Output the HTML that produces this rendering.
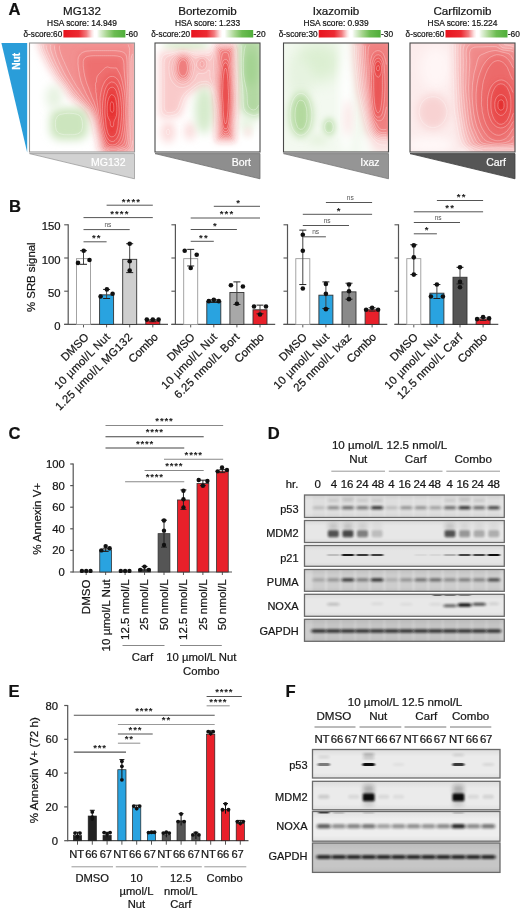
<!DOCTYPE html>
<html><head><meta charset="utf-8"><style>
html,body{margin:0;padding:0;background:#fff;width:520px;height:913px;overflow:hidden}
svg{display:block;font-family:"Liberation Sans", Arial, sans-serif}
text{stroke:#161616;stroke-width:0.22px}
text.w{stroke:#fff}
</style></head><body>
<svg width="520" height="913" viewBox="0 0 520 913">
<defs><linearGradient id="cbr" x1="0" x2="1" y1="0" y2="0"><stop offset="0" stop-color="#e8141e"/><stop offset="0.25" stop-color="#ec2a32"/><stop offset="0.37" stop-color="#f27a7e"/><stop offset="0.46" stop-color="#fde4e4"/><stop offset="0.5" stop-color="#ffffff"/><stop offset="0.54" stop-color="#ffffff"/><stop offset="0.58" stop-color="#e6f3df"/><stop offset="0.7" stop-color="#a8d690"/><stop offset="0.82" stop-color="#6cbc52"/><stop offset="1" stop-color="#4fae3a"/></linearGradient>
<filter id="bl6" x="-50%" y="-50%" width="200%" height="200%"><feGaussianBlur stdDeviation="6"/></filter>
<filter id="bl4" x="-50%" y="-50%" width="200%" height="200%"><feGaussianBlur stdDeviation="4"/></filter>
<filter id="bl3" x="-50%" y="-50%" width="200%" height="200%"><feGaussianBlur stdDeviation="3"/></filter>
<filter id="bl2" x="-50%" y="-50%" width="200%" height="200%"><feGaussianBlur stdDeviation="2"/></filter>
<filter id="bl8" x="-50%" y="-50%" width="200%" height="200%"><feGaussianBlur stdDeviation="8"/></filter>
<clipPath id="hc0"><rect x="29.5" y="43.0" width="105.0" height="109.0"/></clipPath>
<clipPath id="hc1"><rect x="155.0" y="43.0" width="105.0" height="109.0"/></clipPath>
<clipPath id="hc2"><rect x="283.5" y="43.0" width="105.0" height="109.0"/></clipPath>
<clipPath id="hc3"><rect x="410.0" y="43.0" width="105.0" height="109.0"/></clipPath>
<filter id="bl5" x="-50%" y="-50%" width="200%" height="200%"><feGaussianBlur stdDeviation="5"/></filter>
<filter id="bl05" x="-10%" y="-10%" width="120%" height="120%"><feGaussianBlur stdDeviation="0.4"/></filter>
<filter id="bl1" x="-50%" y="-50%" width="200%" height="200%"><feGaussianBlur stdDeviation="1"/></filter>
<filter id="bA" x="-50%" y="-200%" width="200%" height="500%"><feGaussianBlur stdDeviation="1.1 0.7"/></filter>
<filter id="bB" x="-50%" y="-200%" width="200%" height="500%"><feGaussianBlur stdDeviation="1.4 1.0"/></filter>
<filter id="bC" x="-50%" y="-100%" width="200%" height="300%"><feGaussianBlur stdDeviation="1.1 1.3"/></filter>
<filter id="bD" x="-50%" y="-100%" width="200%" height="300%"><feGaussianBlur stdDeviation="2.0 2.5"/></filter>
<linearGradient id="vig" x1="0" x2="0" y1="0" y2="1"><stop offset="0" stop-color="#000" stop-opacity="0.06"/><stop offset="0.25" stop-color="#000" stop-opacity="0"/><stop offset="0.8" stop-color="#000" stop-opacity="0"/><stop offset="1" stop-color="#000" stop-opacity="0.05"/></linearGradient>
<clipPath id="bc1"><rect x="304.5" y="495.0" width="199.8" height="22.5"/></clipPath>
<clipPath id="bc2"><rect x="304.5" y="520.5" width="199.8" height="22.0"/></clipPath>
<clipPath id="bc3"><rect x="304.5" y="545.5" width="199.8" height="20.799999999999955"/></clipPath>
<clipPath id="bc4"><rect x="304.5" y="569.5" width="199.8" height="21.799999999999955"/></clipPath>
<clipPath id="bc5"><rect x="304.5" y="594.3" width="199.8" height="22.0"/></clipPath>
<clipPath id="bc6"><rect x="304.5" y="619.3" width="199.8" height="22.0"/></clipPath>
<clipPath id="bc7"><rect x="312.5" y="749.5" width="187.5" height="28.5"/></clipPath>
<clipPath id="bc8"><rect x="312.5" y="781.3" width="187.5" height="28.5"/></clipPath>
<clipPath id="bc9"><rect x="312.5" y="811.5" width="187.5" height="29.700000000000045"/></clipPath>
<clipPath id="bc10"><rect x="312.5" y="843.0" width="187.5" height="29.399999999999977"/></clipPath></defs>
<text x="8.60" y="14.80" font-size="16.6" text-anchor="start" fill="#111" font-weight="bold" >A</text>
<text x="82.00" y="15.20" font-size="11.6" text-anchor="middle" fill="#161616" font-weight="normal" >MG132</text>
<text x="82.00" y="26.00" font-size="8.4" text-anchor="middle" fill="#161616" font-weight="normal" >HSA score: 14.949</text>
<text x="62.20" y="37.20" font-size="8.2" text-anchor="end" fill="#161616" font-weight="normal" >δ-score:60</text>
<rect x="63.40" y="30.00" width="62.00" height="7.50" fill="url(#cbr)" stroke="none" stroke-width="1" />
<text x="125.70" y="37.20" font-size="8.4" text-anchor="start" fill="#161616" font-weight="normal" >-60</text>
<polygon points="29.5,153.6 134.5,153.6 134.5,178.8" fill="#d2d2d2" stroke="#9a9a9a" stroke-width="0.8" stroke-linejoin="round"/>
<text x="125.50" y="165.90" font-size="10.5" text-anchor="end" fill="#fff" font-weight="normal" class="w">MG132</text>
<text x="207.50" y="15.20" font-size="11.6" text-anchor="middle" fill="#161616" font-weight="normal" >Bortezomib</text>
<text x="207.50" y="26.00" font-size="8.4" text-anchor="middle" fill="#161616" font-weight="normal" >HSA score: 1.233</text>
<text x="190.00" y="37.20" font-size="8.2" text-anchor="end" fill="#161616" font-weight="normal" >δ-score:20</text>
<rect x="191.20" y="30.00" width="62.00" height="7.50" fill="url(#cbr)" stroke="none" stroke-width="1" />
<text x="253.50" y="37.20" font-size="8.4" text-anchor="start" fill="#161616" font-weight="normal" >-20</text>
<polygon points="155.0,153.6 260.0,153.6 260.0,178.8" fill="#8e8e8e" stroke="#6e6e6e" stroke-width="0.8" stroke-linejoin="round"/>
<text x="251.00" y="165.90" font-size="10.5" text-anchor="end" fill="#fff" font-weight="normal" class="w">Bort</text>
<text x="336.00" y="15.20" font-size="11.6" text-anchor="middle" fill="#161616" font-weight="normal" >Ixazomib</text>
<text x="336.00" y="26.00" font-size="8.4" text-anchor="middle" fill="#161616" font-weight="normal" >HSA score: 0.939</text>
<text x="317.50" y="37.20" font-size="8.2" text-anchor="end" fill="#161616" font-weight="normal" >δ-score:30</text>
<rect x="318.70" y="30.00" width="62.00" height="7.50" fill="url(#cbr)" stroke="none" stroke-width="1" />
<text x="381.00" y="37.20" font-size="8.4" text-anchor="start" fill="#161616" font-weight="normal" >-30</text>
<polygon points="283.5,153.6 388.5,153.6 388.5,178.8" fill="#959595" stroke="#777777" stroke-width="0.8" stroke-linejoin="round"/>
<text x="379.50" y="165.90" font-size="10.5" text-anchor="end" fill="#fff" font-weight="normal" class="w">Ixaz</text>
<text x="462.50" y="15.20" font-size="11.6" text-anchor="middle" fill="#161616" font-weight="normal" >Carfilzomib</text>
<text x="462.50" y="26.00" font-size="8.4" text-anchor="middle" fill="#161616" font-weight="normal" >HSA score: 15.224</text>
<text x="444.30" y="37.20" font-size="8.2" text-anchor="end" fill="#161616" font-weight="normal" >δ-score:60</text>
<rect x="445.50" y="30.00" width="62.00" height="7.50" fill="url(#cbr)" stroke="none" stroke-width="1" />
<text x="507.80" y="37.20" font-size="8.4" text-anchor="start" fill="#161616" font-weight="normal" >-60</text>
<polygon points="410.0,153.6 515.0,153.6 515.0,178.8" fill="#565656" stroke="#3e3e3e" stroke-width="0.8" stroke-linejoin="round"/>
<text x="506.00" y="165.90" font-size="10.5" text-anchor="end" fill="#fff" font-weight="normal" class="w">Carf</text>
<polygon points="1.4,43 27.2,43 27.2,152.5" fill="#2a9dd9"/>
<text x="0" y="0" font-size="10.2" font-weight="bold" fill="#fff" class="w" text-anchor="middle" transform="translate(20.2,61.3) rotate(-90)">Nut</text>
<g clip-path="url(#hc0)"><rect x="29.5" y="43.0" width="105.0" height="109.0" fill="#fff"/>
<polygon points="38,38 140,38 140,158 101,158 98,138 93,122 83,108 70,96 59,82 49,66 41,50" fill="#f6b2b2" opacity="1" filter="url(#bl4)"/>
<polygon points="52,38 134,38 131,158 106,158 102,134 96,118 86,104 74,90 64,74 56,56" fill="#f29090" opacity="1" filter="url(#bl4)"/>
<polygon points="80,54 126,54 126,146 106,146 100,114 90,97 83,78" fill="#ee7070" opacity="1" filter="url(#bl5)"/>
<ellipse cx="112" cy="112" rx="12" ry="38" fill="#eb5454" opacity="1" filter="url(#bl4)"/>
<ellipse cx="112" cy="112" rx="7" ry="27" fill="#e83a3a" opacity="1" filter="url(#bl3)"/>
<ellipse cx="112" cy="107" rx="3" ry="9" fill="#e42828" opacity="1" filter="url(#bl2)"/>
<polygon points="131,55 140,55 140,158 131,158" fill="#fff" opacity="0.25" filter="url(#bl3)"/>
<polygon points="95,150 135,150 135,160 95,160" fill="#fff" opacity="0.35" filter="url(#bl2)"/>
<rect x="50" y="108" width="38" height="32" rx="10" fill="#cce5be" filter="url(#bl4)"/>
<ellipse cx="54" cy="97" rx="8" ry="12" fill="#e6f2e0" opacity="1" filter="url(#bl5)"/>
<path d="M98.3,150.5 L97.5,148.5 L97.1,147.5 L96.6,145.5 L96.4,144.5 L95.9,142.5 L95.5,140.5 L95.3,139.5 L94.9,137.5 L94.5,135.5 L94.3,134.5 L93.8,132.5 L93.5,130.5 L93.3,129.5 L92.9,127.5 L92.5,125.8 L92.2,124.5 L91.7,122.5 L91.4,121.5 L90.8,119.5 L90.4,118.5 L89.6,116.5 L89.1,115.5 L88.5,114.3 L87.5,112.6 L86.7,111.5 L85.9,110.5 L85.0,109.5 L84.0,108.5 L82.9,107.5 L81.6,106.5 L80.5,105.6 L79.5,104.9 L78.5,104.2 L77.4,103.5 L76.0,102.5 L74.6,101.5 L73.5,100.7 L72.5,99.9 L71.5,98.9 L70.5,97.9 L69.5,96.7 L68.6,95.5 L67.9,94.5 L67.2,93.5 L66.5,92.4 L65.5,90.9 L64.6,89.5 L63.9,88.5 L63.2,87.5 L62.5,86.5 L61.5,85.2 L60.5,84.0 L59.5,82.9 L58.5,81.7 L57.5,80.6 L56.6,79.5 L55.8,78.5 L55.0,77.5 L54.3,76.5 L53.5,75.3 L52.5,73.8 L51.8,72.5 L51.2,71.5 L50.5,70.3 L49.5,68.7 L48.8,67.5 L48.2,66.5 L47.5,65.1 L46.7,63.5 L46.2,62.5 L45.5,61.1 L44.7,59.5 L44.2,58.5 L43.5,57.1 L42.7,55.5 L42.2,54.5 L41.5,52.9 L40.9,51.5 L40.5,50.4 L39.9,48.5 L39.5,47.0 L39.2,45.5" fill="none" stroke="#fff" stroke-opacity="0.4" stroke-width="0.75"/>
<path d="M99.8,150.5 L99.4,149.5 L98.5,147.6 L98.1,146.5 L97.6,144.5 L97.3,143.5 L96.9,141.5 L96.5,139.7 L96.2,138.5 L95.8,136.5 L95.5,135.2 L95.1,133.5 L94.7,131.5 L94.5,130.5 L94.0,128.5 L93.6,126.5 L93.4,125.5 L92.9,123.5 L92.5,122.1 L92.0,120.5 L91.5,118.9 L90.9,117.5 L90.5,116.4 L89.6,114.5 L89.1,113.5 L88.5,112.5 L87.5,111.0 L86.5,109.8 L85.5,108.7 L84.5,107.7 L83.5,106.8 L82.5,105.9 L81.5,105.1 L80.5,104.4 L79.4,103.5 L78.0,102.5 L76.7,101.5 L75.5,100.6 L74.5,99.8 L73.5,98.9 L72.5,97.9 L71.5,96.8 L70.5,95.7 L69.6,94.5 L68.9,93.5 L68.2,92.5 L67.5,91.5 L66.5,90.0 L65.5,88.5 L64.8,87.5 L64.1,86.5 L63.4,85.5 L62.5,84.3 L61.5,83.1 L60.5,81.9 L59.5,80.6 L58.6,79.5 L57.8,78.5 L57.1,77.5 L56.3,76.5 L55.5,75.4 L54.5,73.8 L53.7,72.5 L53.2,71.5 L52.5,70.3 L51.5,68.6 L50.8,67.5 L50.2,66.5 L49.5,65.2 L48.6,63.5 L48.1,62.5 L47.5,61.3 L46.6,59.5 L46.1,58.5 L45.5,57.3 L44.7,55.5 L44.2,54.5 L43.5,52.9 L42.9,51.5 L42.5,50.5 L41.8,48.5 L41.5,47.3 L41.2,45.5" fill="none" stroke="#fff" stroke-opacity="0.4" stroke-width="0.75"/>
<path d="M101.2,150.5 L100.5,149.1 L99.6,147.5 L99.2,146.5 L98.6,144.5 L98.3,143.5 L97.8,141.5 L97.5,140.0 L97.2,138.5 L96.7,136.5 L96.5,135.5 L96.0,133.5 L95.5,131.5 L95.3,130.5 L94.9,128.5 L94.5,126.8 L94.2,125.5 L93.8,123.5 L93.5,122.4 L92.9,120.5 L92.5,119.2 L91.9,117.5 L91.5,116.5 L90.6,114.5 L90.1,113.5 L89.5,112.4 L88.5,110.8 L87.5,109.5 L86.6,108.5 L85.7,107.5 L84.7,106.5 L83.6,105.5 L82.5,104.6 L81.5,103.8 L80.5,103.0 L79.5,102.2 L78.5,101.4 L77.4,100.5 L76.2,99.5 L75.1,98.5 L74.1,97.5 L73.1,96.5 L72.2,95.5 L71.3,94.5 L70.5,93.4 L69.5,92.1 L68.5,90.6 L67.8,89.5 L67.1,88.5 L66.4,87.5 L65.5,86.2 L64.5,84.7 L63.6,83.5 L62.8,82.5 L62.0,81.5 L61.2,80.5 L60.5,79.5 L59.5,78.2 L58.5,76.8 L57.6,75.5 L57.0,74.5 L56.4,73.5 L55.5,72.1 L54.6,70.5 L54.0,69.5 L53.4,68.5 L52.5,66.9 L51.7,65.5 L51.2,64.5 L50.5,63.2 L49.6,61.5 L49.2,60.5 L48.5,59.2 L47.7,57.5 L47.2,56.5 L46.5,54.9 L45.8,53.5 L45.4,52.5 L44.6,50.5 L44.2,49.5 L43.6,47.5 L43.4,46.5 L43.3,44.5" fill="none" stroke="#fff" stroke-opacity="0.4" stroke-width="0.75"/>
<path d="M102.6,150.5 L102.1,149.5 L101.4,148.5 L100.5,147.0 L99.9,145.5 L99.5,144.4 L99.0,142.5 L98.5,140.6 L98.2,139.5 L97.8,137.5 L97.5,136.3 L97.1,134.5 L96.6,132.5 L96.3,131.5 L95.9,129.5 L95.5,127.7 L95.2,126.5 L94.8,124.5 L94.5,123.0 L94.1,121.5 L93.5,119.5 L93.2,118.5 L92.5,116.7 L92.0,115.5 L91.5,114.3 L90.6,112.5 L90.0,111.5 L89.4,110.5 L88.5,109.2 L87.5,108.0 L86.5,106.9 L85.5,105.8 L84.5,104.9 L83.5,104.0 L82.5,103.2 L81.5,102.3 L80.5,101.5 L79.3,100.5 L78.2,99.5 L77.2,98.5 L76.1,97.5 L75.1,96.5 L74.2,95.5 L73.3,94.5 L72.4,93.5 L71.5,92.4 L70.5,91.0 L69.5,89.6 L68.8,88.5 L68.1,87.5 L67.5,86.5 L66.5,85.0 L65.5,83.6 L64.7,82.5 L63.9,81.5 L63.2,80.5 L62.5,79.5 L61.5,78.1 L60.5,76.7 L59.7,75.5 L59.1,74.5 L58.5,73.5 L57.5,71.8 L56.8,70.5 L56.2,69.5 L55.5,68.2 L54.6,66.5 L54.0,65.5 L53.5,64.5 L52.5,62.5 L52.0,61.5 L51.5,60.5 L50.6,58.5 L50.2,57.5 L49.5,56.0 L48.9,54.5 L48.4,53.5 L47.6,51.5 L47.2,50.5 L46.5,48.5 L46.3,47.5 L46.2,45.5" fill="none" stroke="#fff" stroke-opacity="0.4" stroke-width="0.75"/>
<path d="M104.2,150.5 L103.5,149.5 L102.5,148.4 L101.5,146.9 L100.8,145.5 L100.5,144.5 L99.9,142.5 L99.5,141.1 L99.1,139.5 L98.6,137.5 L98.4,136.5 L97.9,134.5 L97.5,133.0 L97.1,131.5 L96.7,129.5 L96.5,128.5 L96.0,126.5 L95.6,124.5 L95.4,123.5 L94.9,121.5 L94.5,119.9 L94.1,118.5 L93.5,116.8 L93.0,115.5 L92.5,114.2 L91.7,112.5 L91.1,111.5 L90.5,110.4 L89.5,108.8 L88.5,107.5 L87.6,106.5 L86.7,105.5 L85.8,104.5 L84.7,103.5 L83.6,102.5 L82.5,101.5 L81.5,100.6 L80.5,99.7 L79.5,98.7 L78.5,97.6 L77.5,96.6 L76.5,95.5 L75.7,94.5 L74.8,93.5 L74.0,92.5 L73.1,91.5 L72.4,90.5 L71.5,89.3 L70.5,87.9 L69.6,86.5 L69.0,85.5 L68.3,84.5 L67.5,83.3 L66.5,81.8 L65.5,80.5 L64.8,79.5 L64.2,78.5 L63.5,77.5 L62.5,76.0 L61.6,74.5 L61.1,73.5 L60.5,72.5 L59.5,70.7 L58.9,69.5 L58.4,68.5 L57.5,66.7 L56.9,65.5 L56.3,64.5 L55.5,62.6 L55.0,61.5 L54.5,60.4 L53.7,58.5 L53.3,57.5 L52.6,55.5 L52.2,54.5 L51.5,52.5 L51.2,51.5 L50.6,49.5 L50.4,48.5 L50.2,46.5 L50.5,44.8" fill="none" stroke="#fff" stroke-opacity="0.4" stroke-width="0.75"/>
<path d="M132.5,140.6 L132.4,142.5 L132.1,144.5 L131.5,146.2 L130.9,147.5 L130.1,148.5 L129.1,149.5 L128.3,150.5" fill="none" stroke="#fff" stroke-opacity="0.4" stroke-width="0.75"/>
<path d="M106.1,150.5 L105.1,149.5 L104.0,148.5 L103.1,147.5 L102.3,146.5 L101.5,144.7 L101.1,143.5 L100.5,141.6 L100.2,140.5 L99.7,138.5 L99.4,137.5 L98.9,135.5 L98.5,133.8 L98.2,132.5 L97.7,130.5 L97.5,129.5 L97.1,127.5 L96.6,125.5 L96.4,124.5 L96.0,122.5 L95.5,120.5 L95.3,119.5 L94.7,117.5 L94.4,116.5 L93.7,114.5 L93.3,113.5 L92.5,111.7 L91.9,110.5 L91.3,109.5 L90.5,108.2 L89.5,106.8 L88.5,105.6 L87.6,104.5 L86.7,103.5 L85.8,102.5 L84.8,101.5 L83.8,100.5 L82.9,99.5 L82.0,98.5 L81.1,97.5 L80.2,96.5 L79.4,95.5 L78.5,94.4 L77.5,93.2 L76.5,92.0 L75.5,90.8 L74.6,89.5 L73.9,88.5 L73.2,87.5 L72.5,86.4 L71.5,84.9 L70.6,83.5 L69.9,82.5 L69.3,81.5 L68.5,80.3 L67.5,78.7 L66.7,77.5 L66.1,76.5 L65.5,75.5 L64.5,73.7 L63.9,72.5 L63.4,71.5 L62.5,69.8 L61.9,68.5 L61.4,67.5 L60.5,65.7 L59.9,64.5 L59.5,63.5 L58.7,61.5 L58.3,60.5 L57.5,58.7 L57.0,57.5 L56.5,56.2 L56.0,54.5 L55.5,52.7 L55.2,51.5 L54.7,49.5 L54.5,48.5 L54.4,46.5 L54.6,45.5" fill="none" stroke="#fff" stroke-opacity="0.4" stroke-width="0.75"/>
<path d="M132.5,54.1 L131.9,55.5 L131.5,56.5 L131.1,58.5 L131.0,60.5 L130.9,62.5 L130.9,64.5 L130.9,66.5 L130.9,68.5 L130.9,70.5 L130.9,72.5 L130.9,74.5 L130.9,76.5 L130.9,78.5 L130.9,80.5 L130.9,82.5 L130.9,84.5 L131.0,86.5 L131.0,88.5 L130.9,90.5 L131.0,92.5 L131.0,94.5 L131.0,96.5 L131.0,98.5 L131.0,100.5 L131.0,102.5 L131.0,104.5 L131.0,106.5 L131.0,108.5 L131.0,110.5 L131.0,112.5 L131.0,114.5 L131.0,116.5 L130.9,118.5 L130.9,120.5 L130.8,122.5 L130.8,124.5 L130.7,126.5 L130.7,128.5 L130.7,130.5 L130.6,132.5 L130.6,134.5 L130.5,136.5 L130.5,137.5 L130.4,139.5 L130.3,141.5 L130.1,143.5 L129.7,145.5 L129.4,146.5 L128.5,147.8 L127.5,148.7 L126.3,149.5 L124.6,150.5" fill="none" stroke="#fff" stroke-opacity="0.4" stroke-width="0.75"/>
<path d="M109.4,150.5 L107.5,149.6 L106.5,149.1 L105.5,148.4 L104.4,147.5 L103.5,146.5 L102.5,144.6 L102.1,143.5 L101.5,141.9 L101.1,140.5 L100.6,138.5 L100.3,137.5 L99.8,135.5 L99.5,134.4 L99.0,132.5 L98.6,130.5 L98.4,129.5 L97.9,127.5 L97.5,125.6 L97.3,124.5 L96.9,122.5 L96.5,120.7 L96.2,119.5 L95.7,117.5 L95.5,116.5 L94.9,114.5 L94.5,113.4 L93.7,111.5 L93.3,110.5 L92.5,108.9 L91.7,107.5 L91.1,106.5 L90.4,105.5 L89.5,104.3 L88.5,102.9 L87.5,101.6 L86.6,100.5 L85.9,99.5 L85.1,98.5 L84.4,97.5 L83.5,96.1 L82.5,94.8 L81.5,93.5 L80.8,92.5 L80.2,91.5 L79.5,90.2 L78.5,88.8 L77.5,87.5 L76.8,86.5 L76.2,85.5 L75.5,84.3 L74.5,82.6 L73.9,81.5 L73.3,80.5 L72.5,79.2 L71.7,77.5 L71.1,76.5 L70.5,75.5 L69.5,73.6 L69.0,72.5 L68.5,71.4 L67.6,69.5 L67.1,68.5 L66.5,67.2 L65.7,65.5 L65.2,64.5 L64.5,62.7 L63.9,61.5 L63.4,60.5 L62.5,58.5 L62.1,57.5 L61.5,55.9 L61.0,54.5 L60.5,53.2 L60.1,51.5 L59.7,49.5 L59.4,48.5 L59.4,46.5 L59.8,45.5" fill="none" stroke="#fff" stroke-opacity="0.4" stroke-width="0.75"/>
<path d="M128.1,44.5 L128.5,45.7 L129.2,47.5 L129.5,48.5 L129.7,50.5 L129.5,52.5 L129.5,53.5 L129.3,55.5 L129.1,57.5 L129.1,59.5 L129.1,61.5 L129.1,63.5 L129.1,65.5 L129.1,67.5 L129.1,69.5 L129.1,71.5 L129.1,73.5 L129.1,75.5 L129.1,77.5 L129.2,79.5 L129.2,81.5 L129.3,83.5 L129.3,85.5 L129.4,87.5 L129.4,89.5 L129.4,91.5 L129.4,93.5 L129.5,95.5 L129.5,96.5 L129.5,98.2 L129.5,99.5 L129.5,100.5 L129.6,102.5 L129.6,104.5 L129.6,106.5 L129.6,108.5 L129.6,110.5 L129.6,112.5 L129.6,114.5 L129.6,116.5 L129.5,118.5 L129.5,120.5 L129.5,121.5 L129.4,123.5 L129.4,125.5 L129.3,127.5 L129.2,129.5 L129.2,131.5 L129.1,133.5 L129.1,135.5 L129.0,137.5 L128.9,139.5 L128.7,141.5 L128.5,142.8 L128.2,144.5 L127.5,146.2 L126.5,147.4 L125.5,148.0 L124.3,148.5 L122.5,149.0 L120.5,149.5 L119.5,149.8 L117.5,150.3" fill="none" stroke="#fff" stroke-opacity="0.4" stroke-width="0.75"/>
<path d="M118.5,148.5 L116.5,149.0 L114.5,149.3 L112.5,149.3 L110.5,149.2 L108.5,148.7 L107.5,148.3 L106.1,147.5 L104.9,146.5 L104.1,145.5 L103.5,144.3 L102.8,142.5 L102.4,141.5 L101.8,139.5 L101.5,138.5 L101.0,136.5 L100.5,134.8 L100.2,133.5 L99.7,131.5 L99.5,130.5 L99.1,128.5 L98.6,126.5 L98.4,125.5 L98.0,123.5 L97.6,121.5 L97.4,120.5 L97.1,118.5 L96.7,116.5 L96.4,115.5 L95.9,113.5 L95.5,112.3 L94.9,110.5 L94.5,109.4 L93.6,107.5 L93.2,106.5 L92.5,105.1 L91.5,103.5 L90.9,102.5 L90.3,101.5 L89.5,100.1 L88.7,98.5 L88.2,97.5 L87.5,96.3 L86.5,94.5 L86.0,93.5 L85.5,92.4 L84.7,90.5 L84.2,89.5 L83.5,88.0 L82.9,86.5 L82.5,85.5 L81.7,83.5 L81.3,82.5 L80.7,80.5 L80.5,79.4 L80.0,77.5 L79.5,75.7 L79.3,74.5 L79.1,72.5 L78.7,70.5 L78.5,69.2 L78.3,67.5 L78.1,65.5 L77.9,63.5 L78.0,61.5 L78.0,59.5 L78.3,57.5 L78.8,56.5 L79.5,55.1 L80.5,53.9 L81.5,53.1 L82.5,52.4 L84.5,51.7 L85.5,51.3 L87.5,51.0 L89.5,50.9 L91.5,50.7 L93.5,50.6 L95.5,50.6 L97.5,50.6 L99.5,50.6 L101.5,50.6 L103.5,50.6 L105.5,50.6 L107.5,50.6 L109.5,50.6 L111.5,50.6 L113.5,50.6 L115.5,50.7 L117.5,50.9 L119.5,51.1 L121.3,51.5 L122.5,51.9 L123.8,52.5 L125.2,53.5 L125.9,54.5 L126.5,56.5 L126.7,57.5 L126.9,59.5 L127.0,61.5 L127.1,63.5 L127.1,65.5 L127.1,67.5 L127.1,69.5 L127.1,71.5 L127.2,73.5 L127.3,75.5 L127.4,77.5 L127.4,79.5 L127.4,81.5 L127.5,83.5 L127.6,84.5 L127.7,86.5 L127.7,88.5 L127.8,90.5 L127.9,92.5 L127.9,94.5 L128.0,96.5 L128.1,98.5 L128.1,100.5 L128.2,102.5 L128.2,104.5 L128.2,106.5 L128.3,108.5 L128.3,110.5 L128.3,112.5 L128.3,114.5 L128.2,116.5 L128.2,118.5 L128.1,120.5 L128.1,122.5 L128.0,124.5 L128.0,126.5 L127.9,128.5 L127.8,130.5 L127.7,132.5 L127.6,134.5 L127.5,136.5 L127.4,137.5 L127.2,139.5 L126.9,141.5 L126.5,143.1 L126.0,144.5 L125.5,145.5 L124.4,146.5 L122.5,147.3 L121.5,147.7 L119.5,148.2 L118.5,148.5" fill="none" stroke="#fff" stroke-opacity="0.4" stroke-width="0.75"/>
<path d="M116.5,147.7 L114.5,148.0 L112.5,148.1 L110.5,148.0 L108.7,147.5 L107.5,147.0 L106.5,146.3 L105.5,145.3 L104.5,143.6 L104.0,142.5 L103.5,141.4 L102.8,139.5 L102.5,138.5 L101.9,136.5 L101.5,134.8 L101.2,133.5 L100.7,131.5 L100.5,130.5 L100.1,128.5 L99.6,126.5 L99.5,125.5 L99.1,123.5 L98.7,121.5 L98.5,120.2 L98.2,118.5 L97.9,116.5 L97.5,114.5 L97.3,113.5 L96.9,111.5 L96.5,109.7 L96.1,108.5 L95.5,106.5 L95.2,105.5 L94.5,103.5 L94.2,102.5 L93.5,100.7 L93.0,99.5 L92.5,98.5 L91.6,96.5 L91.3,95.5 L90.6,93.5 L90.2,92.5 L89.5,90.7 L89.1,89.5 L88.5,87.8 L88.0,86.5 L87.5,85.3 L86.8,83.5 L86.5,82.5 L85.9,80.5 L85.5,79.0 L85.1,77.5 L84.6,75.5 L84.5,74.5 L84.0,72.5 L83.8,70.5 L83.5,68.5 L83.4,67.5 L83.2,65.5 L83.2,63.5 L83.2,61.5 L83.5,60.1 L84.3,58.5 L85.3,57.5 L86.5,56.8 L87.5,56.4 L89.5,56.0 L91.5,55.8 L93.5,55.7 L95.5,55.7 L97.5,55.7 L99.5,55.7 L101.5,55.7 L103.5,55.7 L105.5,55.7 L107.5,55.7 L109.5,55.7 L111.5,55.7 L113.5,55.7 L115.5,55.8 L117.5,56.0 L119.5,56.5 L120.5,56.8 L121.6,57.5 L122.5,58.6 L123.3,60.5 L123.6,61.5 L123.9,63.5 L124.0,65.5 L124.0,67.5 L124.1,69.5 L124.3,71.5 L124.5,73.5 L124.5,74.5 L124.7,76.5 L124.9,78.5 L125.1,80.5 L125.3,82.5 L125.5,84.0 L125.7,85.5 L125.8,87.5 L126.0,89.5 L126.1,91.5 L126.3,93.5 L126.4,95.5 L126.5,96.9 L126.6,98.5 L126.7,100.5 L126.7,102.5 L126.7,104.5 L126.8,106.5 L126.9,108.5 L126.9,110.5 L126.9,112.5 L126.9,114.5 L126.8,116.5 L126.8,118.5 L126.7,120.5 L126.7,122.5 L126.6,124.5 L126.5,126.5 L126.4,127.5 L126.3,129.5 L126.1,131.5 L125.9,133.5 L125.8,135.5 L125.6,137.5 L125.4,138.5 L124.9,140.5 L124.5,141.9 L123.8,143.5 L123.0,144.5 L121.8,145.5 L120.5,146.2 L119.5,146.7 L117.5,147.4 L116.5,147.7" fill="none" stroke="#fff" stroke-opacity="0.4" stroke-width="0.75"/>
<path d="M114.5,146.7 L112.5,146.8 L110.5,146.6 L109.5,146.4 L107.8,145.5 L106.7,144.5 L106.0,143.5 L105.4,142.5 L104.5,140.6 L104.1,139.5 L103.5,137.8 L103.1,136.5 L102.6,134.5 L102.4,133.5 L101.9,131.5 L101.5,129.9 L101.2,128.5 L100.8,126.5 L100.5,124.5 L100.4,123.5 L100.0,121.5 L99.7,119.5 L99.5,118.2 L99.3,116.5 L98.9,114.5 L98.6,112.5 L98.5,111.5 L98.2,109.5 L97.9,107.5 L97.7,105.5 L97.5,104.2 L97.2,102.5 L97.0,100.5 L96.6,98.5 L96.4,97.5 L96.4,95.5 L96.2,93.5 L95.7,91.5 L95.8,89.5 L95.6,87.5 L95.5,86.5 L95.4,84.5 L95.5,83.5 L96.4,81.5 L96.4,79.5 L96.6,78.5 L97.2,76.5 L97.8,75.5 L98.5,74.4 L99.5,73.4 L100.5,72.4 L101.5,71.2 L102.5,70.2 L103.5,69.2 L104.5,68.3 L105.7,67.5 L107.5,66.9 L109.5,67.5 L110.5,67.8 L112.5,67.9 L114.5,68.0 L116.5,67.9 L117.3,69.5 L117.9,70.5 L118.5,71.5 L119.5,73.2 L120.1,74.5 L120.5,75.5 L121.2,77.5 L121.5,78.6 L122.0,80.5 L122.5,82.4 L122.7,83.5 L123.1,85.5 L123.5,87.2 L123.7,88.5 L124.1,90.5 L124.4,92.5 L124.5,93.8 L124.7,95.5 L124.9,97.5 L125.0,99.5 L125.1,101.5 L125.2,103.5 L125.3,105.5 L125.4,107.5 L125.4,109.5 L125.5,111.5 L125.5,113.5 L125.4,115.5 L125.3,117.5 L125.2,119.5 L125.1,121.5 L125.1,123.5 L124.9,125.5 L124.7,127.5 L124.5,129.5 L124.4,130.5 L124.1,132.5 L123.8,134.5 L123.5,136.2 L123.2,137.5 L122.6,139.5 L122.2,140.5 L121.5,141.9 L120.5,143.3 L119.5,144.3 L118.5,145.1 L117.5,145.7 L115.5,146.4 L114.5,146.7" fill="none" stroke="#fff" stroke-opacity="0.4" stroke-width="0.75"/>
<path d="M114.5,144.7 L112.5,145.0 L110.5,144.8 L109.5,144.4 L108.3,143.5 L107.4,142.5 L106.5,141.0 L105.8,139.5 L105.4,138.5 L104.6,136.5 L104.3,135.5 L103.8,133.5 L103.5,132.4 L103.0,130.5 L102.6,128.5 L102.4,127.5 L102.1,125.5 L101.9,123.5 L101.6,121.5 L101.4,120.5 L101.2,118.5 L100.9,116.5 L100.7,114.5 L100.5,113.5 L100.3,111.5 L100.2,109.5 L100.1,107.5 L100.1,105.5 L100.0,103.5 L99.9,101.5 L100.1,99.5 L100.1,97.5 L100.4,95.5 L100.6,94.5 L100.9,92.5 L101.4,90.5 L101.7,89.5 L102.1,87.5 L102.5,86.4 L103.3,84.5 L103.8,83.5 L104.5,82.0 L105.4,80.5 L106.3,79.5 L107.4,78.5 L108.5,77.5 L109.5,76.9 L110.7,76.5 L112.5,76.4 L113.5,76.5 L115.5,77.4 L116.5,78.2 L117.5,79.4 L118.3,80.5 L118.8,81.5 L119.5,83.1 L120.1,84.5 L120.5,85.6 L121.1,87.5 L121.5,89.5 L121.7,90.5 L122.1,92.5 L122.4,94.5 L122.5,95.5 L122.8,97.5 L123.0,99.5 L123.2,101.5 L123.3,103.5 L123.4,105.5 L123.5,106.6 L123.6,108.5 L123.7,110.5 L123.7,112.5 L123.6,114.5 L123.5,116.5 L123.5,117.5 L123.3,119.5 L123.2,121.5 L123.1,123.5 L122.9,125.5 L122.6,127.5 L122.5,128.5 L122.3,130.5 L121.9,132.5 L121.5,134.5 L121.3,135.5 L120.7,137.5 L120.3,138.5 L119.5,140.0 L118.6,141.5 L117.8,142.5 L116.8,143.5 L115.5,144.3 L114.5,144.7" fill="none" stroke="#fff" stroke-opacity="0.4" stroke-width="0.75"/>
<path d="M112.5,141.5 L111.5,141.5 L109.5,140.6 L108.5,139.6 L107.8,138.5 L107.2,137.5 L106.5,136.1 L105.9,134.5 L105.5,133.4 L105.0,131.5 L104.6,129.5 L104.3,128.5 L103.9,126.5 L103.7,124.5 L103.5,122.8 L103.3,121.5 L103.1,119.5 L102.9,117.5 L102.7,115.5 L102.5,114.0 L102.4,112.5 L102.3,110.5 L102.4,108.5 L102.5,106.5 L102.5,105.5 L102.6,103.5 L102.8,101.5 L103.1,99.5 L103.3,97.5 L103.5,96.2 L103.9,94.5 L104.3,92.5 L104.5,91.5 L105.1,89.5 L105.5,88.5 L106.4,86.5 L107.0,85.5 L107.7,84.5 L108.7,83.5 L110.2,82.5 L111.5,81.9 L113.5,82.3 L114.5,82.8 L115.5,83.6 L116.5,84.7 L117.5,86.4 L118.0,87.5 L118.5,88.9 L119.0,90.5 L119.5,92.3 L119.8,93.5 L120.1,95.5 L120.5,97.5 L120.6,98.5 L120.8,100.5 L121.1,102.5 L121.2,104.5 L121.4,106.5 L121.5,108.1 L121.6,109.5 L121.7,111.5 L121.6,113.5 L121.5,115.1 L121.4,116.5 L121.3,118.5 L121.1,120.5 L120.9,122.5 L120.7,124.5 L120.5,126.5 L120.3,127.5 L120.0,129.5 L119.6,131.5 L119.4,132.5 L118.8,134.5 L118.4,135.5 L117.5,137.3 L116.8,138.5 L116.0,139.5 L115.0,140.5 L113.5,141.4 L112.5,141.5" fill="none" stroke="#fff" stroke-opacity="0.4" stroke-width="0.75"/>
<path d="M113.5,136.6 L111.5,136.8 L110.3,136.5 L109.1,135.5 L108.5,134.5 L107.6,132.5 L107.4,131.5 L106.9,129.5 L106.5,128.1 L106.2,126.5 L106.0,124.5 L105.8,122.5 L105.6,120.5 L105.5,119.5 L105.2,117.5 L105.1,115.5 L104.9,113.5 L104.9,111.5 L104.9,109.5 L105.0,107.5 L105.1,105.5 L105.2,103.5 L105.3,101.5 L105.5,99.9 L105.7,98.5 L106.1,96.5 L106.5,95.0 L107.0,93.5 L107.5,91.5 L107.9,90.5 L108.5,89.5 L109.5,88.3 L110.6,87.5 L112.5,87.2 L113.5,87.5 L114.7,88.5 L115.5,89.5 L116.5,91.5 L116.7,92.5 L117.3,94.5 L117.6,95.5 L118.1,97.5 L118.4,99.5 L118.5,100.5 L118.7,102.5 L118.8,104.5 L118.9,106.5 L119.1,108.5 L119.1,110.5 L119.2,112.5 L119.1,114.5 L118.9,116.5 L118.7,118.5 L118.5,120.2 L118.3,121.5 L118.2,123.5 L118.0,125.5 L117.7,127.5 L117.5,128.5 L117.0,130.5 L116.6,132.5 L116.1,133.5 L115.5,134.7 L114.5,136.0 L113.5,136.6" fill="none" stroke="#fff" stroke-opacity="0.4" stroke-width="0.75"/>
<path d="M112.5,127.0 L111.2,126.5 L110.5,124.9 L110.3,123.5 L110.2,121.5 L109.5,120.1 L108.6,118.5 L108.2,117.5 L107.5,115.5 L107.4,114.5 L107.2,112.5 L107.2,110.5 L107.2,108.5 L107.2,106.5 L107.4,104.5 L107.5,103.5 L107.8,101.5 L108.3,99.5 L108.6,98.5 L109.5,96.5 L110.3,95.5 L111.5,94.5 L113.5,95.2 L114.5,96.4 L115.2,97.5 L115.6,98.5 L116.0,100.5 L116.3,102.5 L116.5,104.0 L116.7,105.5 L116.8,107.5 L116.8,109.5 L116.8,111.5 L116.7,113.5 L116.5,115.4 L116.1,116.5 L115.5,118.3 L114.8,119.5 L114.3,120.5 L113.7,122.5 L113.6,124.5 L113.5,125.7 L112.5,127.0" fill="none" stroke="#fff" stroke-opacity="0.4" stroke-width="0.75"/>
<path d="M112.5,112.4 L110.8,111.5 L110.4,110.5 L110.2,108.5 L110.2,106.5 L110.3,104.5 L110.5,103.4 L111.5,101.7 L113.1,102.5 L113.5,104.1 L113.7,105.5 L113.8,107.5 L113.8,109.5 L113.5,111.1 L112.5,112.4" fill="none" stroke="#fff" stroke-opacity="0.4" stroke-width="0.75"/>
<path d="M74.5,134.6 L72.5,134.7 L70.5,134.7 L68.5,134.8 L66.5,134.7 L64.5,134.7 L63.0,134.5 L61.5,134.1 L59.5,133.5 L58.5,132.9 L57.5,132.0 L56.5,130.5 L56.1,129.5 L55.7,127.5 L55.5,126.5 L55.4,124.5 L55.4,122.5 L55.5,121.1 L55.8,119.5 L56.5,117.9 L57.4,116.5 L58.4,115.5 L59.5,114.8 L60.5,114.4 L62.5,114.0 L64.5,113.6 L65.5,113.5 L67.5,113.3 L69.5,113.2 L71.5,113.4 L72.9,113.5 L74.5,113.7 L76.5,114.1 L77.8,114.5 L79.5,115.5 L80.4,116.5 L81.0,117.5 L81.5,118.6 L82.0,120.5 L82.4,122.5 L82.5,123.6 L82.6,125.5 L82.5,126.7 L82.2,128.5 L81.6,130.5 L81.0,131.5 L80.0,132.5 L78.5,133.4 L77.5,133.9 L75.5,134.4 L74.5,134.6" fill="none" stroke="#fff" stroke-opacity="0.45" stroke-width="0.75"/>
</g>
<rect x="29.50" y="43.00" width="105.00" height="109.00" fill="none" stroke="#979797" stroke-width="1.1" />
<g clip-path="url(#hc1)"><rect x="155.0" y="43.0" width="105.0" height="109.0" fill="#fff"/>
<ellipse cx="186" cy="46" rx="24" ry="4" fill="#d8edcc" opacity="1" filter="url(#bl3)"/>
<polygon points="160,52 216,52 216,86 196,90 186,96 180,116 160,118" fill="#f9caca" opacity="1" filter="url(#bl4)"/>
<ellipse cx="168" cy="132" rx="7" ry="11" fill="#fbd8d8" opacity="1" filter="url(#bl4)"/>
<ellipse cx="190" cy="131" rx="5" ry="9" fill="#fad6d6" opacity="1" filter="url(#bl4)"/>
<ellipse cx="183" cy="68" rx="10" ry="16" fill="#f4a0a0" opacity="1" filter="url(#bl3)"/>
<ellipse cx="183" cy="68" rx="6.5" ry="11" fill="#ef7e7e" opacity="1" filter="url(#bl2)"/>
<ellipse cx="202" cy="64" rx="5" ry="7" fill="#f5a8a8" opacity="1" filter="url(#bl2)"/>
<polygon points="214,44 237,44 238,100 235,142 216,142 212,100" fill="#f6b0b0" opacity="1" filter="url(#bl3)"/>
<polygon points="218,48 233,48 234,100 232,138 220,138 217,100" fill="#ef7474" opacity="1" filter="url(#bl3)"/>
<ellipse cx="225.5" cy="96" rx="5.5" ry="36" fill="#ea5050" opacity="1" filter="url(#bl2)"/>
<polygon points="239,38 264,38 264,112 252,120 242,112" fill="#b2d8a2" opacity="1" filter="url(#bl4)"/>
<ellipse cx="251" cy="68" rx="6" ry="18" fill="#a2d290" opacity="1" filter="url(#bl4)"/>
<ellipse cx="247" cy="124" rx="7" ry="10" fill="#e6f3e0" opacity="1" filter="url(#bl5)"/>
<ellipse cx="248" cy="132" rx="3" ry="5" fill="#fbe0e0" opacity="1" filter="url(#bl3)"/>
<ellipse cx="204" cy="110" rx="9" ry="24" fill="#d4eaca" opacity="1" filter="url(#bl5)"/>
<path d="M234.6,44.5 L235.5,46.4 L235.9,47.5 L236.4,49.5 L236.5,50.6 L236.7,52.5 L236.8,54.5 L236.8,56.5 L236.9,58.5 L237.0,60.5 L237.0,62.5 L237.1,64.5 L237.1,66.5 L237.2,68.5 L237.2,70.5 L237.3,72.5 L237.3,74.5 L237.4,76.5 L237.4,78.5 L237.5,80.2 L237.5,81.5 L237.6,83.5 L237.6,85.5 L237.7,87.5 L237.7,89.5 L237.8,91.5 L237.9,93.5 L237.9,95.5 L237.9,97.5 L237.9,99.5 L237.9,101.5 L237.9,103.5 L237.9,105.5 L237.9,107.5 L237.9,109.5 L237.9,111.5 L237.8,113.5 L237.7,115.5 L237.5,117.5 L237.5,118.5 L237.3,120.5 L237.2,122.5 L237.1,124.5 L237.1,126.5 L237.0,128.5 L237.0,130.5 L237.0,132.5 L237.0,134.5 L236.8,136.5 L236.5,137.8 L235.8,139.5 L235.1,140.5 L234.1,141.5 L232.5,142.5 L231.5,142.9 L229.5,143.3 L227.5,143.4 L225.5,143.5 L223.5,143.4 L221.5,143.3 L219.5,142.8 L218.5,142.4 L217.0,141.5 L216.1,140.5 L215.4,139.5 L214.6,137.5 L214.4,136.5 L214.2,134.5 L214.1,132.5 L214.1,130.5 L214.2,128.5 L214.3,126.5 L214.3,124.5 L214.4,122.5 L214.4,120.5 L214.4,118.5 L214.4,116.5 L214.4,114.5 L214.3,112.5 L214.3,110.5 L214.2,108.5 L214.0,106.5 L213.9,104.5 L213.7,102.5 L213.6,100.5 L213.5,99.5 L213.2,97.5 L213.0,95.5 L212.7,93.5 L212.5,92.1 L212.1,90.5 L211.5,88.5 L211.0,87.5 L210.5,86.5 L209.5,85.5 L207.7,84.5 L206.5,84.1 L204.5,84.0 L202.5,84.2 L201.2,84.5 L199.5,85.1 L198.5,85.6 L196.9,86.5 L195.5,87.5 L194.5,88.2 L193.5,89.0 L192.5,89.8 L191.5,90.7 L190.5,91.5 L189.5,92.5 L188.4,93.5 L187.5,94.5 L186.5,95.6 L185.5,97.0 L184.6,98.5 L184.2,99.5 L183.5,101.2 L183.0,102.5 L182.5,103.9 L182.0,105.5 L181.5,106.9 L180.9,108.5 L180.5,109.5 L179.5,111.2 L178.5,112.5 L177.5,113.5 L176.5,114.1 L175.5,114.6 L173.5,115.3 L172.5,115.5 L170.5,115.9 L168.5,116.1 L166.5,115.8 L165.5,115.5 L163.8,114.5 L162.8,113.5 L162.1,112.5 L161.5,110.5 L161.3,109.5 L161.2,107.5 L161.1,105.5 L161.1,103.5 L161.1,101.5 L161.1,99.5 L161.1,97.5 L161.1,95.5 L161.1,93.5 L161.1,91.5 L161.1,89.5 L161.1,87.5 L161.1,85.5 L161.1,83.5 L161.1,81.5 L161.1,79.5 L161.1,77.5 L161.1,75.5 L161.1,73.5 L161.1,71.5 L161.1,69.5 L161.1,67.5 L161.1,65.5 L161.1,63.5 L161.2,61.5 L161.4,59.5 L161.7,58.5 L162.4,56.5 L163.2,55.5 L164.5,54.6 L165.5,54.1 L167.5,53.5 L168.5,53.4 L170.5,53.1 L172.5,52.7 L173.5,52.5 L175.5,51.9 L176.8,51.5 L178.5,51.0 L180.5,50.6 L181.5,50.5 L183.5,50.4 L184.6,50.5 L186.5,50.8 L188.5,51.3 L189.5,51.6 L191.5,52.3 L192.5,52.5 L194.5,53.0 L196.5,53.1 L198.5,53.1 L200.5,53.1 L202.5,53.0 L204.5,53.0 L206.5,53.0 L208.5,52.8 L209.5,52.3 L210.5,51.4 L211.5,50.0 L212.3,48.5 L212.8,47.5 L213.5,46.2 L214.4,44.5" fill="none" stroke="#fff" stroke-opacity="0.4" stroke-width="0.75"/>
<path d="M168.5,134.6 L167.3,134.5 L166.5,133.5 L166.3,131.5 L166.5,130.5 L167.5,129.4 L168.7,129.5 L169.5,130.5 L169.7,132.5 L169.5,133.5 L168.5,134.6" fill="none" stroke="#fff" stroke-opacity="0.4" stroke-width="0.75"/>
<path d="M233.2,44.5 L233.8,45.5 L234.5,46.5 L235.3,48.5 L235.6,49.5 L235.9,51.5 L236.0,53.5 L236.1,55.5 L236.2,57.5 L236.2,59.5 L236.3,61.5 L236.3,63.5 L236.4,65.5 L236.4,67.5 L236.5,69.5 L236.5,70.5 L236.6,72.5 L236.7,74.5 L236.7,76.5 L236.8,78.5 L236.8,80.5 L236.9,82.5 L236.9,84.5 L237.0,86.5 L237.0,88.5 L237.1,90.5 L237.1,92.5 L237.2,94.5 L237.2,96.5 L237.2,98.5 L237.2,100.5 L237.2,102.5 L237.2,104.5 L237.2,106.5 L237.1,108.5 L237.1,110.5 L237.0,112.5 L237.0,114.5 L236.8,116.5 L236.6,118.5 L236.5,120.3 L236.4,121.5 L236.3,123.5 L236.2,125.5 L236.2,127.5 L236.1,129.5 L236.1,131.5 L236.0,133.5 L235.9,135.5 L235.5,137.3 L235.0,138.5 L234.4,139.5 L233.5,140.5 L231.8,141.5 L230.5,142.0 L228.5,142.3 L226.5,142.4 L224.5,142.4 L222.5,142.3 L220.5,141.9 L219.4,141.5 L217.8,140.5 L216.8,139.5 L216.2,138.5 L215.5,136.5 L215.3,135.5 L215.2,133.5 L215.1,131.5 L215.1,129.5 L215.1,127.5 L215.1,125.5 L215.2,123.5 L215.2,121.5 L215.2,119.5 L215.2,117.5 L215.2,115.5 L215.1,113.5 L215.1,111.5 L215.0,109.5 L214.9,107.5 L214.8,105.5 L214.6,103.5 L214.5,102.4 L214.3,100.5 L214.1,98.5 L213.9,96.5 L213.7,94.5 L213.5,92.9 L213.3,91.5 L212.9,89.5 L212.5,88.0 L212.0,86.5 L211.5,85.3 L210.5,83.8 L209.5,82.8 L208.5,82.1 L207.0,81.5 L205.5,81.3 L203.5,81.5 L202.5,81.6 L200.5,81.9 L198.9,82.5 L197.5,83.2 L196.5,83.8 L195.5,84.5 L194.2,85.5 L193.0,86.5 L191.7,87.5 L190.5,88.4 L189.5,89.2 L188.5,89.9 L187.5,90.7 L186.4,91.5 L185.3,92.5 L184.3,93.5 L183.5,94.5 L182.5,96.1 L181.7,97.5 L181.3,98.5 L180.5,100.5 L180.1,101.5 L179.5,103.3 L179.1,104.5 L178.5,106.3 L178.0,107.5 L177.5,108.5 L176.5,110.0 L175.5,110.9 L174.5,111.6 L172.5,112.3 L171.5,112.5 L169.5,112.7 L167.6,112.5 L166.5,112.0 L165.5,111.2 L164.7,109.5 L164.4,108.5 L164.2,106.5 L164.2,104.5 L164.2,102.5 L164.2,100.5 L164.2,98.5 L164.2,96.5 L164.2,94.5 L164.2,92.5 L164.2,90.5 L164.2,88.5 L164.2,86.5 L164.2,84.5 L164.2,82.5 L164.2,80.5 L164.2,78.5 L164.1,76.5 L164.1,74.5 L164.1,72.5 L164.1,70.5 L164.1,68.5 L164.1,66.5 L164.1,64.5 L164.1,62.5 L164.4,60.5 L164.8,59.5 L165.5,58.2 L166.5,57.2 L167.6,56.5 L169.5,55.8 L170.5,55.4 L172.5,54.6 L173.5,54.2 L175.2,53.5 L176.5,52.9 L177.6,52.5 L179.5,51.9 L181.4,51.5 L182.5,51.4 L184.5,51.5 L185.5,51.7 L187.5,52.2 L188.5,52.5 L190.5,53.4 L191.5,53.9 L193.0,54.5 L194.5,55.0 L196.5,55.2 L198.5,55.1 L200.5,54.8 L202.5,54.8 L204.5,54.9 L206.5,55.3 L208.5,55.5 L210.5,54.6 L211.4,53.5 L211.9,52.5 L212.5,51.4 L213.2,49.5 L213.7,48.5 L214.5,47.0 L215.5,45.6 L216.4,44.5" fill="none" stroke="#fff" stroke-opacity="0.4" stroke-width="0.75"/>
<path d="M231.1,44.5 L232.3,45.5 L233.3,46.5 L234.0,47.5 L234.5,48.6 L235.0,50.5 L235.2,52.5 L235.4,54.5 L235.5,56.5 L235.5,58.2 L235.5,59.5 L235.6,61.5 L235.6,63.5 L235.7,65.5 L235.7,67.5 L235.8,69.5 L235.9,71.5 L235.9,73.5 L236.0,75.5 L236.0,77.5 L236.1,79.5 L236.1,81.5 L236.2,83.5 L236.3,85.5 L236.3,87.5 L236.4,89.5 L236.4,91.5 L236.5,93.5 L236.5,94.5 L236.5,96.5 L236.5,98.5 L236.5,100.5 L236.5,102.5 L236.5,104.5 L236.5,105.5 L236.4,107.5 L236.4,109.5 L236.3,111.5 L236.3,113.5 L236.1,115.5 L236.0,117.5 L235.8,119.5 L235.7,121.5 L235.5,123.5 L235.5,124.5 L235.4,126.5 L235.3,128.5 L235.3,130.5 L235.2,132.5 L235.1,134.5 L234.7,136.5 L234.4,137.5 L233.5,138.9 L232.5,139.9 L231.5,140.5 L229.5,141.2 L227.5,141.5 L225.5,141.5 L223.5,141.4 L221.5,141.1 L219.8,140.5 L218.5,139.7 L217.5,138.5 L216.9,137.5 L216.5,136.3 L216.2,134.5 L216.0,132.5 L216.0,130.5 L215.9,128.5 L215.9,126.5 L215.9,124.5 L215.9,122.5 L216.0,120.5 L215.9,118.5 L215.9,116.5 L215.9,114.5 L215.8,112.5 L215.8,110.5 L215.7,108.5 L215.5,106.5 L215.5,105.5 L215.3,103.5 L215.1,101.5 L215.0,99.5 L214.8,97.5 L214.6,95.5 L214.5,94.5 L214.2,92.5 L214.0,90.5 L213.6,88.5 L213.4,87.5 L212.9,85.5 L212.5,83.9 L212.0,82.5 L211.5,81.3 L210.7,79.5 L210.3,78.5 L209.9,76.5 L209.8,74.5 L209.9,72.5 L209.7,70.5 L208.5,70.1 L207.5,71.2 L206.5,72.1 L205.5,72.8 L203.5,73.5 L202.5,73.6 L200.5,73.5 L199.5,73.5 L198.5,73.6 L197.5,74.5 L196.5,76.1 L195.9,77.5 L195.5,78.5 L194.5,80.0 L193.5,81.2 L192.5,82.2 L191.5,83.3 L190.5,84.2 L189.5,85.0 L188.5,85.6 L186.7,86.5 L185.5,87.0 L183.5,87.5 L182.5,87.6 L180.5,87.6 L179.5,87.4 L177.5,86.7 L176.5,86.1 L175.5,85.4 L174.5,84.5 L173.5,83.4 L172.5,82.2 L171.5,80.6 L170.9,79.5 L170.5,78.3 L169.9,76.5 L169.5,74.8 L169.3,73.5 L169.1,71.5 L168.9,69.5 L168.8,67.5 L169.0,65.5 L169.1,63.5 L169.5,61.7 L170.0,60.5 L170.6,59.5 L171.5,58.4 L172.5,57.3 L173.5,56.4 L174.7,55.5 L176.3,54.5 L177.5,53.9 L178.5,53.4 L180.5,52.7 L181.6,52.5 L183.5,52.4 L184.5,52.5 L186.5,53.0 L187.7,53.5 L189.5,54.4 L190.5,55.0 L191.5,55.7 L192.6,56.5 L194.0,57.5 L195.5,58.1 L197.5,57.6 L198.5,57.2 L200.5,56.6 L201.5,56.5 L202.8,56.5 L204.5,56.9 L205.8,57.5 L207.3,58.5 L208.4,59.5 L209.5,60.5 L209.5,60.5 L210.9,59.5 L211.5,58.5 L212.3,56.5 L212.7,55.5 L213.3,53.5 L213.6,52.5 L214.1,50.5 L214.5,49.4 L215.5,47.5 L216.4,46.5 L217.5,45.6 L218.5,44.8" fill="none" stroke="#fff" stroke-opacity="0.4" stroke-width="0.75"/>
<path d="M227.5,140.5 L225.5,140.6 L223.9,140.5 L222.5,140.3 L220.5,139.7 L219.5,139.1 L218.5,138.0 L217.6,136.5 L217.3,135.5 L217.0,133.5 L216.8,131.5 L216.8,129.5 L216.7,127.5 L216.7,125.5 L216.7,123.5 L216.7,121.5 L216.7,119.5 L216.6,117.5 L216.6,115.5 L216.5,113.5 L216.5,111.5 L216.5,110.5 L216.4,108.5 L216.2,106.5 L216.1,104.5 L215.9,102.5 L215.8,100.5 L215.6,98.5 L215.5,97.4 L215.3,95.5 L215.1,93.5 L214.9,91.5 L214.6,89.5 L214.5,88.3 L214.2,86.5 L213.9,84.5 L213.6,82.5 L213.4,81.5 L213.1,79.5 L213.1,77.5 L213.1,75.5 L213.2,73.5 L213.3,71.5 L213.4,69.5 L213.4,67.5 L213.4,65.5 L213.5,63.5 L213.5,62.5 L213.7,60.5 L213.9,58.5 L214.1,56.5 L214.5,54.5 L214.6,53.5 L215.0,51.5 L215.5,49.9 L216.2,48.5 L217.0,47.5 L218.2,46.5 L219.5,45.9 L220.9,45.5 L222.5,45.1 L224.5,45.0 L226.5,45.0 L228.5,45.2 L229.7,45.5 L231.5,46.2 L232.5,47.1 L233.5,48.4 L233.9,49.5 L234.4,51.5 L234.5,52.5 L234.6,54.5 L234.7,56.5 L234.8,58.5 L234.8,60.5 L234.9,62.5 L235.0,64.5 L235.0,66.5 L235.1,68.5 L235.1,70.5 L235.2,72.5 L235.3,74.5 L235.4,76.5 L235.4,78.5 L235.4,80.5 L235.5,82.5 L235.5,83.5 L235.6,85.5 L235.7,87.5 L235.7,89.5 L235.8,91.5 L235.8,93.5 L235.9,95.5 L235.9,97.5 L235.9,99.5 L235.9,101.5 L235.8,103.5 L235.8,105.5 L235.7,107.5 L235.7,109.5 L235.6,111.5 L235.5,113.5 L235.5,114.5 L235.3,116.5 L235.1,118.5 L235.0,120.5 L234.8,122.5 L234.7,124.5 L234.6,126.5 L234.6,128.5 L234.5,130.5 L234.5,131.5 L234.3,133.5 L234.0,135.5 L233.5,137.0 L232.5,138.5 L231.5,139.4 L230.5,139.9 L228.5,140.4 L227.5,140.5" fill="none" stroke="#fff" stroke-opacity="0.4" stroke-width="0.75"/>
<path d="M185.5,83.8 L183.5,84.3 L181.5,84.2 L179.6,83.5 L178.5,82.9 L177.5,82.2 L176.5,81.3 L175.5,80.2 L174.5,78.7 L173.8,77.5 L173.4,76.5 L172.7,74.5 L172.5,73.5 L172.1,71.5 L171.8,69.5 L171.8,67.5 L171.9,65.5 L172.3,63.5 L172.6,62.5 L173.2,60.5 L173.7,59.5 L174.5,58.3 L175.5,57.0 L176.5,56.1 L177.5,55.3 L179.0,54.5 L180.5,53.9 L182.5,53.5 L184.5,53.7 L186.5,54.3 L187.5,54.8 L188.7,55.5 L189.9,56.5 L190.9,57.5 L191.7,58.5 L192.5,59.7 L193.4,61.5 L193.9,62.5 L194.5,64.3 L194.9,65.5 L194.7,67.5 L194.5,68.5 L194.1,70.5 L193.7,72.5 L193.5,73.5 L192.9,75.5 L192.5,76.7 L191.6,78.5 L191.0,79.5 L190.2,80.5 L189.2,81.5 L187.9,82.5 L186.5,83.4 L185.5,83.8" fill="none" stroke="#fff" stroke-opacity="0.4" stroke-width="0.75"/>
<path d="M203.5,69.9 L201.5,70.3 L199.5,69.6 L198.5,68.9 L197.5,67.6 L196.8,66.5 L196.5,65.5 L196.5,63.5 L196.8,62.5 L197.5,61.3 L198.5,59.9 L199.5,59.0 L200.5,58.5 L202.5,58.2 L203.6,58.5 L205.0,59.5 L205.8,60.5 L206.5,62.0 L206.8,63.5 L206.7,65.5 L206.4,66.5 L205.5,68.3 L204.5,69.4 L203.5,69.9" fill="none" stroke="#fff" stroke-opacity="0.4" stroke-width="0.75"/>
<path d="M227.5,139.6 L225.5,139.6 L223.6,139.5 L222.5,139.3 L220.7,138.5 L219.5,137.5 L218.8,136.5 L218.4,135.5 L217.9,133.5 L217.7,131.5 L217.6,129.5 L217.5,127.5 L217.5,126.5 L217.4,124.5 L217.4,122.5 L217.4,120.5 L217.4,118.5 L217.3,116.5 L217.3,114.5 L217.2,112.5 L217.1,110.5 L217.0,108.5 L216.9,106.5 L216.8,104.5 L216.6,102.5 L216.5,101.0 L216.4,99.5 L216.2,97.5 L216.1,95.5 L215.9,93.5 L215.7,91.5 L215.5,89.8 L215.4,88.5 L215.2,86.5 L215.0,84.5 L214.8,82.5 L214.6,80.5 L214.6,78.5 L214.7,76.5 L214.7,74.5 L214.8,72.5 L214.9,70.5 L215.0,68.5 L215.0,66.5 L215.0,64.5 L215.1,62.5 L215.2,60.5 L215.4,58.5 L215.5,56.5 L215.6,55.5 L215.8,53.5 L216.2,51.5 L216.5,50.4 L217.5,48.6 L218.5,47.7 L219.5,47.1 L221.5,46.5 L222.5,46.4 L224.5,46.2 L226.5,46.2 L228.5,46.4 L229.5,46.6 L231.5,47.5 L232.4,48.5 L232.9,49.5 L233.5,51.2 L233.7,52.5 L233.9,54.5 L234.0,56.5 L234.0,58.5 L234.1,60.5 L234.2,62.5 L234.2,64.5 L234.3,66.5 L234.4,68.5 L234.4,70.5 L234.5,72.1 L234.6,73.5 L234.7,75.5 L234.7,77.5 L234.7,79.5 L234.8,81.5 L234.8,83.5 L234.9,85.5 L235.0,87.5 L235.0,89.5 L235.1,91.5 L235.2,93.5 L235.2,95.5 L235.2,97.5 L235.2,99.5 L235.2,101.5 L235.2,103.5 L235.1,105.5 L235.0,107.5 L235.0,109.5 L234.9,111.5 L234.8,113.5 L234.7,115.5 L234.5,117.5 L234.4,118.5 L234.3,120.5 L234.1,122.5 L234.0,124.5 L233.9,126.5 L233.8,128.5 L233.7,130.5 L233.6,132.5 L233.5,133.5 L233.1,135.5 L232.5,136.8 L231.5,138.0 L230.5,138.7 L228.5,139.4 L227.5,139.6" fill="none" stroke="#fff" stroke-opacity="0.4" stroke-width="0.75"/>
<path d="M185.5,81.5 L183.5,82.1 L181.5,81.9 L180.4,81.5 L178.7,80.5 L177.5,79.5 L176.7,78.5 L176.1,77.5 L175.5,76.4 L174.7,74.5 L174.4,73.5 L173.9,71.5 L173.7,69.5 L173.7,67.5 L173.8,65.5 L174.2,63.5 L174.5,62.4 L175.2,60.5 L175.7,59.5 L176.5,58.2 L177.5,57.1 L178.5,56.3 L179.9,55.5 L181.5,54.9 L183.5,54.7 L185.5,55.2 L186.5,55.7 L187.8,56.5 L188.9,57.5 L189.7,58.5 L190.5,59.8 L191.3,61.5 L191.6,62.5 L192.1,64.5 L192.4,66.5 L192.4,68.5 L192.2,70.5 L191.8,72.5 L191.5,73.8 L190.9,75.5 L190.5,76.5 L189.5,78.2 L188.5,79.4 L187.5,80.3 L186.5,81.0 L185.5,81.5" fill="none" stroke="#fff" stroke-opacity="0.4" stroke-width="0.75"/>
<path d="M202.5,67.0 L200.8,66.5 L200.2,65.5 L200.0,63.5 L200.5,62.0 L201.5,61.1 L203.1,61.5 L203.8,62.5 L204.1,64.5 L203.5,66.2 L202.5,67.0" fill="none" stroke="#fff" stroke-opacity="0.4" stroke-width="0.75"/>
<path d="M227.5,138.5 L225.5,138.6 L224.1,138.5 L222.5,138.1 L221.3,137.5 L220.3,136.5 L219.5,135.2 L218.9,133.5 L218.6,131.5 L218.5,130.2 L218.4,128.5 L218.3,126.5 L218.2,124.5 L218.2,122.5 L218.1,120.5 L218.1,118.5 L218.0,116.5 L217.9,114.5 L217.9,112.5 L217.8,110.5 L217.7,108.5 L217.5,106.5 L217.5,105.5 L217.4,103.5 L217.2,101.5 L217.1,99.5 L216.9,97.5 L216.8,95.5 L216.6,93.5 L216.5,92.1 L216.4,90.5 L216.2,88.5 L216.1,86.5 L216.0,84.5 L215.9,82.5 L215.8,80.5 L215.9,78.5 L215.9,76.5 L215.9,74.5 L216.1,72.5 L216.2,70.5 L216.2,68.5 L216.3,66.5 L216.3,64.5 L216.4,62.5 L216.5,61.3 L216.6,59.5 L216.7,57.5 L216.8,55.5 L217.0,53.5 L217.4,51.5 L217.8,50.5 L218.5,49.4 L219.5,48.5 L221.5,47.6 L222.5,47.4 L224.5,47.3 L226.5,47.3 L228.5,47.5 L229.5,47.7 L230.8,48.5 L231.7,49.5 L232.5,51.1 L232.8,52.5 L233.0,54.5 L233.1,56.5 L233.2,58.5 L233.3,60.5 L233.4,62.5 L233.4,64.5 L233.5,65.9 L233.6,67.5 L233.7,69.5 L233.7,71.5 L233.8,73.5 L233.9,75.5 L234.0,77.5 L234.0,79.5 L234.1,81.5 L234.2,83.5 L234.2,85.5 L234.3,87.5 L234.4,89.5 L234.4,91.5 L234.5,93.5 L234.5,94.5 L234.5,96.5 L234.5,98.5 L234.5,100.5 L234.5,102.5 L234.5,103.5 L234.4,105.5 L234.3,107.5 L234.3,109.5 L234.2,111.5 L234.1,113.5 L233.9,115.5 L233.8,117.5 L233.6,119.5 L233.5,121.0 L233.4,122.5 L233.2,124.5 L233.1,126.5 L233.0,128.5 L232.9,130.5 L232.7,132.5 L232.5,133.8 L231.9,135.5 L231.3,136.5 L230.3,137.5 L228.5,138.3 L227.5,138.5" fill="none" stroke="#fff" stroke-opacity="0.4" stroke-width="0.75"/>
<path d="M185.5,79.6 L183.5,80.2 L181.5,80.0 L180.4,79.5 L178.9,78.5 L178.0,77.5 L177.3,76.5 L176.5,74.9 L176.0,73.5 L175.5,71.7 L175.3,70.5 L175.2,68.5 L175.2,66.5 L175.4,64.5 L175.7,63.5 L176.3,61.5 L176.8,60.5 L177.5,59.3 L178.5,58.1 L179.5,57.2 L180.9,56.5 L182.5,56.1 L184.5,56.3 L185.5,56.7 L186.9,57.5 L187.9,58.5 L188.7,59.5 L189.5,61.1 L190.0,62.5 L190.5,64.3 L190.7,65.5 L190.8,67.5 L190.8,69.5 L190.5,71.5 L190.3,72.5 L189.7,74.5 L189.2,75.5 L188.5,76.8 L187.5,78.1 L186.5,78.9 L185.5,79.6" fill="none" stroke="#fff" stroke-opacity="0.4" stroke-width="0.75"/>
<path d="M228.5,137.0 L226.5,137.4 L224.5,137.3 L222.5,136.6 L221.5,135.9 L220.5,134.5 L220.1,133.5 L219.6,131.5 L219.5,130.5 L219.3,128.5 L219.2,126.5 L219.0,124.5 L218.9,122.5 L218.9,120.5 L218.8,118.5 L218.7,116.5 L218.6,114.5 L218.5,112.5 L218.5,111.5 L218.4,109.5 L218.3,107.5 L218.2,105.5 L218.1,103.5 L217.9,101.5 L217.8,99.5 L217.7,97.5 L217.5,95.5 L217.4,94.5 L217.3,92.5 L217.2,90.5 L217.1,88.5 L217.0,86.5 L217.0,84.5 L216.9,82.5 L216.9,80.5 L216.9,78.5 L217.0,76.5 L217.1,74.5 L217.2,72.5 L217.3,70.5 L217.4,68.5 L217.5,66.9 L217.6,65.5 L217.7,63.5 L217.8,61.5 L217.9,59.5 L218.0,57.5 L218.1,55.5 L218.3,53.5 L218.5,52.5 L219.4,50.5 L220.5,49.5 L221.5,49.0 L223.5,48.5 L224.5,48.4 L226.5,48.4 L227.5,48.5 L229.5,49.2 L230.5,50.0 L231.5,51.5 L231.8,52.5 L232.0,54.5 L232.1,56.5 L232.3,58.5 L232.4,60.5 L232.5,62.5 L232.5,63.5 L232.6,65.5 L232.7,67.5 L232.9,69.5 L233.0,71.5 L233.1,73.5 L233.2,75.5 L233.3,77.5 L233.3,79.5 L233.4,81.5 L233.5,83.5 L233.5,84.5 L233.6,86.5 L233.6,88.5 L233.7,90.5 L233.8,92.5 L233.8,94.5 L233.8,96.5 L233.8,98.5 L233.8,100.5 L233.8,102.5 L233.7,104.5 L233.7,106.5 L233.6,108.5 L233.5,110.3 L233.4,111.5 L233.3,113.5 L233.2,115.5 L233.0,117.5 L232.9,119.5 L232.7,121.5 L232.6,123.5 L232.5,124.5 L232.3,126.5 L232.2,128.5 L232.0,130.5 L231.7,132.5 L231.5,133.5 L230.5,135.5 L229.5,136.5 L228.5,137.0" fill="none" stroke="#fff" stroke-opacity="0.4" stroke-width="0.75"/>
<path d="M185.5,77.6 L183.5,78.4 L181.5,78.1 L180.3,77.5 L179.2,76.5 L178.5,75.5 L177.5,73.5 L177.2,72.5 L176.8,70.5 L176.6,68.5 L176.7,66.5 L176.9,64.5 L177.5,62.5 L177.9,61.5 L178.5,60.5 L179.5,59.2 L180.5,58.4 L182.5,57.6 L184.5,57.9 L185.7,58.5 L186.8,59.5 L187.5,60.5 L188.5,62.4 L188.8,63.5 L189.2,65.5 L189.3,67.5 L189.3,69.5 L189.0,71.5 L188.5,73.4 L188.0,74.5 L187.5,75.5 L186.5,76.8 L185.5,77.6" fill="none" stroke="#fff" stroke-opacity="0.4" stroke-width="0.75"/>
<path d="M227.5,135.8 L225.5,136.0 L223.6,135.5 L222.5,134.7 L221.7,133.5 L221.2,132.5 L220.6,130.5 L220.4,129.5 L220.2,127.5 L220.0,125.5 L219.8,123.5 L219.7,121.5 L219.5,119.5 L219.5,118.5 L219.4,116.5 L219.3,114.5 L219.2,112.5 L219.1,110.5 L219.0,108.5 L218.9,106.5 L218.8,104.5 L218.7,102.5 L218.6,100.5 L218.5,99.5 L218.4,97.5 L218.3,95.5 L218.2,93.5 L218.0,91.5 L218.0,89.5 L217.9,87.5 L217.9,85.5 L217.9,83.5 L217.9,81.5 L217.9,79.5 L218.0,77.5 L218.1,75.5 L218.3,73.5 L218.4,71.5 L218.5,69.5 L218.6,68.5 L218.8,66.5 L218.9,64.5 L219.1,62.5 L219.2,60.5 L219.4,58.5 L219.5,57.4 L219.7,55.5 L220.0,53.5 L220.5,52.1 L221.5,51.0 L222.5,50.4 L224.5,49.9 L226.5,49.9 L228.5,50.5 L229.5,51.3 L230.3,52.5 L230.6,53.5 L230.8,55.5 L231.0,57.5 L231.2,59.5 L231.4,61.5 L231.5,62.8 L231.6,64.5 L231.8,66.5 L231.9,68.5 L232.1,70.5 L232.2,72.5 L232.3,74.5 L232.5,76.5 L232.5,77.5 L232.6,79.5 L232.7,81.5 L232.7,83.5 L232.8,85.5 L232.8,87.5 L232.9,89.5 L233.0,91.5 L233.0,93.5 L233.1,95.5 L233.1,97.5 L233.1,99.5 L233.0,101.5 L233.0,103.5 L232.9,105.5 L232.9,107.5 L232.8,109.5 L232.7,111.5 L232.6,113.5 L232.5,114.5 L232.4,116.5 L232.2,118.5 L232.0,120.5 L231.8,122.5 L231.6,124.5 L231.5,125.9 L231.3,127.5 L231.1,129.5 L230.7,131.5 L230.4,132.5 L229.5,134.4 L228.5,135.3 L227.5,135.8" fill="none" stroke="#fff" stroke-opacity="0.4" stroke-width="0.75"/>
<path d="M184.5,75.7 L182.5,76.1 L181.2,75.5 L180.3,74.5 L179.5,73.1 L178.9,71.5 L178.6,69.5 L178.5,68.5 L178.5,66.9 L178.7,65.5 L179.2,63.5 L179.6,62.5 L180.5,61.0 L181.5,60.1 L183.5,59.8 L185.0,60.5 L185.9,61.5 L186.5,62.5 L187.1,64.5 L187.4,66.5 L187.5,68.5 L187.3,70.5 L186.7,72.5 L186.3,73.5 L185.5,74.8 L184.5,75.7" fill="none" stroke="#fff" stroke-opacity="0.4" stroke-width="0.75"/>
<path d="M227.5,133.6 L225.5,134.1 L224.0,133.5 L223.0,132.5 L222.3,131.5 L221.6,129.5 L221.4,128.5 L221.0,126.5 L220.8,124.5 L220.6,122.5 L220.5,121.5 L220.3,119.5 L220.2,117.5 L220.2,115.5 L220.0,113.5 L219.9,111.5 L219.8,109.5 L219.7,107.5 L219.6,105.5 L219.5,103.5 L219.5,102.5 L219.3,100.5 L219.2,98.5 L219.1,96.5 L219.0,94.5 L218.9,92.5 L218.9,90.5 L218.8,88.5 L218.8,86.5 L218.8,84.5 L218.9,82.5 L218.9,80.5 L219.0,78.5 L219.1,76.5 L219.3,74.5 L219.4,72.5 L219.5,71.4 L219.7,69.5 L219.9,67.5 L220.1,65.5 L220.4,63.5 L220.6,62.5 L221.0,60.5 L221.4,58.5 L221.6,57.5 L222.0,55.5 L222.5,53.9 L223.5,52.8 L224.5,52.4 L226.5,52.4 L227.5,52.9 L228.5,54.4 L228.7,55.5 L229.2,57.5 L229.5,58.8 L229.8,60.5 L230.2,62.5 L230.5,64.2 L230.7,65.5 L230.9,67.5 L231.1,69.5 L231.2,71.5 L231.4,73.5 L231.5,75.1 L231.6,76.5 L231.7,78.5 L231.8,80.5 L231.9,82.5 L232.0,84.5 L232.0,86.5 L232.1,88.5 L232.1,90.5 L232.2,92.5 L232.2,94.5 L232.2,96.5 L232.2,98.5 L232.2,100.5 L232.2,102.5 L232.1,104.5 L232.1,106.5 L232.0,108.5 L231.9,110.5 L231.8,112.5 L231.7,114.5 L231.5,116.5 L231.4,117.5 L231.2,119.5 L231.0,121.5 L230.8,123.5 L230.6,125.5 L230.4,126.5 L230.1,128.5 L229.5,130.5 L229.1,131.5 L228.5,132.6 L227.5,133.6" fill="none" stroke="#fff" stroke-opacity="0.4" stroke-width="0.75"/>
<path d="M226.5,131.6 L224.7,131.5 L223.6,130.5 L223.0,129.5 L222.5,128.3 L222.1,126.5 L221.7,124.5 L221.5,122.7 L221.4,121.5 L221.2,119.5 L221.1,117.5 L221.0,115.5 L220.9,113.5 L220.7,111.5 L220.7,109.5 L220.5,107.5 L220.5,106.5 L220.4,104.5 L220.3,102.5 L220.2,100.5 L220.1,98.5 L220.0,96.5 L219.9,94.5 L219.8,92.5 L219.8,90.5 L219.8,88.5 L219.8,86.5 L219.8,84.5 L219.9,82.5 L219.9,80.5 L220.0,78.5 L220.2,76.5 L220.4,74.5 L220.5,72.9 L220.7,71.5 L220.9,69.5 L221.2,67.5 L221.5,65.5 L221.7,64.5 L222.3,62.5 L222.7,61.5 L223.5,60.2 L224.5,59.4 L226.5,59.4 L227.5,60.2 L228.2,61.5 L228.7,62.5 L229.2,64.5 L229.5,65.7 L229.7,67.5 L230.0,69.5 L230.2,71.5 L230.4,73.5 L230.5,74.8 L230.6,76.5 L230.8,78.5 L230.9,80.5 L231.0,82.5 L231.1,84.5 L231.1,86.5 L231.2,88.5 L231.3,90.5 L231.3,92.5 L231.3,94.5 L231.3,96.5 L231.3,98.5 L231.3,100.5 L231.2,102.5 L231.2,104.5 L231.1,106.5 L231.0,108.5 L230.9,110.5 L230.8,112.5 L230.7,114.5 L230.5,116.5 L230.4,117.5 L230.2,119.5 L230.0,121.5 L229.7,123.5 L229.5,125.2 L229.3,126.5 L228.7,128.5 L228.3,129.5 L227.5,130.9 L226.5,131.6" fill="none" stroke="#fff" stroke-opacity="0.4" stroke-width="0.75"/>
<path d="M226.5,128.7 L224.5,128.6 L223.8,127.5 L223.4,126.5 L222.9,124.5 L222.6,122.5 L222.5,121.5 L222.3,119.5 L222.1,117.5 L222.0,115.5 L221.9,113.5 L221.7,111.5 L221.7,109.5 L221.6,107.5 L221.5,106.5 L221.4,104.5 L221.3,102.5 L221.2,100.5 L221.1,98.5 L221.1,96.5 L221.0,94.5 L220.9,92.5 L220.9,90.5 L221.0,88.5 L221.0,86.5 L221.0,84.5 L221.1,82.5 L221.2,80.5 L221.3,78.5 L221.5,76.5 L221.6,75.5 L221.8,73.5 L222.0,71.5 L222.3,69.5 L222.5,67.9 L222.8,66.5 L223.5,64.5 L224.1,63.5 L225.5,62.7 L226.9,63.5 L227.5,64.5 L228.2,66.5 L228.5,68.1 L228.7,69.5 L228.9,71.5 L229.2,73.5 L229.3,75.5 L229.5,77.3 L229.6,78.5 L229.7,80.5 L229.8,82.5 L229.9,84.5 L230.0,86.5 L230.1,88.5 L230.1,90.5 L230.2,92.5 L230.2,94.5 L230.2,96.5 L230.2,98.5 L230.1,100.5 L230.1,102.5 L230.0,104.5 L229.9,106.5 L229.9,108.5 L229.8,110.5 L229.7,112.5 L229.5,114.5 L229.4,115.5 L229.2,117.5 L229.0,119.5 L228.7,121.5 L228.5,123.1 L228.2,124.5 L227.7,126.5 L227.4,127.5 L226.5,128.7" fill="none" stroke="#fff" stroke-opacity="0.4" stroke-width="0.75"/>
<path d="M225.5,123.9 L224.7,122.5 L224.4,121.5 L224.1,119.5 L223.8,117.5 L223.6,115.5 L223.5,114.4 L223.4,112.5 L223.2,110.5 L223.2,108.5 L223.2,106.5 L223.1,104.5 L223.0,102.5 L222.8,100.5 L222.7,98.5 L222.6,96.5 L222.6,94.5 L222.6,92.5 L222.7,90.5 L222.8,88.5 L222.9,86.5 L222.9,84.5 L222.9,82.5 L223.0,80.5 L223.2,78.5 L223.4,76.5 L223.5,75.5 L223.8,73.5 L224.1,71.5 L224.5,69.5 L225.1,68.5 L225.9,68.5 L226.5,69.6 L226.8,71.5 L227.2,73.5 L227.5,75.5 L227.5,76.5 L227.7,78.5 L227.9,80.5 L228.1,82.5 L228.0,84.5 L228.1,86.5 L228.2,88.5 L228.4,90.5 L228.4,92.5 L228.5,94.0 L228.5,95.5 L228.5,97.5 L228.5,98.9 L228.4,100.5 L228.3,102.5 L228.1,104.5 L228.1,106.5 L228.1,108.5 L228.0,110.5 L227.8,112.5 L227.6,114.5 L227.5,115.7 L227.2,117.5 L227.0,119.5 L226.6,121.5 L226.4,122.5 L225.5,123.9" fill="none" stroke="#fff" stroke-opacity="0.4" stroke-width="0.75"/>
<path d="M258.5,114.3 L257.5,114.6 L255.5,115.3 L253.5,115.5 L251.5,115.1 L249.8,114.5 L248.5,113.9 L247.5,113.3 L246.5,112.5 L245.5,111.5 L244.5,110.0 L243.9,108.5 L243.5,106.5 L243.4,105.5 L243.3,103.5 L243.1,101.5 L243.1,99.5 L243.1,97.5 L243.0,95.5 L242.9,93.5 L242.8,91.5 L242.7,89.5 L242.6,87.5 L242.5,86.5 L242.3,84.5 L242.1,82.5 L241.9,80.5 L241.8,78.5 L241.6,76.5 L241.5,75.4 L241.4,73.5 L241.3,71.5 L241.3,69.5 L241.2,67.5 L241.2,65.5 L241.2,63.5 L241.2,61.5 L241.2,59.5 L241.2,57.5 L241.2,55.5 L241.2,53.5 L241.3,51.5 L241.3,49.5 L241.2,47.5 L241.2,45.5" fill="none" stroke="#fff" stroke-opacity="0.45" stroke-width="0.75"/>
<path d="M258.5,105.2 L257.9,106.5 L257.3,107.5 L256.5,108.5 L255.5,109.5 L253.5,110.0 L251.5,109.5 L250.5,108.9 L249.5,108.1 L248.5,106.7 L248.0,105.5 L247.5,103.5 L247.4,102.5 L247.3,100.5 L247.2,98.5 L247.2,96.5 L247.0,94.5 L246.9,92.5 L246.5,90.8 L246.3,89.5 L246.0,87.5 L245.5,85.9 L245.3,84.5 L244.9,82.5 L244.5,81.1 L244.3,79.5 L244.0,77.5 L243.7,75.5 L243.5,73.5 L243.4,72.5 L243.4,70.5 L243.4,68.5 L243.4,66.5 L243.3,64.5 L243.3,62.5 L243.4,60.5 L243.5,59.0 L243.6,57.5 L243.8,55.5 L244.0,53.5 L244.2,51.5 L244.5,49.5 L244.7,48.5 L245.2,46.5 L245.6,45.5" fill="none" stroke="#fff" stroke-opacity="0.45" stroke-width="0.75"/>
</g>
<rect x="155.00" y="43.00" width="105.00" height="109.00" fill="none" stroke="#4a4a4a" stroke-width="1.1" />
<g clip-path="url(#hc2)"><rect x="283.5" y="43.0" width="105.0" height="109.0" fill="#fff"/>
<rect x="283.50" y="43.00" width="105.00" height="109.00" fill="#f3f9f0" stroke="none" stroke-width="1" />
<ellipse cx="318" cy="62" rx="24" ry="20" fill="#dcefd2" opacity="1" filter="url(#bl8)"/>
<ellipse cx="300" cy="80" rx="12" ry="20" fill="#e6f3e0" opacity="1" filter="url(#bl6)"/>
<ellipse cx="346" cy="95" rx="6" ry="60" fill="#ffffff" opacity="1" filter="url(#bl5)"/>
<ellipse cx="348" cy="118" rx="4" ry="18" fill="#fbe4e4" opacity="1" filter="url(#bl4)"/>
<polygon points="354,36 394,36 394,152 374,152 366,125 358,90 355,60" fill="#f6b8b8" opacity="1" filter="url(#bl4)"/>
<polygon points="364,40 392,40 392,138 378,140 370,115 366,80 364,55" fill="#f08282" opacity="1" filter="url(#bl3)"/>
<ellipse cx="378" cy="86" rx="6.5" ry="34" fill="#ea5454" opacity="1" filter="url(#bl3)"/>
<ellipse cx="378" cy="68" rx="3" ry="7" fill="#e63c3c" opacity="1" filter="url(#bl2)"/>
<polygon points="360,136 394,136 394,158 360,158" fill="#fff" opacity="0.55" filter="url(#bl4)"/>
<ellipse cx="301" cy="115" rx="11" ry="22" fill="#b2d99e" opacity="1" filter="url(#bl4)"/>
<ellipse cx="329" cy="127" rx="5.5" ry="9" fill="#bcdeac" opacity="1" filter="url(#bl3)"/>
<ellipse cx="318" cy="140" rx="10" ry="5" fill="#e4f2dc" opacity="1" filter="url(#bl4)"/>
<path d="M386.5,145.1 L384.5,145.1 L382.5,145.0 L380.5,144.7 L379.5,144.4 L377.7,143.5 L376.5,142.7 L375.5,141.8 L374.5,140.9 L373.5,139.8 L372.5,138.7 L371.6,137.5 L370.9,136.5 L370.2,135.5 L369.5,134.4 L368.5,132.5 L368.0,131.5 L367.5,130.2 L366.8,128.5 L366.5,127.4 L366.0,125.5 L365.5,123.6 L365.2,122.5 L364.7,120.5 L364.4,119.5 L363.9,117.5 L363.5,115.5 L363.3,114.5 L362.8,112.5 L362.5,110.8 L362.2,109.5 L361.8,107.5 L361.5,106.3 L361.1,104.5 L360.7,102.5 L360.5,101.4 L360.1,99.5 L359.6,97.5 L359.4,96.5 L359.0,94.5 L358.6,92.5 L358.4,91.5 L358.1,89.5 L357.8,87.5 L357.5,85.5 L357.4,84.5 L357.2,82.5 L357.0,80.5 L356.8,78.5 L356.6,76.5 L356.5,75.5 L356.2,73.5 L356.1,71.5 L355.9,69.5 L355.7,67.5 L355.5,65.7 L355.4,64.5 L355.2,62.5 L355.1,60.5 L354.9,58.5 L354.8,56.5 L354.7,54.5 L354.6,52.5 L354.5,50.5 L354.5,49.5 L354.4,47.5 L354.3,45.5" fill="none" stroke="#fff" stroke-opacity="0.4" stroke-width="0.75"/>
<path d="M386.5,141.2 L384.5,141.2 L382.5,141.2 L380.5,141.0 L378.5,140.6 L377.5,140.2 L376.4,139.5 L375.1,138.5 L374.0,137.5 L373.0,136.5 L372.2,135.5 L371.5,134.5 L370.5,132.9 L369.7,131.5 L369.3,130.5 L368.5,128.7 L368.1,127.5 L367.5,125.5 L367.2,124.5 L366.7,122.5 L366.4,121.5 L365.9,119.5 L365.5,117.9 L365.2,116.5 L364.7,114.5 L364.5,113.3 L364.1,111.5 L363.7,109.5 L363.5,108.2 L363.1,106.5 L362.7,104.5 L362.5,103.4 L362.1,101.5 L361.7,99.5 L361.5,98.5 L361.1,96.5 L360.7,94.5 L360.5,93.3 L360.2,91.5 L359.8,89.5 L359.5,87.6 L359.4,86.5 L359.2,84.5 L359.0,82.5 L358.7,80.5 L358.5,78.5 L358.4,77.5 L358.2,75.5 L358.1,73.5 L357.8,71.5 L357.6,69.5 L357.5,67.9 L357.4,66.5 L357.1,64.5 L357.0,62.5 L356.9,60.5 L356.7,58.5 L356.6,56.5 L356.5,54.5 L356.4,53.5 L356.4,51.5 L356.3,49.5 L356.2,47.5 L356.2,45.5" fill="none" stroke="#fff" stroke-opacity="0.4" stroke-width="0.75"/>
<path d="M386.5,139.2 L384.5,139.2 L382.5,139.2 L380.5,139.0 L378.5,138.5 L377.5,138.0 L376.5,137.5 L375.2,136.5 L374.1,135.5 L373.3,134.5 L372.5,133.4 L371.5,131.8 L370.8,130.5 L370.4,129.5 L369.6,127.5 L369.2,126.5 L368.6,124.5 L368.4,123.5 L367.8,121.5 L367.5,120.5 L366.9,118.5 L366.5,116.7 L366.2,115.5 L365.8,113.5 L365.5,111.8 L365.2,110.5 L364.9,108.5 L364.5,106.5 L364.4,105.5 L364.0,103.5 L363.6,101.5 L363.5,100.5 L363.1,98.5 L362.8,96.5 L362.5,95.2 L362.2,93.5 L361.9,91.5 L361.6,89.5 L361.4,88.5 L361.1,86.5 L360.9,84.5 L360.7,82.5 L360.5,80.6 L360.4,79.5 L360.2,77.5 L360.0,75.5 L359.8,73.5 L359.6,71.5 L359.5,70.2 L359.4,68.5 L359.2,66.5 L359.0,64.5 L358.8,62.5 L358.7,60.5 L358.5,58.5 L358.4,57.5 L358.4,55.5 L358.3,53.5 L358.2,51.5 L358.1,49.5 L358.1,47.5 L358.1,45.5" fill="none" stroke="#fff" stroke-opacity="0.4" stroke-width="0.75"/>
<path d="M386.5,137.5 L384.5,137.6 L382.5,137.6 L381.4,137.5 L379.5,137.1 L377.9,136.5 L376.5,135.7 L375.5,134.8 L374.5,133.8 L373.5,132.5 L372.9,131.5 L372.3,130.5 L371.5,128.7 L371.0,127.5 L370.5,126.1 L370.0,124.5 L369.5,123.0 L369.0,121.5 L368.5,119.7 L368.2,118.5 L367.6,116.5 L367.4,115.5 L367.0,113.5 L366.6,111.5 L366.4,110.5 L366.1,108.5 L365.8,106.5 L365.5,104.5 L365.3,103.5 L365.0,101.5 L364.7,99.5 L364.5,98.1 L364.3,96.5 L363.9,94.5 L363.7,92.5 L363.5,91.2 L363.3,89.5 L363.0,87.5 L362.7,85.5 L362.5,83.5 L362.4,82.5 L362.2,80.5 L362.0,78.5 L361.8,76.5 L361.6,74.5 L361.5,73.0 L361.4,71.5 L361.2,69.5 L361.1,67.5 L360.9,65.5 L360.7,63.5 L360.5,61.5 L360.5,60.5 L360.3,58.5 L360.2,56.5 L360.1,54.5 L360.1,52.5 L360.0,50.5 L360.0,48.5 L360.0,46.5 L360.1,44.5" fill="none" stroke="#fff" stroke-opacity="0.4" stroke-width="0.75"/>
<path d="M386.5,136.1 L384.5,136.2 L382.5,136.1 L380.5,135.8 L379.4,135.5 L377.5,134.6 L376.5,133.8 L375.5,132.8 L374.5,131.5 L373.9,130.5 L373.3,129.5 L372.5,127.7 L372.0,126.5 L371.5,125.0 L371.0,123.5 L370.5,122.2 L369.9,120.5 L369.5,119.0 L369.1,117.5 L368.5,115.5 L368.3,114.5 L367.9,112.5 L367.6,110.5 L367.4,109.5 L367.1,107.5 L366.8,105.5 L366.5,103.5 L366.4,102.5 L366.1,100.5 L365.8,98.5 L365.6,96.5 L365.5,95.5 L365.2,93.5 L365.0,91.5 L364.8,89.5 L364.6,87.5 L364.4,86.5 L364.2,84.5 L364.0,82.5 L363.9,80.5 L363.7,78.5 L363.5,76.5 L363.4,75.5 L363.3,73.5 L363.1,71.5 L363.0,69.5 L362.8,67.5 L362.7,65.5 L362.5,63.6 L362.4,62.5 L362.3,60.5 L362.1,58.5 L362.0,56.5 L361.9,54.5 L361.9,52.5 L361.9,50.5 L361.9,48.5 L361.9,46.5 L362.0,44.5" fill="none" stroke="#fff" stroke-opacity="0.4" stroke-width="0.75"/>
<path d="M386.5,134.6 L384.5,134.6 L382.5,134.6 L381.5,134.5 L379.5,133.9 L378.5,133.4 L377.3,132.5 L376.3,131.5 L375.5,130.4 L374.5,128.8 L373.9,127.5 L373.5,126.5 L372.8,124.5 L372.4,123.5 L371.6,121.5 L371.2,120.5 L370.6,118.5 L370.3,117.5 L369.7,115.5 L369.4,114.5 L369.1,112.5 L368.7,110.5 L368.5,109.2 L368.2,107.5 L367.9,105.5 L367.7,103.5 L367.5,101.7 L367.3,100.5 L367.1,98.5 L366.8,96.5 L366.6,94.5 L366.5,93.2 L366.3,91.5 L366.1,89.5 L365.9,87.5 L365.8,85.5 L365.6,83.5 L365.5,81.8 L365.4,80.5 L365.3,78.5 L365.1,76.5 L365.0,74.5 L364.8,72.5 L364.7,70.5 L364.6,68.5 L364.5,67.1 L364.4,65.5 L364.2,63.5 L364.1,61.5 L364.0,59.5 L363.8,57.5 L363.7,55.5 L363.6,53.5 L363.6,51.5 L363.6,49.5 L363.6,47.5 L363.8,45.5" fill="none" stroke="#fff" stroke-opacity="0.4" stroke-width="0.75"/>
<path d="M386.5,132.6 L384.5,132.7 L382.5,132.7 L381.3,132.5 L379.5,131.8 L378.5,131.1 L377.5,130.2 L376.5,128.8 L375.7,127.5 L375.2,126.5 L374.5,124.6 L374.1,123.5 L373.5,122.3 L372.7,120.5 L372.2,119.5 L371.5,117.5 L371.2,116.5 L370.6,114.5 L370.4,113.5 L370.0,111.5 L369.6,109.5 L369.5,108.5 L369.2,106.5 L369.0,104.5 L368.7,102.5 L368.5,100.5 L368.4,99.5 L368.1,97.5 L368.0,95.5 L367.8,93.5 L367.6,91.5 L367.5,90.5 L367.3,88.5 L367.2,86.5 L367.0,84.5 L366.9,82.5 L366.8,80.5 L366.7,78.5 L366.6,76.5 L366.5,74.7 L366.5,73.5 L366.4,71.5 L366.3,69.5 L366.2,67.5 L366.1,65.5 L366.0,63.5 L365.9,61.5 L365.8,59.5 L365.7,57.5 L365.6,55.5 L365.5,53.5 L365.5,52.1 L365.5,50.5 L365.5,48.5 L365.5,47.5 L365.8,45.5" fill="none" stroke="#fff" stroke-opacity="0.4" stroke-width="0.75"/>
<path d="M386.5,129.2 L385.3,129.5 L383.5,129.7 L381.5,129.5 L380.5,129.1 L379.5,128.4 L378.5,127.3 L377.5,125.8 L376.9,124.5 L376.4,123.5 L375.5,122.2 L374.5,120.7 L373.8,119.5 L373.3,118.5 L372.5,116.7 L372.1,115.5 L371.6,113.5 L371.4,112.5 L371.0,110.5 L370.6,108.5 L370.5,107.5 L370.2,105.5 L370.0,103.5 L369.8,101.5 L369.5,99.5 L369.4,98.5 L369.2,96.5 L369.1,94.5 L368.9,92.5 L368.8,90.5 L368.6,88.5 L368.5,86.7 L368.4,85.5 L368.3,83.5 L368.2,81.5 L368.2,79.5 L368.1,77.5 L368.1,75.5 L368.1,73.5 L368.1,71.5 L368.1,69.5 L368.0,67.5 L368.0,65.5 L368.1,63.5 L368.1,61.5 L368.0,59.5 L367.9,57.5 L367.9,55.5 L368.1,53.5 L368.1,51.5 L368.2,49.5 L368.5,47.5 L368.9,46.5 L369.5,45.3" fill="none" stroke="#fff" stroke-opacity="0.4" stroke-width="0.75"/>
<path d="M386.5,106.8 L386.1,108.5 L385.7,110.5 L385.4,111.5 L385.0,113.5 L384.5,115.3 L384.1,116.5 L383.5,117.7 L382.5,119.4 L381.5,120.2 L380.5,120.7 L378.5,120.8 L377.5,120.5 L376.1,119.5 L375.2,118.5 L374.5,117.5 L373.5,115.5 L373.2,114.5 L372.6,112.5 L372.4,111.5 L372.0,109.5 L371.7,107.5 L371.5,106.0 L371.3,104.5 L371.1,102.5 L370.9,100.5 L370.7,98.5 L370.5,96.6 L370.4,95.5 L370.3,93.5 L370.2,91.5 L370.1,89.5 L370.0,87.5 L369.9,85.5 L369.8,83.5 L369.7,81.5 L369.7,79.5 L369.7,77.5 L369.7,75.5 L369.7,73.5 L369.8,71.5 L369.9,69.5 L369.9,67.5 L370.0,65.5 L370.3,63.5 L370.5,61.5 L370.6,60.5 L371.1,58.5 L371.5,56.9 L371.9,55.5 L372.5,54.3 L373.5,52.8 L374.5,51.8 L375.5,51.2 L377.5,50.6 L379.5,50.8 L381.0,51.5 L382.2,52.5 L383.0,53.5 L383.5,54.5 L384.4,56.5 L384.7,57.5 L385.3,59.5 L385.6,60.5 L386.0,62.5 L386.4,64.5" fill="none" stroke="#fff" stroke-opacity="0.4" stroke-width="0.75"/>
<path d="M379.5,117.0 L377.5,117.1 L376.5,116.5 L375.5,115.5 L374.5,113.5 L374.2,112.5 L373.8,110.5 L373.5,109.2 L373.2,107.5 L372.9,105.5 L372.7,103.5 L372.5,102.0 L372.4,100.5 L372.2,98.5 L372.0,96.5 L371.9,94.5 L371.8,92.5 L371.7,90.5 L371.6,88.5 L371.5,87.0 L371.5,85.5 L371.4,83.5 L371.4,81.5 L371.5,79.5 L371.5,77.5 L371.4,75.5 L371.4,73.5 L371.5,72.5 L371.5,70.5 L371.6,68.5 L371.7,66.5 L372.0,64.5 L372.3,62.5 L372.6,61.5 L373.2,59.5 L373.6,58.5 L374.5,56.8 L375.5,55.7 L376.5,55.0 L378.5,54.7 L380.2,55.5 L381.3,56.5 L381.9,57.5 L382.5,58.7 L383.1,60.5 L383.5,61.7 L383.9,63.5 L384.2,65.5 L384.4,67.5 L384.5,68.8 L384.6,70.5 L384.6,72.5 L384.8,74.5 L384.8,76.5 L384.8,78.5 L384.9,80.5 L384.9,82.5 L385.0,84.5 L385.0,86.5 L384.9,88.5 L384.9,90.5 L384.8,92.5 L384.7,94.5 L384.7,96.5 L384.5,98.5 L384.4,99.5 L384.3,101.5 L384.0,103.5 L383.8,105.5 L383.5,107.5 L383.3,108.5 L383.0,110.5 L382.5,112.5 L382.2,113.5 L381.5,115.1 L380.5,116.3 L379.5,117.0" fill="none" stroke="#fff" stroke-opacity="0.4" stroke-width="0.75"/>
<path d="M378.5,112.7 L377.5,112.5 L376.5,111.3 L375.9,109.5 L375.5,108.3 L375.1,106.5 L374.8,104.5 L374.5,102.5 L374.4,101.5 L374.3,99.5 L374.1,97.5 L373.9,95.5 L373.9,93.5 L373.8,91.5 L373.8,89.5 L373.7,87.5 L373.7,85.5 L373.7,83.5 L373.7,81.5 L373.7,79.5 L373.6,77.5 L373.5,76.5 L373.2,74.5 L373.1,72.5 L373.0,70.5 L373.0,68.5 L373.1,66.5 L373.5,64.5 L373.7,63.5 L374.4,61.5 L375.0,60.5 L375.6,59.5 L376.7,58.5 L378.5,58.1 L379.5,58.6 L380.5,59.7 L381.5,61.4 L382.0,62.5 L382.5,64.5 L382.7,65.5 L382.9,67.5 L383.0,69.5 L383.0,71.5 L382.9,73.5 L382.7,75.5 L382.5,77.5 L382.4,78.5 L382.4,80.5 L382.4,82.5 L382.4,84.5 L382.4,86.5 L382.4,88.5 L382.4,90.5 L382.3,92.5 L382.2,94.5 L382.1,96.5 L382.0,98.5 L381.8,100.5 L381.6,102.5 L381.5,103.5 L381.2,105.5 L380.9,107.5 L380.5,109.3 L380.1,110.5 L379.5,111.9 L378.5,112.7" fill="none" stroke="#fff" stroke-opacity="0.4" stroke-width="0.75"/>
<path d="M378.5,77.2 L376.8,76.5 L376.1,75.5 L375.5,74.5 L374.9,72.5 L374.5,70.5 L374.4,69.5 L374.4,67.5 L374.6,66.5 L375.1,64.5 L375.5,63.3 L376.5,61.9 L377.5,61.4 L378.8,61.5 L380.0,62.5 L380.6,63.5 L381.2,65.5 L381.5,67.2 L381.6,68.5 L381.5,70.3 L381.3,71.5 L380.9,73.5 L380.5,74.7 L379.5,76.4 L378.5,77.2" fill="none" stroke="#fff" stroke-opacity="0.4" stroke-width="0.75"/>
<path d="M378.5,71.0 L377.1,70.5 L376.5,69.4 L376.4,67.5 L376.8,66.5 L378.5,65.5 L378.5,65.5 L379.5,67.1 L379.6,68.5 L379.4,69.5 L378.5,71.0" fill="none" stroke="#fff" stroke-opacity="0.4" stroke-width="0.75"/>
<path d="M303.5,134.6 L301.5,135.3 L299.5,135.1 L297.8,134.5 L296.5,133.6 L295.5,132.6 L294.5,131.5 L293.8,130.5 L293.2,129.5 L292.5,128.1 L291.9,126.5 L291.5,125.3 L291.1,123.5 L290.7,121.5 L290.4,120.5 L290.2,118.5 L290.2,116.5 L290.1,114.5 L290.1,112.5 L290.3,110.5 L290.5,109.1 L290.8,107.5 L291.2,105.5 L291.5,104.3 L292.1,102.5 L292.5,101.4 L293.3,99.5 L293.9,98.5 L294.5,97.5 L295.5,96.2 L296.5,95.2 L297.5,94.4 L299.5,93.6 L301.5,93.5 L303.5,94.0 L304.5,94.6 L305.6,95.5 L306.5,96.5 L307.5,97.8 L308.5,99.3 L309.1,100.5 L309.5,101.5 L310.2,103.5 L310.5,104.5 L310.9,106.5 L311.3,108.5 L311.5,109.5 L311.8,111.5 L311.9,113.5 L311.9,115.5 L311.8,117.5 L311.7,119.5 L311.5,120.7 L311.1,122.5 L310.7,124.5 L310.5,125.5 L309.8,127.5 L309.3,128.5 L308.5,129.9 L307.5,131.3 L306.5,132.4 L305.5,133.3 L304.5,134.1 L303.5,134.6" fill="none" stroke="#fff" stroke-opacity="0.45" stroke-width="0.75"/>
<path d="M330.5,132.6 L328.5,132.8 L327.5,132.5 L326.2,131.5 L325.5,130.5 L324.8,128.5 L324.7,126.5 L325.0,124.5 L325.5,123.3 L326.5,121.9 L327.5,121.3 L329.5,121.0 L330.9,121.5 L332.0,122.5 L332.6,123.5 L333.1,125.5 L333.2,127.5 L332.9,129.5 L332.5,130.6 L331.5,131.9 L330.5,132.6" fill="none" stroke="#fff" stroke-opacity="0.45" stroke-width="0.75"/>
<path d="M302.5,129.0 L300.5,129.4 L298.7,128.5 L297.8,127.5 L297.3,126.5 L296.5,124.5 L296.2,123.5 L295.6,121.5 L295.4,120.5 L295.2,118.5 L295.0,116.5 L295.0,114.5 L295.1,112.5 L295.3,110.5 L295.5,108.6 L295.8,107.5 L296.5,105.5 L296.8,104.5 L297.5,102.6 L298.2,101.5 L299.4,100.5 L300.5,100.2 L302.1,100.5 L303.5,101.3 L304.4,102.5 L304.8,103.5 L305.5,105.4 L305.9,106.5 L306.5,108.5 L306.6,109.5 L306.8,111.5 L306.9,113.5 L307.0,115.5 L306.9,117.5 L306.8,119.5 L306.5,121.4 L306.2,122.5 L305.6,124.5 L305.2,125.5 L304.5,127.0 L303.5,128.3 L302.5,129.0" fill="none" stroke="#fff" stroke-opacity="0.45" stroke-width="0.75"/>
</g>
<rect x="283.50" y="43.00" width="105.00" height="109.00" fill="none" stroke="#4a4a4a" stroke-width="1.1" />
<g clip-path="url(#hc3)"><rect x="410.0" y="43.0" width="105.0" height="109.0" fill="#fff"/>
<rect x="410.00" y="43.00" width="105.00" height="109.00" fill="#fcecec" stroke="none" stroke-width="1" />
<ellipse cx="436" cy="68" rx="16" ry="22" fill="#fff6f6" opacity="1" filter="url(#bl6)"/>
<ellipse cx="430" cy="145" rx="24" ry="8" fill="#fff8f8" opacity="1" filter="url(#bl5)"/>
<ellipse cx="433" cy="112" rx="15" ry="17" fill="#f8d2d2" opacity="1" filter="url(#bl5)"/>
<polygon points="456,36 520,36 520,156 472,156 463,140 458,110 456,70" fill="#f6b4b4" opacity="1" filter="url(#bl5)"/>
<polygon points="466,44 518,44 518,148 480,148 470,126 466,90 467,60" fill="#f08888" opacity="1" filter="url(#bl4)"/>
<ellipse cx="498" cy="98" rx="22" ry="44" fill="#ec6a6a" opacity="1" filter="url(#bl4)"/>
<ellipse cx="501" cy="104" rx="12" ry="23" fill="#e94c4c" opacity="1" filter="url(#bl3)"/>
<ellipse cx="501" cy="105" rx="4" ry="7" fill="#e42e2e" opacity="1" filter="url(#bl2)"/>
<polygon points="460,147 520,147 520,156 460,156" fill="#fff" opacity="0.35" filter="url(#bl2)"/>
<polygon points="500,40 520,40 520,50 500,50" fill="#fff" opacity="0.2" filter="url(#bl2)"/>
<path d="M468.6,150.5 L467.9,149.5 L466.8,148.5 L465.5,147.5 L464.5,146.7 L463.5,145.8 L462.5,144.8 L461.6,143.5 L461.1,142.5 L460.5,140.9 L460.0,139.5 L459.5,138.0 L459.1,136.5 L458.7,134.5 L458.5,133.5 L458.1,131.5 L457.7,129.5 L457.5,128.0 L457.2,126.5 L456.8,124.5 L456.5,122.5 L456.4,121.5 L455.9,119.5 L455.6,117.5 L455.4,116.5 L455.0,114.5 L454.6,112.5 L454.5,111.5 L454.3,109.5 L454.2,107.5 L454.1,105.5 L454.0,103.5 L453.9,101.5 L453.9,99.5 L453.9,97.5 L453.9,95.5 L453.7,93.5 L453.7,91.5 L453.7,89.5 L453.7,87.5 L453.6,85.5 L453.5,83.5 L453.5,82.5 L453.4,80.5 L453.4,78.5 L453.3,76.5 L453.2,74.5 L453.2,72.5 L453.2,70.5 L453.2,68.5 L453.2,66.5 L453.2,64.5 L453.2,62.5 L453.1,60.5 L453.0,58.5 L453.0,56.5 L452.9,54.5 L452.8,52.5 L452.8,50.5 L452.9,48.5 L452.8,46.5 L452.8,44.5" fill="none" stroke="#fff" stroke-opacity="0.4" stroke-width="0.75"/>
<path d="M437.5,126.8 L435.5,127.3 L433.5,127.5 L431.5,127.4 L429.5,127.1 L428.0,126.5 L426.5,125.6 L425.5,124.9 L424.5,124.2 L423.5,123.3 L422.5,122.2 L421.5,120.6 L421.0,119.5 L420.5,118.2 L419.8,116.5 L419.5,115.3 L419.2,113.5 L419.1,111.5 L419.3,109.5 L419.6,108.5 L420.1,106.5 L420.5,105.4 L421.4,103.5 L422.1,102.5 L422.8,101.5 L423.7,100.5 L424.7,99.5 L426.1,98.5 L427.5,97.8 L428.5,97.4 L430.5,97.0 L432.5,96.8 L434.5,96.8 L436.5,97.1 L437.7,97.5 L439.5,98.4 L440.5,99.1 L441.5,99.9 L442.5,100.8 L443.5,102.0 L444.5,103.4 L445.1,104.5 L445.5,105.7 L446.2,107.5 L446.5,108.5 L447.0,110.5 L447.0,112.5 L446.8,114.5 L446.5,115.7 L445.8,117.5 L445.4,118.5 L444.5,120.5 L443.9,121.5 L443.2,122.5 L442.3,123.5 L441.1,124.5 L439.7,125.5 L438.5,126.2 L437.5,126.8" fill="none" stroke="#fff" stroke-opacity="0.4" stroke-width="0.75"/>
<path d="M473.6,150.5 L472.5,149.5 L471.5,148.9 L470.5,148.3 L469.2,147.5 L467.7,146.5 L466.5,145.5 L465.6,144.5 L464.8,143.5 L464.2,142.5 L463.5,141.0 L462.9,139.5 L462.5,138.2 L462.0,136.5 L461.5,134.5 L461.3,133.5 L460.9,131.5 L460.5,129.5 L460.4,128.5 L460.0,126.5 L459.7,124.5 L459.5,123.3 L459.2,121.5 L458.9,119.5 L458.5,117.5 L458.4,116.5 L458.1,114.5 L457.8,112.5 L457.5,110.5 L457.4,109.5 L457.2,107.5 L457.1,105.5 L457.0,103.5 L456.8,101.5 L456.8,99.5 L456.7,97.5 L456.6,95.5 L456.5,93.8 L456.4,92.5 L456.3,90.5 L456.2,88.5 L456.1,86.5 L456.1,84.5 L456.0,82.5 L456.0,80.5 L455.9,78.5 L455.8,76.5 L455.8,74.5 L455.7,72.5 L455.7,70.5 L455.7,68.5 L455.7,66.5 L455.6,64.5 L455.6,62.5 L455.6,60.5 L455.6,58.5 L455.6,56.5 L455.6,54.5 L455.6,52.5 L455.5,50.5 L455.6,48.5 L455.5,46.5 L455.5,44.5" fill="none" stroke="#fff" stroke-opacity="0.4" stroke-width="0.75"/>
<path d="M482.5,150.5 L480.5,150.0 L479.1,149.5 L477.5,149.1 L476.0,148.5 L474.5,148.0 L473.4,147.5 L471.5,146.6 L470.5,146.0 L469.5,145.2 L468.5,144.4 L467.5,143.2 L466.5,141.6 L466.0,140.5 L465.5,139.1 L465.0,137.5 L464.5,135.7 L464.2,134.5 L463.7,132.5 L463.5,131.5 L463.0,129.5 L462.6,127.5 L462.5,126.5 L462.1,124.5 L461.8,122.5 L461.5,120.5 L461.3,119.5 L461.0,117.5 L460.7,115.5 L460.5,113.7 L460.4,112.5 L460.0,110.5 L459.8,108.5 L459.6,106.5 L459.6,104.5 L459.5,103.3 L459.3,101.5 L459.1,99.5 L459.1,97.5 L459.0,95.5 L458.8,93.5 L458.7,91.5 L458.6,89.5 L458.5,87.5 L458.5,86.5 L458.4,84.5 L458.3,82.5 L458.3,80.5 L458.4,78.5 L458.2,76.5 L458.2,74.5 L458.1,72.5 L458.0,70.5 L458.0,68.5 L458.1,66.5 L458.0,64.5 L458.0,62.5 L458.0,60.5 L458.0,58.5 L457.9,56.5 L457.9,54.5 L457.9,52.5 L457.9,50.5 L457.9,48.5 L458.0,46.5 L458.1,44.5" fill="none" stroke="#fff" stroke-opacity="0.4" stroke-width="0.75"/>
<path d="M513.5,148.2 L511.5,148.4 L510.5,148.5 L508.5,148.7 L506.5,148.7 L504.5,148.7 L502.5,148.7 L500.5,148.8 L498.5,148.9 L496.5,148.8 L494.5,148.8 L492.5,148.7 L490.5,148.7 L488.5,148.7 L486.5,148.6 L485.0,148.5 L483.5,148.4 L481.5,148.1 L479.5,147.6 L478.5,147.4 L476.5,146.7 L475.5,146.3 L473.6,145.5 L472.5,144.9 L471.5,144.1 L470.5,143.0 L469.5,141.5 L469.1,140.5 L468.5,139.1 L467.9,137.5 L467.5,136.4 L466.8,134.5 L466.5,133.4 L466.1,131.5 L465.5,129.5 L465.3,128.5 L464.9,126.5 L464.5,124.7 L464.3,123.5 L464.0,121.5 L463.7,119.5 L463.5,118.3 L463.2,116.5 L462.9,114.5 L462.6,112.5 L462.5,111.4 L462.3,109.5 L462.1,107.5 L461.9,105.5 L461.8,103.5 L461.6,101.5 L461.5,99.8 L461.4,98.5 L461.2,96.5 L461.1,94.5 L461.0,92.5 L460.9,90.5 L460.9,88.5 L460.8,86.5 L460.8,84.5 L460.7,82.5 L460.7,80.5 L460.6,78.5 L460.6,76.5 L460.5,74.5 L460.5,72.8 L460.5,71.5 L460.5,69.5 L460.5,68.5 L460.5,66.5 L460.5,65.5 L460.4,63.5 L460.4,61.5 L460.4,59.5 L460.4,57.5 L460.4,55.5 L460.4,53.5 L460.4,51.5 L460.4,49.5 L460.5,47.6 L460.6,46.5 L461.0,44.5" fill="none" stroke="#fff" stroke-opacity="0.4" stroke-width="0.75"/>
<path d="M513.5,146.7 L511.5,146.9 L509.5,147.1 L507.5,147.2 L505.5,147.3 L503.5,147.3 L501.5,147.4 L499.5,147.5 L497.5,147.5 L495.5,147.4 L493.5,147.4 L491.5,147.3 L489.5,147.2 L487.5,147.2 L485.5,147.1 L483.5,146.9 L481.5,146.5 L480.5,146.3 L478.5,145.6 L477.5,145.2 L476.1,144.5 L474.7,143.5 L473.7,142.5 L473.1,141.5 L472.5,140.3 L471.7,138.5 L471.3,137.5 L470.5,135.9 L470.0,134.5 L469.5,133.2 L468.8,131.5 L468.5,130.5 L467.9,128.5 L467.5,126.8 L467.2,125.5 L466.7,123.5 L466.5,122.4 L466.3,120.5 L466.0,118.5 L465.7,116.5 L465.5,115.2 L465.3,113.5 L465.1,111.5 L464.9,109.5 L464.6,107.5 L464.5,106.2 L464.3,104.5 L464.1,102.5 L464.0,100.5 L463.8,98.5 L463.6,96.5 L463.5,94.5 L463.4,93.5 L463.3,91.5 L463.2,89.5 L463.2,87.5 L463.1,85.5 L463.1,83.5 L463.1,81.5 L463.1,79.5 L463.1,77.5 L463.1,75.5 L463.1,73.5 L463.2,71.5 L463.3,69.5 L463.2,67.5 L463.2,65.5 L463.3,63.5 L463.3,61.5 L463.3,59.5 L463.2,57.5 L463.2,55.5 L463.1,53.5 L463.1,51.5 L463.2,49.5 L463.5,47.5 L463.8,46.5 L464.4,44.5" fill="none" stroke="#fff" stroke-opacity="0.4" stroke-width="0.75"/>
<path d="M504.4,44.5 L505.5,44.9 L507.5,45.1 L509.5,45.4 L510.5,45.7 L512.5,46.3 L513.5,46.5" fill="none" stroke="#fff" stroke-opacity="0.4" stroke-width="0.75"/>
<path d="M513.5,145.1 L511.5,145.5 L510.5,145.6 L508.5,145.8 L506.5,145.9 L504.5,146.0 L502.5,146.1 L500.5,146.2 L498.5,146.2 L496.5,146.2 L494.5,146.1 L492.5,146.1 L490.5,145.9 L488.5,145.8 L486.5,145.7 L484.6,145.5 L483.5,145.3 L481.5,144.9 L480.4,144.5 L478.5,143.5 L477.5,142.6 L476.5,141.5 L475.9,140.5 L475.4,139.5 L474.5,137.6 L474.0,136.5 L473.5,135.4 L472.7,133.5 L472.3,132.5 L471.5,130.5 L471.1,129.5 L470.5,127.8 L470.1,126.5 L469.6,124.5 L469.4,123.5 L469.0,121.5 L468.7,119.5 L468.5,118.0 L468.3,116.5 L468.0,114.5 L467.9,112.5 L467.6,110.5 L467.5,109.5 L467.2,107.5 L467.1,105.5 L467.0,103.5 L466.8,101.5 L466.5,99.5 L466.4,98.5 L466.2,96.5 L466.1,94.5 L465.9,92.5 L465.8,90.5 L465.7,88.5 L465.7,86.5 L465.8,84.5 L465.9,82.5 L465.9,80.5 L466.0,78.5 L466.0,76.5 L466.0,74.5 L466.1,72.5 L466.1,70.5 L466.2,68.5 L466.2,66.5 L466.3,64.5 L466.3,62.5 L466.4,60.5 L466.3,58.5 L466.2,56.5 L466.1,54.5 L466.1,52.5 L466.3,50.5 L466.5,49.3 L467.1,47.5 L467.8,46.5 L468.8,45.5 L469.8,44.5" fill="none" stroke="#fff" stroke-opacity="0.4" stroke-width="0.75"/>
<path d="M499.4,44.5 L500.0,45.5 L500.9,46.5 L502.5,47.5 L503.5,47.8 L505.5,48.1 L507.5,48.2 L509.5,48.3 L511.1,48.5 L512.5,48.8" fill="none" stroke="#fff" stroke-opacity="0.4" stroke-width="0.75"/>
<path d="M513.5,143.0 L512.0,143.5 L510.5,143.9 L508.5,144.1 L506.5,144.4 L505.3,144.5 L503.5,144.7 L501.5,144.8 L499.5,144.9 L497.5,144.9 L495.5,144.8 L493.5,144.7 L491.5,144.6 L490.5,144.5 L488.5,144.2 L486.5,144.0 L484.5,143.6 L483.5,143.4 L481.5,142.5 L480.5,141.7 L479.6,140.5 L479.0,139.5 L478.4,138.5 L477.5,136.7 L476.9,135.5 L476.4,134.5 L475.6,132.5 L475.2,131.5 L474.5,129.9 L473.9,128.5 L473.5,127.5 L472.9,125.5 L472.5,123.9 L472.2,122.5 L471.8,120.5 L471.5,119.2 L471.2,117.5 L471.0,115.5 L470.8,113.5 L470.5,111.5 L470.4,110.5 L470.1,108.5 L469.9,106.5 L469.8,104.5 L469.6,102.5 L469.5,101.5 L469.2,99.5 L469.0,97.5 L468.9,95.5 L468.9,93.5 L468.8,91.5 L468.7,89.5 L468.6,87.5 L468.7,85.5 L468.8,83.5 L468.8,81.5 L468.9,79.5 L469.0,77.5 L469.2,75.5 L469.2,73.5 L469.3,71.5 L469.5,69.5 L469.5,68.5 L469.6,66.5 L469.7,64.5 L469.8,62.5 L469.8,60.5 L469.7,58.5 L469.6,56.5 L469.6,54.5 L469.6,52.5 L470.2,50.5 L470.7,49.5 L471.6,48.5 L473.4,47.5 L474.5,47.2 L476.5,47.0 L478.5,46.9 L480.5,46.9 L482.5,46.9 L484.5,46.8 L486.5,46.7 L488.5,46.6 L490.5,46.6 L492.5,46.6 L494.5,46.6 L496.5,46.8 L497.9,47.5 L499.5,48.5 L500.5,49.0 L501.5,49.5 L503.5,50.1 L505.5,50.3 L506.9,50.5 L508.5,50.7 L510.5,50.9 L512.4,51.5 L513.5,51.9" fill="none" stroke="#fff" stroke-opacity="0.4" stroke-width="0.75"/>
<path d="M513.5,136.1 L512.5,137.3 L511.9,138.5 L511.2,139.5 L510.2,140.5 L508.5,141.5 L507.5,141.8 L505.5,142.5 L504.5,142.7 L502.5,143.0 L500.5,143.2 L498.5,143.3 L496.5,143.3 L494.5,143.1 L492.5,142.9 L490.7,142.5 L489.5,142.1 L487.5,141.6 L486.5,141.1 L485.3,140.5 L484.1,139.5 L483.2,138.5 L482.4,137.5 L481.5,136.0 L480.6,134.5 L480.1,133.5 L479.5,132.5 L478.6,130.5 L478.1,129.5 L477.5,128.3 L476.8,126.5 L476.5,125.4 L475.9,123.5 L475.5,122.0 L475.1,120.5 L474.7,118.5 L474.5,117.3 L474.1,115.5 L473.7,113.5 L473.5,111.5 L473.4,110.5 L473.2,108.5 L472.9,106.5 L472.7,104.5 L472.5,102.5 L472.5,101.5 L472.3,99.5 L472.2,97.5 L472.1,95.5 L472.1,93.5 L472.2,91.5 L472.3,89.5 L472.4,87.5 L472.4,85.5 L472.5,84.0 L472.7,82.5 L473.0,80.5 L473.3,78.5 L473.5,77.0 L473.7,75.5 L474.0,73.5 L474.5,71.5 L474.8,70.5 L475.4,68.5 L475.6,67.5 L476.2,65.5 L476.5,64.5 L476.9,62.5 L477.4,60.5 L477.8,59.5 L478.5,57.5 L479.0,56.5 L480.1,55.5 L481.5,54.7 L482.5,54.3 L484.3,53.5 L485.5,52.9 L486.5,52.5 L488.5,51.8 L489.5,51.5 L491.5,51.0 L493.5,50.7 L495.5,50.5 L497.5,50.8 L499.5,51.3 L500.5,51.6 L502.5,52.1 L504.2,52.5 L505.5,52.8 L507.5,53.3 L508.5,53.6 L510.0,54.5 L511.0,55.5 L511.6,56.5 L512.5,58.3 L513.3,59.5" fill="none" stroke="#fff" stroke-opacity="0.4" stroke-width="0.75"/>
<path d="M513.5,128.5 L512.5,129.6 L511.5,131.3 L510.8,132.5 L510.2,133.5 L509.5,134.5 L508.5,135.9 L507.5,137.1 L506.5,138.0 L505.5,138.7 L503.9,139.5 L502.5,140.0 L500.6,140.5 L499.5,140.7 L497.5,140.8 L495.5,140.6 L494.5,140.3 L492.5,139.6 L491.5,139.2 L490.2,138.5 L488.8,137.5 L487.8,136.5 L486.9,135.5 L486.1,134.5 L485.3,133.5 L484.5,132.4 L483.5,130.7 L482.7,129.5 L482.2,128.5 L481.5,127.2 L480.8,125.5 L480.5,124.5 L479.8,122.5 L479.5,121.5 L478.9,119.5 L478.5,118.2 L478.1,116.5 L477.7,114.5 L477.5,113.4 L477.1,111.5 L476.8,109.5 L476.6,107.5 L476.5,106.5 L476.3,104.5 L476.1,102.5 L476.1,100.5 L476.0,98.5 L476.0,96.5 L476.0,94.5 L476.1,92.5 L476.3,90.5 L476.4,88.5 L476.5,87.5 L476.8,85.5 L477.1,83.5 L477.5,81.6 L477.7,80.5 L478.1,78.5 L478.5,77.1 L479.0,75.5 L479.5,73.8 L480.0,72.5 L480.5,71.2 L481.1,69.5 L481.5,68.5 L482.4,66.5 L483.0,65.5 L483.6,64.5 L484.5,63.2 L485.5,61.8 L486.5,60.5 L487.5,59.5 L488.5,58.5 L489.5,57.7 L490.5,57.0 L491.5,56.5 L493.5,55.6 L494.5,55.2 L496.5,54.7 L498.5,54.7 L500.5,55.0 L502.4,55.5 L503.5,55.9 L504.7,56.5 L506.2,57.5 L507.3,58.5 L508.3,59.5 L509.1,60.5 L509.8,61.5 L510.5,62.6 L511.5,64.5 L512.0,65.5 L512.5,66.5 L513.5,67.7" fill="none" stroke="#fff" stroke-opacity="0.4" stroke-width="0.75"/>
<path d="M513.5,121.5 L512.5,122.7 L511.5,124.5 L511.0,125.5 L510.4,126.5 L509.5,127.9 L508.5,129.2 L507.5,130.5 L506.6,131.5 L505.5,132.3 L504.5,133.0 L503.5,133.6 L501.7,134.5 L500.5,135.0 L498.5,135.3 L496.5,135.0 L495.0,134.5 L493.5,133.7 L492.5,133.0 L491.5,132.1 L490.5,131.3 L489.5,130.3 L488.5,128.9 L487.8,127.5 L487.2,126.5 L486.5,125.4 L485.6,123.5 L485.3,122.5 L484.6,120.5 L484.2,119.5 L483.6,117.5 L483.4,116.5 L483.0,114.5 L482.5,112.9 L482.2,111.5 L482.1,109.5 L481.9,107.5 L481.5,105.5 L481.4,104.5 L481.4,102.5 L481.5,101.2 L481.6,99.5 L481.5,98.1 L481.5,96.5 L481.6,95.5 L481.7,93.5 L481.8,91.5 L482.1,89.5 L482.4,87.5 L482.5,86.5 L482.7,84.5 L483.1,82.5 L483.5,80.5 L483.9,79.5 L484.5,77.6 L484.9,76.5 L485.5,74.5 L485.9,73.5 L486.5,72.0 L487.2,70.5 L487.7,69.5 L488.5,67.9 L489.5,66.5 L490.2,65.5 L490.9,64.5 L491.7,63.5 L492.9,62.5 L494.4,61.5 L495.5,61.1 L497.5,60.6 L499.5,60.8 L501.5,61.5 L502.5,62.1 L503.5,62.8 L504.5,63.7 L505.5,64.9 L506.5,66.2 L507.4,67.5 L507.8,68.5 L508.5,70.3 L509.1,71.5 L509.6,72.5 L510.2,74.5 L510.6,75.5 L511.5,77.3 L512.1,78.5 L512.6,79.5" fill="none" stroke="#fff" stroke-opacity="0.4" stroke-width="0.75"/>
<path d="M513.5,113.3 L512.9,114.5 L512.5,115.5 L511.8,117.5 L511.4,118.5 L510.5,120.4 L509.9,121.5 L509.3,122.5 L508.5,123.7 L507.5,124.8 L506.5,125.8 L505.5,126.5 L503.5,127.5 L502.5,127.8 L500.5,128.0 L498.5,127.6 L497.5,127.3 L496.0,126.5 L494.8,125.5 L493.7,124.5 L492.8,123.5 L492.0,122.5 L491.4,121.5 L490.5,119.7 L490.0,118.5 L489.5,117.0 L488.9,115.5 L488.5,113.9 L488.2,112.5 L487.9,110.5 L487.6,108.5 L487.5,106.5 L487.5,105.0 L487.4,103.5 L487.4,101.5 L487.5,99.5 L487.6,98.5 L487.9,96.5 L488.3,94.5 L488.5,93.5 L489.1,91.5 L489.5,90.2 L490.2,88.5 L490.7,87.5 L491.5,86.1 L492.5,84.7 L493.5,83.6 L494.5,82.7 L495.5,81.9 L496.5,81.3 L498.1,80.5 L499.5,80.1 L501.5,79.9 L503.5,80.3 L504.5,80.8 L505.8,81.5 L507.1,82.5 L508.2,83.5 L509.0,84.5 L509.6,85.5 L510.5,86.9 L511.3,88.5 L511.8,89.5 L512.5,91.5 L513.0,92.5" fill="none" stroke="#fff" stroke-opacity="0.4" stroke-width="0.75"/>
<path d="M503.5,123.6 L501.5,124.3 L499.5,124.2 L498.0,123.5 L496.8,122.5 L495.8,121.5 L495.0,120.5 L494.3,119.5 L493.5,118.1 L492.9,116.5 L492.5,115.5 L491.8,113.5 L491.5,112.0 L491.3,110.5 L491.0,108.5 L490.9,106.5 L490.9,104.5 L490.9,102.5 L491.0,100.5 L491.2,98.5 L491.4,96.5 L491.7,95.5 L492.2,93.5 L492.5,92.5 L493.4,90.5 L493.9,89.5 L494.5,88.3 L495.5,86.8 L496.5,85.7 L497.5,84.9 L498.5,84.3 L500.5,83.8 L502.5,84.0 L503.8,84.5 L505.2,85.5 L506.2,86.5 L507.0,87.5 L507.6,88.5 L508.5,90.4 L509.0,91.5 L509.5,92.8 L510.0,94.5 L510.5,96.5 L510.6,97.5 L510.8,99.5 L510.9,101.5 L510.9,103.5 L510.9,105.5 L510.9,107.5 L510.7,109.5 L510.5,110.6 L510.2,112.5 L509.6,114.5 L509.3,115.5 L508.5,117.5 L508.0,118.5 L507.5,119.5 L506.5,121.1 L505.5,122.1 L504.5,122.9 L503.5,123.6" fill="none" stroke="#fff" stroke-opacity="0.4" stroke-width="0.75"/>
<path d="M502.5,115.1 L500.5,115.5 L498.6,114.5 L497.5,113.5 L496.7,112.5 L496.0,111.5 L495.5,110.2 L495.0,108.5 L494.8,106.5 L494.8,104.5 L494.8,102.5 L495.2,100.5 L495.5,99.5 L496.4,97.5 L497.2,96.5 L498.4,95.5 L499.5,94.9 L501.5,94.6 L503.5,95.4 L504.5,96.2 L505.5,97.5 L506.0,98.5 L506.5,100.1 L507.0,101.5 L507.1,103.5 L507.2,105.5 L507.1,107.5 L506.7,109.5 L506.4,110.5 L505.5,112.2 L504.5,113.5 L503.5,114.4 L502.5,115.1" fill="none" stroke="#fff" stroke-opacity="0.4" stroke-width="0.75"/>
<path d="M502.5,109.9 L500.5,110.2 L499.1,109.5 L498.3,108.5 L497.9,106.5 L497.9,104.5 L498.1,102.5 L498.5,101.3 L499.5,100.1 L501.5,99.8 L502.9,100.5 L503.6,101.5 L504.0,103.5 L504.1,105.5 L503.9,107.5 L503.5,108.7 L502.5,109.9" fill="none" stroke="#fff" stroke-opacity="0.4" stroke-width="0.75"/>
</g>
<rect x="410.00" y="43.00" width="105.00" height="109.00" fill="none" stroke="#4a4a4a" stroke-width="1.1" />
<text x="9.00" y="212.40" font-size="16.6" text-anchor="start" fill="#111" font-weight="bold" >B</text>
<line x1="68.20" y1="224.30" x2="68.20" y2="324.90" stroke="#555" stroke-width="1.2"/>
<line x1="64.20" y1="324.40" x2="68.20" y2="324.40" stroke="#555" stroke-width="1.1"/>
<text x="60.50" y="330.00" font-size="11.3" text-anchor="end" fill="#161616" font-weight="normal" >0</text>
<line x1="64.20" y1="291.20" x2="68.20" y2="291.20" stroke="#555" stroke-width="1.1"/>
<text x="60.50" y="296.80" font-size="11.3" text-anchor="end" fill="#161616" font-weight="normal" >50</text>
<line x1="64.20" y1="258.00" x2="68.20" y2="258.00" stroke="#555" stroke-width="1.1"/>
<text x="60.50" y="263.60" font-size="11.3" text-anchor="end" fill="#161616" font-weight="normal" >100</text>
<line x1="64.20" y1="224.80" x2="68.20" y2="224.80" stroke="#555" stroke-width="1.1"/>
<text x="60.50" y="230.40" font-size="11.3" text-anchor="end" fill="#161616" font-weight="normal" >150</text>
<line x1="64.20" y1="324.40" x2="168.00" y2="324.40" stroke="#555" stroke-width="1.2"/>
<line x1="83.50" y1="324.40" x2="83.50" y2="327.40" stroke="#555" stroke-width="1"/>
<rect x="76.50" y="258.66" width="14.00" height="65.74" fill="#fff" stroke="#9a9a9a" stroke-width="0.9" />
<line x1="83.50" y1="250.70" x2="83.50" y2="264.31" stroke="#444" stroke-width="1"/>
<line x1="80.00" y1="250.70" x2="87.00" y2="250.70" stroke="#222" stroke-width="1"/>
<line x1="80.00" y1="264.31" x2="87.00" y2="264.31" stroke="#222" stroke-width="1"/>
<circle cx="78.00" cy="262.91" r="2.3" fill="#111"/>
<circle cx="83.70" cy="250.70" r="2.3" fill="#111"/>
<circle cx="89.50" cy="259.99" r="2.3" fill="#111"/>
<text x="0" y="0" font-size="11.3" text-anchor="end" fill="#161616" letter-spacing="0" transform="translate(89.50,337.70) rotate(-45)">DMSO</text>
<line x1="106.60" y1="324.40" x2="106.60" y2="327.40" stroke="#555" stroke-width="1"/>
<rect x="99.60" y="294.85" width="14.00" height="29.55" fill="#29a3e0" stroke="#333" stroke-width="0.9" />
<line x1="106.60" y1="289.41" x2="106.60" y2="298.50" stroke="#444" stroke-width="1"/>
<line x1="103.10" y1="289.41" x2="110.10" y2="289.41" stroke="#222" stroke-width="1"/>
<line x1="103.10" y1="298.50" x2="110.10" y2="298.50" stroke="#222" stroke-width="1"/>
<circle cx="100.60" cy="296.51" r="2.3" fill="#111"/>
<circle cx="106.90" cy="289.41" r="2.3" fill="#111"/>
<circle cx="112.60" cy="293.72" r="2.3" fill="#111"/>
<text x="0" y="0" font-size="11.3" text-anchor="end" fill="#161616" letter-spacing="0.28" transform="translate(110.80,337.70) rotate(-45)">10 µmol/L Nut</text>
<line x1="129.70" y1="324.40" x2="129.70" y2="327.40" stroke="#555" stroke-width="1"/>
<rect x="122.70" y="259.33" width="14.00" height="65.07" fill="#cfcfcf" stroke="#333" stroke-width="0.9" />
<line x1="129.70" y1="243.72" x2="129.70" y2="272.61" stroke="#444" stroke-width="1"/>
<line x1="126.20" y1="243.72" x2="133.20" y2="243.72" stroke="#222" stroke-width="1"/>
<line x1="126.20" y1="272.61" x2="133.20" y2="272.61" stroke="#222" stroke-width="1"/>
<circle cx="129.70" cy="270.62" r="2.3" fill="#111"/>
<circle cx="129.70" cy="261.32" r="2.3" fill="#111"/>
<circle cx="129.70" cy="243.72" r="2.3" fill="#111"/>
<text x="0" y="0" font-size="11.3" text-anchor="end" fill="#161616" letter-spacing="0.28" transform="translate(133.10,337.70) rotate(-45)">1.25 µmol/L MG132</text>
<line x1="152.80" y1="324.40" x2="152.80" y2="327.40" stroke="#555" stroke-width="1"/>
<rect x="145.80" y="320.75" width="14.00" height="3.65" fill="#e8202a" stroke="#333" stroke-width="0.9" />
<line x1="152.80" y1="319.75" x2="152.80" y2="321.74" stroke="#444" stroke-width="1"/>
<line x1="149.30" y1="319.75" x2="156.30" y2="319.75" stroke="#222" stroke-width="1"/>
<line x1="149.30" y1="321.74" x2="156.30" y2="321.74" stroke="#222" stroke-width="1"/>
<circle cx="146.80" cy="319.62" r="2.3" fill="#111"/>
<circle cx="152.80" cy="319.62" r="2.3" fill="#111"/>
<circle cx="158.60" cy="319.62" r="2.3" fill="#111"/>
<text x="0" y="0" font-size="11.3" text-anchor="end" fill="#161616" letter-spacing="0" transform="translate(158.80,337.70) rotate(-45)">Combo</text>
<line x1="83.50" y1="241.80" x2="106.60" y2="241.80" stroke="#555" stroke-width="1"/>
<text x="96.75" y="241.10" font-size="9.6" text-anchor="middle" fill="#1a1a1a" font-weight="bold" letter-spacing="1.1" style="stroke-width:0">**</text>
<line x1="83.50" y1="229.60" x2="129.70" y2="229.60" stroke="#555" stroke-width="1"/>
<text x="107.90" y="227.10" font-size="6.6" text-anchor="middle" fill="#555" font-weight="normal" style="stroke-width:0">ns</text>
<line x1="83.50" y1="217.60" x2="152.80" y2="217.60" stroke="#555" stroke-width="1"/>
<text x="119.85" y="216.90" font-size="9.6" text-anchor="middle" fill="#1a1a1a" font-weight="bold" letter-spacing="1.1" style="stroke-width:0">****</text>
<line x1="106.60" y1="205.20" x2="152.80" y2="205.20" stroke="#555" stroke-width="1"/>
<text x="131.40" y="204.50" font-size="9.6" text-anchor="middle" fill="#1a1a1a" font-weight="bold" letter-spacing="1.1" style="stroke-width:0">****</text>
<line x1="175.40" y1="224.30" x2="175.40" y2="324.90" stroke="#555" stroke-width="1.2"/>
<line x1="171.40" y1="324.40" x2="175.40" y2="324.40" stroke="#555" stroke-width="1.1"/>
<line x1="171.40" y1="291.20" x2="175.40" y2="291.20" stroke="#555" stroke-width="1.1"/>
<line x1="171.40" y1="258.00" x2="175.40" y2="258.00" stroke="#555" stroke-width="1.1"/>
<line x1="171.40" y1="224.80" x2="175.40" y2="224.80" stroke="#555" stroke-width="1.1"/>
<line x1="171.40" y1="324.40" x2="275.20" y2="324.40" stroke="#555" stroke-width="1.2"/>
<line x1="190.70" y1="324.40" x2="190.70" y2="327.40" stroke="#555" stroke-width="1"/>
<rect x="183.70" y="258.66" width="14.00" height="65.74" fill="#fff" stroke="#9a9a9a" stroke-width="0.9" />
<line x1="190.70" y1="249.37" x2="190.70" y2="265.97" stroke="#444" stroke-width="1"/>
<line x1="187.20" y1="249.37" x2="194.20" y2="249.37" stroke="#222" stroke-width="1"/>
<line x1="187.20" y1="265.97" x2="194.20" y2="265.97" stroke="#222" stroke-width="1"/>
<circle cx="184.70" cy="250.70" r="2.3" fill="#111"/>
<circle cx="196.70" cy="254.68" r="2.3" fill="#111"/>
<circle cx="190.70" cy="267.96" r="2.3" fill="#111"/>
<text x="0" y="0" font-size="11.3" text-anchor="end" fill="#161616" letter-spacing="0" transform="translate(195.50,337.70) rotate(-45)">DMSO</text>
<line x1="213.80" y1="324.40" x2="213.80" y2="327.40" stroke="#555" stroke-width="1"/>
<rect x="206.80" y="301.16" width="14.00" height="23.24" fill="#29a3e0" stroke="#333" stroke-width="0.9" />
<line x1="213.80" y1="299.83" x2="213.80" y2="302.49" stroke="#444" stroke-width="1"/>
<line x1="210.30" y1="299.83" x2="217.30" y2="299.83" stroke="#222" stroke-width="1"/>
<line x1="210.30" y1="302.49" x2="217.30" y2="302.49" stroke="#222" stroke-width="1"/>
<circle cx="208.80" cy="301.16" r="2.3" fill="#111"/>
<circle cx="213.80" cy="299.83" r="2.3" fill="#111"/>
<circle cx="218.80" cy="301.16" r="2.3" fill="#111"/>
<text x="0" y="0" font-size="11.3" text-anchor="end" fill="#161616" letter-spacing="0.28" transform="translate(218.00,337.70) rotate(-45)">10 µmol/L Nut</text>
<line x1="236.90" y1="324.40" x2="236.90" y2="327.40" stroke="#555" stroke-width="1"/>
<rect x="229.90" y="292.53" width="14.00" height="31.87" fill="#a8a8a8" stroke="#333" stroke-width="0.9" />
<line x1="236.90" y1="281.90" x2="236.90" y2="304.48" stroke="#444" stroke-width="1"/>
<line x1="233.40" y1="281.90" x2="240.40" y2="281.90" stroke="#222" stroke-width="1"/>
<line x1="233.40" y1="304.48" x2="240.40" y2="304.48" stroke="#222" stroke-width="1"/>
<circle cx="230.90" cy="285.22" r="2.3" fill="#111"/>
<circle cx="242.90" cy="286.55" r="2.3" fill="#111"/>
<circle cx="236.90" cy="303.82" r="2.3" fill="#111"/>
<text x="0" y="0" font-size="11.3" text-anchor="end" fill="#161616" letter-spacing="0.28" transform="translate(240.30,337.70) rotate(-45)">6.25 nmol/L Bort</text>
<line x1="260.00" y1="324.40" x2="260.00" y2="327.40" stroke="#555" stroke-width="1"/>
<rect x="253.00" y="309.79" width="14.00" height="14.61" fill="#e8202a" stroke="#333" stroke-width="0.9" />
<line x1="260.00" y1="305.14" x2="260.00" y2="313.78" stroke="#444" stroke-width="1"/>
<line x1="256.50" y1="305.14" x2="263.50" y2="305.14" stroke="#222" stroke-width="1"/>
<line x1="256.50" y1="313.78" x2="263.50" y2="313.78" stroke="#222" stroke-width="1"/>
<circle cx="254.00" cy="306.47" r="2.3" fill="#111"/>
<circle cx="266.00" cy="306.47" r="2.3" fill="#111"/>
<circle cx="260.00" cy="314.44" r="2.3" fill="#111"/>
<text x="0" y="0" font-size="11.3" text-anchor="end" fill="#161616" letter-spacing="0" transform="translate(264.80,337.70) rotate(-45)">Combo</text>
<line x1="190.70" y1="241.30" x2="213.80" y2="241.30" stroke="#555" stroke-width="1"/>
<text x="203.95" y="240.60" font-size="9.6" text-anchor="middle" fill="#1a1a1a" font-weight="bold" letter-spacing="1.1" style="stroke-width:0">**</text>
<line x1="190.70" y1="229.50" x2="236.90" y2="229.50" stroke="#555" stroke-width="1"/>
<text x="215.50" y="228.80" font-size="9.6" text-anchor="middle" fill="#1a1a1a" font-weight="bold" letter-spacing="1.1" style="stroke-width:0">*</text>
<line x1="190.70" y1="218.00" x2="260.00" y2="218.00" stroke="#555" stroke-width="1"/>
<text x="227.05" y="217.30" font-size="9.6" text-anchor="middle" fill="#1a1a1a" font-weight="bold" letter-spacing="1.1" style="stroke-width:0">***</text>
<line x1="213.80" y1="206.30" x2="260.00" y2="206.30" stroke="#555" stroke-width="1"/>
<text x="238.60" y="205.60" font-size="9.6" text-anchor="middle" fill="#1a1a1a" font-weight="bold" letter-spacing="1.1" style="stroke-width:0">*</text>
<line x1="287.50" y1="224.30" x2="287.50" y2="324.90" stroke="#555" stroke-width="1.2"/>
<line x1="283.50" y1="324.40" x2="287.50" y2="324.40" stroke="#555" stroke-width="1.1"/>
<line x1="283.50" y1="291.20" x2="287.50" y2="291.20" stroke="#555" stroke-width="1.1"/>
<line x1="283.50" y1="258.00" x2="287.50" y2="258.00" stroke="#555" stroke-width="1.1"/>
<line x1="283.50" y1="224.80" x2="287.50" y2="224.80" stroke="#555" stroke-width="1.1"/>
<line x1="283.50" y1="324.40" x2="387.30" y2="324.40" stroke="#555" stroke-width="1.2"/>
<line x1="302.80" y1="324.40" x2="302.80" y2="327.40" stroke="#555" stroke-width="1"/>
<rect x="295.80" y="258.66" width="14.00" height="65.74" fill="#fff" stroke="#9a9a9a" stroke-width="0.9" />
<line x1="302.80" y1="230.11" x2="302.80" y2="284.56" stroke="#444" stroke-width="1"/>
<line x1="299.30" y1="230.11" x2="306.30" y2="230.11" stroke="#222" stroke-width="1"/>
<line x1="299.30" y1="284.56" x2="306.30" y2="284.56" stroke="#222" stroke-width="1"/>
<circle cx="302.80" cy="234.76" r="2.3" fill="#111"/>
<circle cx="302.80" cy="250.70" r="2.3" fill="#111"/>
<circle cx="302.80" cy="288.54" r="2.3" fill="#111"/>
<text x="0" y="0" font-size="11.3" text-anchor="end" fill="#161616" letter-spacing="0" transform="translate(307.60,337.70) rotate(-45)">DMSO</text>
<line x1="325.90" y1="324.40" x2="325.90" y2="327.40" stroke="#555" stroke-width="1"/>
<rect x="318.90" y="295.18" width="14.00" height="29.22" fill="#29a3e0" stroke="#333" stroke-width="0.9" />
<line x1="325.90" y1="281.90" x2="325.90" y2="308.46" stroke="#444" stroke-width="1"/>
<line x1="322.40" y1="281.90" x2="329.40" y2="281.90" stroke="#222" stroke-width="1"/>
<line x1="322.40" y1="308.46" x2="329.40" y2="308.46" stroke="#222" stroke-width="1"/>
<circle cx="325.90" cy="283.90" r="2.3" fill="#111"/>
<circle cx="325.90" cy="293.86" r="2.3" fill="#111"/>
<circle cx="325.90" cy="309.13" r="2.3" fill="#111"/>
<text x="0" y="0" font-size="11.3" text-anchor="end" fill="#161616" letter-spacing="0.28" transform="translate(330.10,337.70) rotate(-45)">10 µmol/L Nut</text>
<line x1="349.00" y1="324.40" x2="349.00" y2="327.40" stroke="#555" stroke-width="1"/>
<rect x="342.00" y="291.86" width="14.00" height="32.54" fill="#8a8a8a" stroke="#333" stroke-width="0.9" />
<line x1="349.00" y1="283.23" x2="349.00" y2="299.17" stroke="#444" stroke-width="1"/>
<line x1="345.50" y1="283.23" x2="352.50" y2="283.23" stroke="#222" stroke-width="1"/>
<line x1="345.50" y1="299.17" x2="352.50" y2="299.17" stroke="#222" stroke-width="1"/>
<circle cx="349.00" cy="284.56" r="2.3" fill="#111"/>
<circle cx="349.00" cy="291.20" r="2.3" fill="#111"/>
<circle cx="349.00" cy="299.17" r="2.3" fill="#111"/>
<text x="0" y="0" font-size="11.3" text-anchor="end" fill="#161616" letter-spacing="0.28" transform="translate(352.40,337.70) rotate(-45)">25 nmol/L Ixaz</text>
<line x1="372.10" y1="324.40" x2="372.10" y2="327.40" stroke="#555" stroke-width="1"/>
<rect x="365.10" y="309.79" width="14.00" height="14.61" fill="#e8202a" stroke="#333" stroke-width="0.9" />
<line x1="372.10" y1="307.80" x2="372.10" y2="311.12" stroke="#444" stroke-width="1"/>
<line x1="368.60" y1="307.80" x2="375.60" y2="307.80" stroke="#222" stroke-width="1"/>
<line x1="368.60" y1="311.12" x2="375.60" y2="311.12" stroke="#222" stroke-width="1"/>
<circle cx="366.10" cy="309.79" r="2.3" fill="#111"/>
<circle cx="372.10" cy="307.80" r="2.3" fill="#111"/>
<circle cx="378.10" cy="309.79" r="2.3" fill="#111"/>
<text x="0" y="0" font-size="11.3" text-anchor="end" fill="#161616" letter-spacing="0" transform="translate(376.90,337.70) rotate(-45)">Combo</text>
<line x1="302.80" y1="236.80" x2="325.90" y2="236.80" stroke="#555" stroke-width="1"/>
<text x="315.65" y="234.30" font-size="6.6" text-anchor="middle" fill="#555" font-weight="normal" style="stroke-width:0">ns</text>
<line x1="302.80" y1="225.50" x2="349.00" y2="225.50" stroke="#555" stroke-width="1"/>
<text x="327.20" y="223.00" font-size="6.6" text-anchor="middle" fill="#555" font-weight="normal" style="stroke-width:0">ns</text>
<line x1="302.80" y1="214.30" x2="372.10" y2="214.30" stroke="#555" stroke-width="1"/>
<text x="339.15" y="213.60" font-size="9.6" text-anchor="middle" fill="#1a1a1a" font-weight="bold" letter-spacing="1.1" style="stroke-width:0">*</text>
<line x1="325.90" y1="202.50" x2="372.10" y2="202.50" stroke="#555" stroke-width="1"/>
<text x="350.30" y="200.00" font-size="6.6" text-anchor="middle" fill="#555" font-weight="normal" style="stroke-width:0">ns</text>
<line x1="398.50" y1="224.30" x2="398.50" y2="324.90" stroke="#555" stroke-width="1.2"/>
<line x1="394.50" y1="324.40" x2="398.50" y2="324.40" stroke="#555" stroke-width="1.1"/>
<line x1="394.50" y1="291.20" x2="398.50" y2="291.20" stroke="#555" stroke-width="1.1"/>
<line x1="394.50" y1="258.00" x2="398.50" y2="258.00" stroke="#555" stroke-width="1.1"/>
<line x1="394.50" y1="224.80" x2="398.50" y2="224.80" stroke="#555" stroke-width="1.1"/>
<line x1="394.50" y1="324.40" x2="498.30" y2="324.40" stroke="#555" stroke-width="1.2"/>
<line x1="413.80" y1="324.40" x2="413.80" y2="327.40" stroke="#555" stroke-width="1"/>
<rect x="406.80" y="258.66" width="14.00" height="65.74" fill="#fff" stroke="#9a9a9a" stroke-width="0.9" />
<line x1="413.80" y1="244.72" x2="413.80" y2="274.60" stroke="#444" stroke-width="1"/>
<line x1="410.30" y1="244.72" x2="417.30" y2="244.72" stroke="#222" stroke-width="1"/>
<line x1="410.30" y1="274.60" x2="417.30" y2="274.60" stroke="#222" stroke-width="1"/>
<circle cx="413.80" cy="245.38" r="2.3" fill="#111"/>
<circle cx="413.80" cy="257.34" r="2.3" fill="#111"/>
<circle cx="413.80" cy="274.60" r="2.3" fill="#111"/>
<text x="0" y="0" font-size="11.3" text-anchor="end" fill="#161616" letter-spacing="0" transform="translate(418.60,337.70) rotate(-45)">DMSO</text>
<line x1="436.90" y1="324.40" x2="436.90" y2="327.40" stroke="#555" stroke-width="1"/>
<rect x="429.90" y="293.19" width="14.00" height="31.21" fill="#29a3e0" stroke="#333" stroke-width="0.9" />
<line x1="436.90" y1="284.56" x2="436.90" y2="298.50" stroke="#444" stroke-width="1"/>
<line x1="433.40" y1="284.56" x2="440.40" y2="284.56" stroke="#222" stroke-width="1"/>
<line x1="433.40" y1="298.50" x2="440.40" y2="298.50" stroke="#222" stroke-width="1"/>
<circle cx="436.90" cy="284.56" r="2.3" fill="#111"/>
<circle cx="430.90" cy="296.51" r="2.3" fill="#111"/>
<circle cx="442.90" cy="296.51" r="2.3" fill="#111"/>
<text x="0" y="0" font-size="11.3" text-anchor="end" fill="#161616" letter-spacing="0.28" transform="translate(441.10,337.70) rotate(-45)">10 µmol/L Nut</text>
<line x1="460.00" y1="324.40" x2="460.00" y2="327.40" stroke="#555" stroke-width="1"/>
<rect x="453.00" y="277.26" width="14.00" height="47.14" fill="#555555" stroke="#333" stroke-width="0.9" />
<line x1="460.00" y1="267.30" x2="460.00" y2="283.90" stroke="#444" stroke-width="1"/>
<line x1="456.50" y1="267.30" x2="463.50" y2="267.30" stroke="#222" stroke-width="1"/>
<line x1="456.50" y1="283.90" x2="463.50" y2="283.90" stroke="#222" stroke-width="1"/>
<circle cx="460.00" cy="267.30" r="2.3" fill="#111"/>
<circle cx="460.00" cy="281.90" r="2.3" fill="#111"/>
<circle cx="460.00" cy="287.22" r="2.3" fill="#111"/>
<text x="0" y="0" font-size="11.3" text-anchor="end" fill="#161616" letter-spacing="0.28" transform="translate(463.40,337.70) rotate(-45)">12.5 nmol/L Carf</text>
<line x1="483.10" y1="324.40" x2="483.10" y2="327.40" stroke="#555" stroke-width="1"/>
<rect x="476.10" y="319.09" width="14.00" height="5.31" fill="#e8202a" stroke="#333" stroke-width="0.9" />
<line x1="483.10" y1="317.76" x2="483.10" y2="320.42" stroke="#444" stroke-width="1"/>
<line x1="479.60" y1="317.76" x2="486.60" y2="317.76" stroke="#222" stroke-width="1"/>
<line x1="479.60" y1="320.42" x2="486.60" y2="320.42" stroke="#222" stroke-width="1"/>
<circle cx="477.10" cy="319.09" r="2.3" fill="#111"/>
<circle cx="483.10" cy="317.10" r="2.3" fill="#111"/>
<circle cx="489.10" cy="318.42" r="2.3" fill="#111"/>
<text x="0" y="0" font-size="11.3" text-anchor="end" fill="#161616" letter-spacing="0" transform="translate(487.90,337.70) rotate(-45)">Combo</text>
<line x1="413.80" y1="233.80" x2="436.90" y2="233.80" stroke="#555" stroke-width="1"/>
<text x="427.05" y="233.10" font-size="9.6" text-anchor="middle" fill="#1a1a1a" font-weight="bold" letter-spacing="1.1" style="stroke-width:0">*</text>
<line x1="413.80" y1="222.50" x2="460.00" y2="222.50" stroke="#555" stroke-width="1"/>
<text x="438.20" y="220.00" font-size="6.6" text-anchor="middle" fill="#555" font-weight="normal" style="stroke-width:0">ns</text>
<line x1="413.80" y1="211.80" x2="483.10" y2="211.80" stroke="#555" stroke-width="1"/>
<text x="450.15" y="211.10" font-size="9.6" text-anchor="middle" fill="#1a1a1a" font-weight="bold" letter-spacing="1.1" style="stroke-width:0">**</text>
<line x1="436.90" y1="200.50" x2="483.10" y2="200.50" stroke="#555" stroke-width="1"/>
<text x="461.70" y="199.80" font-size="9.6" text-anchor="middle" fill="#1a1a1a" font-weight="bold" letter-spacing="1.1" style="stroke-width:0">**</text>
<text x="0" y="0" font-size="11.4" text-anchor="middle" fill="#161616" transform="translate(35.1,277.2) rotate(-90)">% SRB signal</text>
<text x="8.60" y="439.20" font-size="16.6" text-anchor="start" fill="#111" font-weight="bold" >C</text>
<line x1="73.20" y1="463.50" x2="73.20" y2="572.50" stroke="#555" stroke-width="1.2"/>
<line x1="70.20" y1="572.00" x2="73.20" y2="572.00" stroke="#555" stroke-width="1.2"/>
<text x="64.90" y="576.00" font-size="11.3" text-anchor="end" fill="#161616" font-weight="normal" >0</text>
<line x1="70.20" y1="550.40" x2="73.20" y2="550.40" stroke="#555" stroke-width="1.2"/>
<text x="64.90" y="554.40" font-size="11.3" text-anchor="end" fill="#161616" font-weight="normal" >20</text>
<line x1="70.20" y1="528.80" x2="73.20" y2="528.80" stroke="#555" stroke-width="1.2"/>
<text x="64.90" y="532.80" font-size="11.3" text-anchor="end" fill="#161616" font-weight="normal" >40</text>
<line x1="70.20" y1="507.20" x2="73.20" y2="507.20" stroke="#555" stroke-width="1.2"/>
<text x="64.90" y="511.20" font-size="11.3" text-anchor="end" fill="#161616" font-weight="normal" >60</text>
<line x1="70.20" y1="485.60" x2="73.20" y2="485.60" stroke="#555" stroke-width="1.2"/>
<text x="64.90" y="489.60" font-size="11.3" text-anchor="end" fill="#161616" font-weight="normal" >80</text>
<line x1="70.20" y1="464.00" x2="73.20" y2="464.00" stroke="#555" stroke-width="1.2"/>
<text x="64.90" y="468.00" font-size="11.3" text-anchor="end" fill="#161616" font-weight="normal" >100</text>
<line x1="73.20" y1="572.00" x2="232.00" y2="572.00" stroke="#555" stroke-width="1.2"/>
<line x1="86.20" y1="572.00" x2="86.20" y2="575.00" stroke="#555" stroke-width="1"/>
<circle cx="81.90" cy="570.92" r="2.2" fill="#111"/>
<circle cx="86.20" cy="570.92" r="2.2" fill="#111"/>
<circle cx="90.50" cy="570.92" r="2.2" fill="#111"/>
<text x="0" y="0" font-size="11.6" text-anchor="end" fill="#161616" transform="translate(90.10,579.40) rotate(-90)">DMSO</text>
<line x1="105.65" y1="572.00" x2="105.65" y2="575.00" stroke="#555" stroke-width="1"/>
<rect x="99.75" y="549.86" width="11.80" height="22.14" fill="#29a3e0" stroke="#333" stroke-width="0.8" />
<line x1="105.65" y1="548.24" x2="105.65" y2="551.48" stroke="#222" stroke-width="1"/>
<line x1="102.65" y1="548.24" x2="108.65" y2="548.24" stroke="#222" stroke-width="1"/>
<line x1="102.65" y1="551.48" x2="108.65" y2="551.48" stroke="#222" stroke-width="1"/>
<circle cx="101.35" cy="550.40" r="2.2" fill="#111"/>
<circle cx="105.65" cy="546.08" r="2.2" fill="#111"/>
<circle cx="109.65" cy="548.24" r="2.2" fill="#111"/>
<text x="0" y="0" font-size="11.6" text-anchor="end" fill="#161616" transform="translate(109.55,579.40) rotate(-90)">10 µmol/L Nut</text>
<line x1="125.10" y1="572.00" x2="125.10" y2="575.00" stroke="#555" stroke-width="1"/>
<circle cx="120.80" cy="570.92" r="2.2" fill="#111"/>
<circle cx="125.10" cy="570.92" r="2.2" fill="#111"/>
<circle cx="129.40" cy="570.92" r="2.2" fill="#111"/>
<text x="0" y="0" font-size="11.6" text-anchor="end" fill="#161616" transform="translate(129.00,579.40) rotate(-90)">12.5 nmol/L</text>
<line x1="144.55" y1="572.00" x2="144.55" y2="575.00" stroke="#555" stroke-width="1"/>
<rect x="138.65" y="569.30" width="11.80" height="2.70" fill="#555" stroke="#333" stroke-width="0.8" />
<line x1="144.55" y1="566.60" x2="144.55" y2="570.92" stroke="#222" stroke-width="1"/>
<line x1="141.55" y1="566.60" x2="147.55" y2="566.60" stroke="#222" stroke-width="1"/>
<line x1="141.55" y1="570.92" x2="147.55" y2="570.92" stroke="#222" stroke-width="1"/>
<circle cx="140.25" cy="569.84" r="2.2" fill="#111"/>
<circle cx="144.55" cy="566.60" r="2.2" fill="#111"/>
<circle cx="148.85" cy="569.84" r="2.2" fill="#111"/>
<text x="0" y="0" font-size="11.6" text-anchor="end" fill="#161616" transform="translate(148.45,579.40) rotate(-90)">25 nmol/L</text>
<line x1="164.00" y1="572.00" x2="164.00" y2="575.00" stroke="#555" stroke-width="1"/>
<rect x="158.10" y="533.66" width="11.80" height="38.34" fill="#555" stroke="#333" stroke-width="0.8" />
<line x1="164.00" y1="520.16" x2="164.00" y2="547.16" stroke="#222" stroke-width="1"/>
<line x1="161.00" y1="520.16" x2="167.00" y2="520.16" stroke="#222" stroke-width="1"/>
<line x1="161.00" y1="547.16" x2="167.00" y2="547.16" stroke="#222" stroke-width="1"/>
<circle cx="164.00" cy="520.48" r="2.2" fill="#111"/>
<circle cx="164.00" cy="530.64" r="2.2" fill="#111"/>
<circle cx="164.00" cy="545.00" r="2.2" fill="#111"/>
<text x="0" y="0" font-size="11.6" text-anchor="end" fill="#161616" transform="translate(167.90,579.40) rotate(-90)">50 nmol/L</text>
<line x1="183.45" y1="572.00" x2="183.45" y2="575.00" stroke="#555" stroke-width="1"/>
<rect x="177.55" y="499.96" width="11.80" height="72.04" fill="#e8202a" stroke="#333" stroke-width="0.8" />
<line x1="183.45" y1="489.92" x2="183.45" y2="509.36" stroke="#222" stroke-width="1"/>
<line x1="180.45" y1="489.92" x2="186.45" y2="489.92" stroke="#222" stroke-width="1"/>
<line x1="180.45" y1="509.36" x2="186.45" y2="509.36" stroke="#222" stroke-width="1"/>
<circle cx="183.45" cy="490.68" r="2.2" fill="#111"/>
<circle cx="183.45" cy="499.21" r="2.2" fill="#111"/>
<circle cx="183.45" cy="507.42" r="2.2" fill="#111"/>
<text x="0" y="0" font-size="11.6" text-anchor="end" fill="#161616" transform="translate(187.35,579.40) rotate(-90)">12.5 nmol/L</text>
<line x1="202.90" y1="572.00" x2="202.90" y2="575.00" stroke="#555" stroke-width="1"/>
<rect x="197.00" y="483.44" width="11.80" height="88.56" fill="#e8202a" stroke="#333" stroke-width="0.8" />
<line x1="202.90" y1="480.20" x2="202.90" y2="485.60" stroke="#222" stroke-width="1"/>
<line x1="199.90" y1="480.20" x2="205.90" y2="480.20" stroke="#222" stroke-width="1"/>
<line x1="199.90" y1="485.60" x2="205.90" y2="485.60" stroke="#222" stroke-width="1"/>
<circle cx="198.70" cy="479.98" r="2.2" fill="#111"/>
<circle cx="207.40" cy="480.96" r="2.2" fill="#111"/>
<circle cx="202.90" cy="485.82" r="2.2" fill="#111"/>
<text x="0" y="0" font-size="11.6" text-anchor="end" fill="#161616" transform="translate(206.80,579.40) rotate(-90)">25 nmol/L</text>
<line x1="222.35" y1="572.00" x2="222.35" y2="575.00" stroke="#555" stroke-width="1"/>
<rect x="216.45" y="471.13" width="11.80" height="100.87" fill="#e8202a" stroke="#333" stroke-width="0.8" />
<line x1="222.35" y1="469.40" x2="222.35" y2="472.64" stroke="#222" stroke-width="1"/>
<line x1="219.35" y1="469.40" x2="225.35" y2="469.40" stroke="#222" stroke-width="1"/>
<line x1="219.35" y1="472.64" x2="225.35" y2="472.64" stroke="#222" stroke-width="1"/>
<circle cx="217.65" cy="471.34" r="2.2" fill="#111"/>
<circle cx="222.05" cy="467.46" r="2.2" fill="#111"/>
<circle cx="226.95" cy="470.05" r="2.2" fill="#111"/>
<text x="0" y="0" font-size="11.6" text-anchor="end" fill="#161616" transform="translate(226.25,579.40) rotate(-90)">50 nmol/L</text>
<line x1="122.50" y1="645.50" x2="164.50" y2="645.50" stroke="#888" stroke-width="1"/>
<line x1="180.00" y1="645.50" x2="221.80" y2="645.50" stroke="#888" stroke-width="1"/>
<text x="142.50" y="660.80" font-size="11.3" text-anchor="middle" fill="#161616" font-weight="normal" >Carf</text>
<text x="201.30" y="660.80" font-size="11.3" text-anchor="middle" fill="#161616" font-weight="normal" >10 µmol/L Nut</text>
<text x="201.30" y="674.50" font-size="11.3" text-anchor="middle" fill="#161616" font-weight="normal" >Combo</text>
<line x1="105.50" y1="425.50" x2="223.15" y2="425.50" stroke="#888" stroke-width="1.1"/>
<text x="164.43" y="424.10" font-size="9.6" text-anchor="middle" fill="#1a1a1a" font-weight="bold" letter-spacing="0.8" style="stroke-width:0">****</text>
<line x1="105.50" y1="436.80" x2="203.70" y2="436.80" stroke="#444" stroke-width="1.1"/>
<text x="154.70" y="435.40" font-size="9.6" text-anchor="middle" fill="#1a1a1a" font-weight="bold" letter-spacing="0.8" style="stroke-width:0">****</text>
<line x1="105.50" y1="448.00" x2="184.25" y2="448.00" stroke="#444" stroke-width="1.1"/>
<text x="144.97" y="446.60" font-size="9.6" text-anchor="middle" fill="#1a1a1a" font-weight="bold" letter-spacing="0.8" style="stroke-width:0">****</text>
<line x1="164.00" y1="459.30" x2="223.15" y2="459.30" stroke="#888" stroke-width="1.1"/>
<text x="193.68" y="457.90" font-size="9.6" text-anchor="middle" fill="#1a1a1a" font-weight="bold" letter-spacing="0.8" style="stroke-width:0">****</text>
<line x1="144.55" y1="470.50" x2="203.70" y2="470.50" stroke="#888" stroke-width="1.1"/>
<text x="174.22" y="469.10" font-size="9.6" text-anchor="middle" fill="#1a1a1a" font-weight="bold" letter-spacing="0.8" style="stroke-width:0">****</text>
<line x1="125.10" y1="481.80" x2="184.25" y2="481.80" stroke="#888" stroke-width="1.1"/>
<text x="154.77" y="480.40" font-size="9.6" text-anchor="middle" fill="#1a1a1a" font-weight="bold" letter-spacing="0.8" style="stroke-width:0">****</text>
<text x="0" y="0" font-size="11.5" text-anchor="middle" fill="#161616" transform="translate(40.8,518.9) rotate(-90)">% Annexin V+</text>
<text x="267.80" y="439.40" font-size="16.6" text-anchor="start" fill="#111" font-weight="bold" >D</text>
<text x="357.50" y="448.50" font-size="11.6" text-anchor="middle" fill="#161616" font-weight="normal" >10 µmol/L</text>
<text x="358.30" y="462.60" font-size="11.6" text-anchor="middle" fill="#161616" font-weight="normal" >Nut</text>
<text x="416.80" y="448.50" font-size="11.6" text-anchor="middle" fill="#161616" font-weight="normal" >12.5 nmol/L</text>
<text x="415.80" y="462.60" font-size="11.6" text-anchor="middle" fill="#161616" font-weight="normal" >Carf</text>
<text x="473.20" y="462.60" font-size="11.6" text-anchor="middle" fill="#161616" font-weight="normal" >Combo</text>
<line x1="331.30" y1="471.20" x2="385.00" y2="471.20" stroke="#999" stroke-width="1"/>
<line x1="388.80" y1="471.20" x2="442.50" y2="471.20" stroke="#999" stroke-width="1"/>
<line x1="446.30" y1="471.20" x2="500.00" y2="471.20" stroke="#999" stroke-width="1"/>
<text x="298.30" y="488.20" font-size="11.3" text-anchor="end" fill="#161616" font-weight="normal" >hr.</text>
<text x="317.50" y="488.20" font-size="11.5" text-anchor="middle" fill="#161616" font-weight="normal" letter-spacing="-0.3">0</text>
<text x="333.90" y="488.20" font-size="11.5" text-anchor="middle" fill="#161616" font-weight="normal" letter-spacing="-0.3">4</text>
<text x="346.90" y="488.20" font-size="11.5" text-anchor="middle" fill="#161616" font-weight="normal" letter-spacing="-0.3">16</text>
<text x="362.20" y="488.20" font-size="11.5" text-anchor="middle" fill="#161616" font-weight="normal" letter-spacing="-0.3">24</text>
<text x="377.80" y="488.20" font-size="11.5" text-anchor="middle" fill="#161616" font-weight="normal" letter-spacing="-0.3">48</text>
<text x="391.30" y="488.20" font-size="11.5" text-anchor="middle" fill="#161616" font-weight="normal" letter-spacing="-0.3">4</text>
<text x="404.60" y="488.20" font-size="11.5" text-anchor="middle" fill="#161616" font-weight="normal" letter-spacing="-0.3">16</text>
<text x="419.70" y="488.20" font-size="11.5" text-anchor="middle" fill="#161616" font-weight="normal" letter-spacing="-0.3">24</text>
<text x="434.60" y="488.20" font-size="11.5" text-anchor="middle" fill="#161616" font-weight="normal" letter-spacing="-0.3">48</text>
<text x="449.50" y="488.20" font-size="11.5" text-anchor="middle" fill="#161616" font-weight="normal" letter-spacing="-0.3">4</text>
<text x="462.60" y="488.20" font-size="11.5" text-anchor="middle" fill="#161616" font-weight="normal" letter-spacing="-0.3">16</text>
<text x="477.60" y="488.20" font-size="11.5" text-anchor="middle" fill="#161616" font-weight="normal" letter-spacing="-0.3">24</text>
<text x="493.60" y="488.20" font-size="11.5" text-anchor="middle" fill="#161616" font-weight="normal" letter-spacing="-0.3">48</text>
<rect x="304.50" y="495.00" width="199.80" height="22.50" fill="#e3e3e3" stroke="none" stroke-width="1" />
<g clip-path="url(#bc1)">
<rect x="304.50" y="495.00" width="199.80" height="22.50" fill="url(#vig)" stroke="none" stroke-width="1" />
<rect x="312.75" y="495.0" width="12.0" height="22.5" fill="#000" opacity="0.02" filter="url(#bA)"/>
<rect x="327.33" y="495.0" width="12.0" height="22.5" fill="#000" opacity="0.02" filter="url(#bA)"/>
<rect x="341.92" y="495.0" width="12.0" height="22.5" fill="#000" opacity="0.02" filter="url(#bA)"/>
<rect x="356.50" y="495.0" width="12.0" height="22.5" fill="#000" opacity="0.02" filter="url(#bA)"/>
<rect x="371.08" y="495.0" width="12.0" height="22.5" fill="#000" opacity="0.02" filter="url(#bA)"/>
<rect x="385.67" y="495.0" width="12.0" height="22.5" fill="#000" opacity="0.02" filter="url(#bA)"/>
<rect x="400.25" y="495.0" width="12.0" height="22.5" fill="#000" opacity="0.02" filter="url(#bA)"/>
<rect x="414.83" y="495.0" width="12.0" height="22.5" fill="#000" opacity="0.02" filter="url(#bA)"/>
<rect x="429.41" y="495.0" width="12.0" height="22.5" fill="#000" opacity="0.02" filter="url(#bA)"/>
<rect x="444.00" y="495.0" width="12.0" height="22.5" fill="#000" opacity="0.02" filter="url(#bA)"/>
<rect x="458.58" y="495.0" width="12.0" height="22.5" fill="#000" opacity="0.02" filter="url(#bA)"/>
<rect x="473.16" y="495.0" width="12.0" height="22.5" fill="#000" opacity="0.02" filter="url(#bA)"/>
<rect x="487.75" y="495.0" width="12.0" height="22.5" fill="#000" opacity="0.02" filter="url(#bA)"/>
<rect x="312.75" y="506.10" width="12.00" height="3.40" rx="1.60" fill="#111" opacity="0.14" filter="url(#bB)"/>
<rect x="327.33" y="506.10" width="12.00" height="3.40" rx="1.60" fill="#111" opacity="0.36" filter="url(#bB)"/>
<rect x="341.92" y="506.10" width="12.00" height="3.40" rx="1.60" fill="#111" opacity="0.50" filter="url(#bB)"/>
<rect x="356.50" y="506.10" width="12.00" height="3.40" rx="1.60" fill="#111" opacity="0.45" filter="url(#bB)"/>
<rect x="371.08" y="506.10" width="12.00" height="3.40" rx="1.60" fill="#111" opacity="0.77" filter="url(#bB)"/>
<rect x="385.67" y="506.10" width="12.00" height="3.40" rx="1.60" fill="#111" opacity="0.14" filter="url(#bB)"/>
<rect x="400.25" y="506.10" width="12.00" height="3.40" rx="1.60" fill="#111" opacity="0.32" filter="url(#bB)"/>
<rect x="414.83" y="506.10" width="12.00" height="3.40" rx="1.60" fill="#111" opacity="0.32" filter="url(#bB)"/>
<rect x="429.41" y="506.10" width="12.00" height="3.40" rx="1.60" fill="#111" opacity="0.27" filter="url(#bB)"/>
<rect x="444.00" y="506.10" width="12.00" height="3.40" rx="1.60" fill="#111" opacity="0.50" filter="url(#bB)"/>
<rect x="458.58" y="506.10" width="12.00" height="3.40" rx="1.60" fill="#111" opacity="0.77" filter="url(#bB)"/>
<rect x="473.16" y="506.10" width="12.00" height="3.40" rx="1.60" fill="#111" opacity="0.50" filter="url(#bB)"/>
<rect x="487.75" y="506.10" width="12.00" height="3.40" rx="1.60" fill="#111" opacity="0.68" filter="url(#bB)"/>
<rect x="327.83" y="499.40" width="11.00" height="2.20" rx="1.10" fill="#111" opacity="0.14" filter="url(#bB)"/>
<rect x="342.42" y="499.40" width="11.00" height="2.20" rx="1.10" fill="#111" opacity="0.14" filter="url(#bB)"/>
<rect x="357.00" y="499.40" width="11.00" height="2.20" rx="1.10" fill="#111" opacity="0.14" filter="url(#bB)"/>
<rect x="371.58" y="499.40" width="11.00" height="2.20" rx="1.10" fill="#111" opacity="0.14" filter="url(#bB)"/>
<rect x="444.50" y="499.40" width="11.00" height="2.20" rx="1.10" fill="#111" opacity="0.14" filter="url(#bB)"/>
<rect x="459.08" y="499.40" width="11.00" height="2.20" rx="1.10" fill="#111" opacity="0.14" filter="url(#bB)"/>
<rect x="473.66" y="499.40" width="11.00" height="2.20" rx="1.10" fill="#111" opacity="0.14" filter="url(#bB)"/>
<rect x="342.42" y="497.50" width="11.00" height="2.00" rx="1.00" fill="#111" opacity="0.10" filter="url(#bB)"/>
<rect x="459.08" y="497.50" width="11.00" height="2.00" rx="1.00" fill="#111" opacity="0.10" filter="url(#bB)"/>
</g>
<rect x="304.50" y="495.00" width="199.80" height="22.50" fill="none" stroke="#6a6a6a" stroke-width="1.3" />
<text x="298.60" y="512.60" font-size="11.0" text-anchor="end" fill="#161616" font-weight="normal" >p53</text>
<rect x="304.50" y="520.50" width="199.80" height="22.00" fill="#e7e7e7" stroke="none" stroke-width="1" />
<g clip-path="url(#bc2)">
<rect x="304.50" y="520.50" width="199.80" height="22.00" fill="url(#vig)" stroke="none" stroke-width="1" />
<rect x="327.83" y="530.20" width="11.00" height="7.00" rx="1.60" fill="#111" opacity="0.68" filter="url(#bC)"/>
<rect x="342.42" y="530.20" width="11.00" height="7.00" rx="1.60" fill="#111" opacity="0.72" filter="url(#bC)"/>
<rect x="357.00" y="530.20" width="11.00" height="7.00" rx="1.60" fill="#111" opacity="0.47" filter="url(#bC)"/>
<rect x="371.58" y="530.20" width="11.00" height="7.00" rx="1.60" fill="#111" opacity="0.19" filter="url(#bC)"/>
<rect x="444.50" y="530.20" width="11.00" height="7.00" rx="1.60" fill="#111" opacity="0.68" filter="url(#bC)"/>
<rect x="459.08" y="530.20" width="11.00" height="7.00" rx="1.60" fill="#111" opacity="0.36" filter="url(#bC)"/>
<rect x="473.66" y="530.20" width="11.00" height="7.00" rx="1.60" fill="#111" opacity="0.27" filter="url(#bC)"/>
<rect x="488.25" y="530.20" width="11.00" height="7.00" rx="1.60" fill="#111" opacity="0.26" filter="url(#bC)"/>
<rect x="328.33" y="523.50" width="10.00" height="6.00" rx="1.60" fill="#111" opacity="0.20" filter="url(#bD)"/>
<rect x="342.92" y="523.50" width="10.00" height="6.00" rx="1.60" fill="#111" opacity="0.21" filter="url(#bD)"/>
<rect x="357.50" y="523.50" width="10.00" height="6.00" rx="1.60" fill="#111" opacity="0.14" filter="url(#bD)"/>
<rect x="372.08" y="523.50" width="10.00" height="6.00" rx="1.60" fill="#111" opacity="0.06" filter="url(#bD)"/>
<rect x="445.00" y="523.50" width="10.00" height="6.00" rx="1.60" fill="#111" opacity="0.20" filter="url(#bD)"/>
<rect x="459.58" y="523.50" width="10.00" height="6.00" rx="1.60" fill="#111" opacity="0.10" filter="url(#bD)"/>
<rect x="474.16" y="523.50" width="10.00" height="6.00" rx="1.60" fill="#111" opacity="0.08" filter="url(#bD)"/>
<rect x="488.75" y="523.50" width="10.00" height="6.00" rx="1.60" fill="#111" opacity="0.07" filter="url(#bD)"/>
</g>
<rect x="304.50" y="520.50" width="199.80" height="22.00" fill="none" stroke="#6a6a6a" stroke-width="1.3" />
<text x="298.60" y="537.30" font-size="11.0" text-anchor="end" fill="#161616" font-weight="normal" >MDM2</text>
<rect x="304.50" y="545.50" width="199.80" height="20.80" fill="#e5e5e5" stroke="none" stroke-width="1" />
<g clip-path="url(#bc3)">
<rect x="304.50" y="545.50" width="199.80" height="20.80" fill="url(#vig)" stroke="none" stroke-width="1" />
<rect x="327.08" y="554.00" width="12.50" height="2.00" rx="1.00" fill="#111" opacity="0.18" filter="url(#bA)"/>
<rect x="341.67" y="554.00" width="12.50" height="2.00" rx="1.00" fill="#111" opacity="0.95" filter="url(#bA)"/>
<rect x="356.25" y="554.00" width="12.50" height="2.00" rx="1.00" fill="#111" opacity="0.80" filter="url(#bA)"/>
<rect x="370.83" y="554.00" width="12.50" height="2.00" rx="1.00" fill="#111" opacity="0.78" filter="url(#bA)"/>
<rect x="414.58" y="554.00" width="12.50" height="2.00" rx="1.00" fill="#111" opacity="0.05" filter="url(#bA)"/>
<rect x="429.16" y="554.00" width="12.50" height="2.00" rx="1.00" fill="#111" opacity="0.06" filter="url(#bA)"/>
<rect x="443.75" y="554.00" width="12.50" height="2.00" rx="1.00" fill="#111" opacity="0.25" filter="url(#bA)"/>
<rect x="458.33" y="554.00" width="12.50" height="2.00" rx="1.00" fill="#111" opacity="0.75" filter="url(#bA)"/>
<rect x="472.91" y="554.00" width="12.50" height="2.00" rx="1.00" fill="#111" opacity="0.75" filter="url(#bA)"/>
<rect x="487.50" y="554.00" width="12.50" height="2.00" rx="1.00" fill="#111" opacity="1.00" filter="url(#bA)"/>
</g>
<rect x="304.50" y="545.50" width="199.80" height="20.80" fill="none" stroke="#6a6a6a" stroke-width="1.3" />
<text x="298.60" y="561.60" font-size="11.0" text-anchor="end" fill="#161616" font-weight="normal" >p21</text>
<rect x="304.50" y="569.50" width="199.80" height="21.80" fill="#d8d8d8" stroke="none" stroke-width="1" />
<g clip-path="url(#bc4)">
<rect x="304.50" y="569.50" width="199.80" height="21.80" fill="url(#vig)" stroke="none" stroke-width="1" />
<rect x="312.75" y="569.5" width="12.0" height="21.799999999999955" fill="#000" opacity="0.05" filter="url(#bA)"/>
<rect x="327.33" y="569.5" width="12.0" height="21.799999999999955" fill="#000" opacity="0.05" filter="url(#bA)"/>
<rect x="341.92" y="569.5" width="12.0" height="21.799999999999955" fill="#000" opacity="0.05" filter="url(#bA)"/>
<rect x="356.50" y="569.5" width="12.0" height="21.799999999999955" fill="#000" opacity="0.05" filter="url(#bA)"/>
<rect x="371.08" y="569.5" width="12.0" height="21.799999999999955" fill="#000" opacity="0.05" filter="url(#bA)"/>
<rect x="385.67" y="569.5" width="12.0" height="21.799999999999955" fill="#000" opacity="0.05" filter="url(#bA)"/>
<rect x="400.25" y="569.5" width="12.0" height="21.799999999999955" fill="#000" opacity="0.05" filter="url(#bA)"/>
<rect x="414.83" y="569.5" width="12.0" height="21.799999999999955" fill="#000" opacity="0.05" filter="url(#bA)"/>
<rect x="429.41" y="569.5" width="12.0" height="21.799999999999955" fill="#000" opacity="0.05" filter="url(#bA)"/>
<rect x="444.00" y="569.5" width="12.0" height="21.799999999999955" fill="#000" opacity="0.05" filter="url(#bA)"/>
<rect x="458.58" y="569.5" width="12.0" height="21.799999999999955" fill="#000" opacity="0.05" filter="url(#bA)"/>
<rect x="473.16" y="569.5" width="12.0" height="21.799999999999955" fill="#000" opacity="0.05" filter="url(#bA)"/>
<rect x="487.75" y="569.5" width="12.0" height="21.799999999999955" fill="#000" opacity="0.05" filter="url(#bA)"/>
<rect x="312.50" y="578.20" width="12.50" height="3.40" rx="1.60" fill="#111" opacity="0.21" filter="url(#bB)"/>
<rect x="327.08" y="578.20" width="12.50" height="3.40" rx="1.60" fill="#111" opacity="0.30" filter="url(#bB)"/>
<rect x="341.67" y="578.20" width="12.50" height="3.40" rx="1.60" fill="#111" opacity="0.77" filter="url(#bB)"/>
<rect x="356.25" y="578.20" width="12.50" height="3.40" rx="1.60" fill="#111" opacity="0.42" filter="url(#bB)"/>
<rect x="370.83" y="578.20" width="12.50" height="3.40" rx="1.60" fill="#111" opacity="0.81" filter="url(#bB)"/>
<rect x="385.42" y="578.20" width="12.50" height="3.40" rx="1.60" fill="#111" opacity="0.17" filter="url(#bB)"/>
<rect x="400.00" y="578.20" width="12.50" height="3.40" rx="1.60" fill="#111" opacity="0.30" filter="url(#bB)"/>
<rect x="414.58" y="578.20" width="12.50" height="3.40" rx="1.60" fill="#111" opacity="0.47" filter="url(#bB)"/>
<rect x="429.16" y="578.20" width="12.50" height="3.40" rx="1.60" fill="#111" opacity="0.51" filter="url(#bB)"/>
<rect x="443.75" y="578.20" width="12.50" height="3.40" rx="1.60" fill="#111" opacity="0.34" filter="url(#bB)"/>
<rect x="458.33" y="578.20" width="12.50" height="3.40" rx="1.60" fill="#111" opacity="0.42" filter="url(#bB)"/>
<rect x="472.91" y="578.20" width="12.50" height="3.40" rx="1.60" fill="#111" opacity="0.38" filter="url(#bB)"/>
<rect x="487.50" y="578.20" width="12.50" height="3.40" rx="1.60" fill="#111" opacity="0.68" filter="url(#bB)"/>
</g>
<rect x="304.50" y="569.50" width="199.80" height="21.80" fill="none" stroke="#6a6a6a" stroke-width="1.3" />
<text x="298.60" y="586.10" font-size="11.0" text-anchor="end" fill="#161616" font-weight="normal" >PUMA</text>
<rect x="304.50" y="594.30" width="199.80" height="22.00" fill="#e8e8e8" stroke="none" stroke-width="1" />
<g clip-path="url(#bc5)">
<rect x="304.50" y="594.30" width="199.80" height="22.00" fill="url(#vig)" stroke="none" stroke-width="1" />
<rect x="327.33" y="602.80" width="12.00" height="3.00" rx="1.50" fill="#111" opacity="0.18" filter="url(#bB)"/>
<rect x="371.08" y="602.30" width="12.00" height="3.00" rx="1.50" fill="#111" opacity="0.06" filter="url(#bB)"/>
<rect x="400.25" y="602.80" width="12.00" height="3.00" rx="1.50" fill="#111" opacity="0.05" filter="url(#bB)"/>
<rect x="429.41" y="602.80" width="12.00" height="3.00" rx="1.50" fill="#111" opacity="0.06" filter="url(#bB)"/>
<rect x="443.50" y="604.30" width="13.00" height="3.00" rx="1.50" fill="#111" opacity="0.60" filter="url(#bB)"/>
<rect x="457.83" y="603.35" width="13.50" height="3.50" rx="1.60" fill="#111" opacity="0.98" filter="url(#bB)"/>
<rect x="472.66" y="602.80" width="13.00" height="3.00" rx="1.50" fill="#111" opacity="0.70" filter="url(#bB)"/>
<rect x="488.75" y="602.30" width="10.00" height="3.00" rx="1.50" fill="#111" opacity="0.10" filter="url(#bB)"/>
<rect x="432.91" y="594.60" width="9.00" height="1.40" rx="0.70" fill="#111" opacity="0.60" filter="url(#bA)"/>
<rect x="444.00" y="594.40" width="12.00" height="1.40" rx="0.70" fill="#111" opacity="0.70" filter="url(#bA)"/>
<rect x="458.58" y="594.40" width="12.00" height="1.40" rx="0.70" fill="#111" opacity="0.60" filter="url(#bA)"/>
</g>
<rect x="304.50" y="594.30" width="199.80" height="22.00" fill="none" stroke="#6a6a6a" stroke-width="1.3" />
<text x="298.60" y="610.00" font-size="11.0" text-anchor="end" fill="#161616" font-weight="normal" >NOXA</text>
<rect x="304.50" y="619.30" width="199.80" height="22.00" fill="#cdcdcd" stroke="none" stroke-width="1" />
<g clip-path="url(#bc6)">
<rect x="304.50" y="619.30" width="199.80" height="22.00" fill="url(#vig)" stroke="none" stroke-width="1" />
<rect x="312.75" y="619.3" width="12.0" height="22.0" fill="#000" opacity="0.04" filter="url(#bA)"/>
<rect x="327.33" y="619.3" width="12.0" height="22.0" fill="#000" opacity="0.04" filter="url(#bA)"/>
<rect x="341.92" y="619.3" width="12.0" height="22.0" fill="#000" opacity="0.04" filter="url(#bA)"/>
<rect x="356.50" y="619.3" width="12.0" height="22.0" fill="#000" opacity="0.04" filter="url(#bA)"/>
<rect x="371.08" y="619.3" width="12.0" height="22.0" fill="#000" opacity="0.04" filter="url(#bA)"/>
<rect x="385.67" y="619.3" width="12.0" height="22.0" fill="#000" opacity="0.04" filter="url(#bA)"/>
<rect x="400.25" y="619.3" width="12.0" height="22.0" fill="#000" opacity="0.04" filter="url(#bA)"/>
<rect x="414.83" y="619.3" width="12.0" height="22.0" fill="#000" opacity="0.04" filter="url(#bA)"/>
<rect x="429.41" y="619.3" width="12.0" height="22.0" fill="#000" opacity="0.04" filter="url(#bA)"/>
<rect x="444.00" y="619.3" width="12.0" height="22.0" fill="#000" opacity="0.04" filter="url(#bA)"/>
<rect x="458.58" y="619.3" width="12.0" height="22.0" fill="#000" opacity="0.04" filter="url(#bA)"/>
<rect x="473.16" y="619.3" width="12.0" height="22.0" fill="#000" opacity="0.04" filter="url(#bA)"/>
<rect x="487.75" y="619.3" width="12.0" height="22.0" fill="#000" opacity="0.04" filter="url(#bA)"/>
<rect x="311.25" y="629.30" width="15.00" height="3.40" rx="1.60" fill="#111" opacity="0.80" filter="url(#bB)"/>
<rect x="325.83" y="629.30" width="15.00" height="3.40" rx="1.60" fill="#111" opacity="0.80" filter="url(#bB)"/>
<rect x="340.42" y="629.30" width="15.00" height="3.40" rx="1.60" fill="#111" opacity="0.80" filter="url(#bB)"/>
<rect x="355.00" y="629.30" width="15.00" height="3.40" rx="1.60" fill="#111" opacity="0.80" filter="url(#bB)"/>
<rect x="369.58" y="629.30" width="15.00" height="3.40" rx="1.60" fill="#111" opacity="0.80" filter="url(#bB)"/>
<rect x="384.17" y="629.30" width="15.00" height="3.40" rx="1.60" fill="#111" opacity="0.80" filter="url(#bB)"/>
<rect x="398.75" y="629.30" width="15.00" height="3.40" rx="1.60" fill="#111" opacity="0.80" filter="url(#bB)"/>
<rect x="413.33" y="629.30" width="15.00" height="3.40" rx="1.60" fill="#111" opacity="0.80" filter="url(#bB)"/>
<rect x="427.91" y="629.30" width="15.00" height="3.40" rx="1.60" fill="#111" opacity="0.80" filter="url(#bB)"/>
<rect x="442.50" y="629.30" width="15.00" height="3.40" rx="1.60" fill="#111" opacity="0.80" filter="url(#bB)"/>
<rect x="457.08" y="629.30" width="15.00" height="3.40" rx="1.60" fill="#111" opacity="0.80" filter="url(#bB)"/>
<rect x="471.66" y="629.30" width="15.00" height="3.40" rx="1.60" fill="#111" opacity="0.80" filter="url(#bB)"/>
<rect x="486.25" y="629.30" width="15.00" height="3.40" rx="1.60" fill="#111" opacity="0.80" filter="url(#bB)"/>
</g>
<rect x="304.50" y="619.30" width="199.80" height="22.00" fill="none" stroke="#6a6a6a" stroke-width="1.3" />
<text x="298.60" y="635.00" font-size="11.0" text-anchor="end" fill="#161616" font-weight="normal" >GAPDH</text>
<text x="8.60" y="697.20" font-size="16.6" text-anchor="start" fill="#111" font-weight="bold" >E</text>
<line x1="67.70" y1="705.00" x2="67.70" y2="841.20" stroke="#555" stroke-width="1.2"/>
<line x1="64.20" y1="840.70" x2="67.70" y2="840.70" stroke="#555" stroke-width="1.2"/>
<text x="58.00" y="844.70" font-size="11.3" text-anchor="end" fill="#161616" font-weight="normal" >0</text>
<line x1="64.20" y1="806.90" x2="67.70" y2="806.90" stroke="#555" stroke-width="1.2"/>
<text x="58.00" y="810.90" font-size="11.3" text-anchor="end" fill="#161616" font-weight="normal" >20</text>
<line x1="64.20" y1="773.10" x2="67.70" y2="773.10" stroke="#555" stroke-width="1.2"/>
<text x="58.00" y="777.10" font-size="11.3" text-anchor="end" fill="#161616" font-weight="normal" >40</text>
<line x1="64.20" y1="739.30" x2="67.70" y2="739.30" stroke="#555" stroke-width="1.2"/>
<text x="58.00" y="743.30" font-size="11.3" text-anchor="end" fill="#161616" font-weight="normal" >60</text>
<line x1="64.20" y1="705.50" x2="67.70" y2="705.50" stroke="#555" stroke-width="1.2"/>
<text x="58.00" y="709.50" font-size="11.3" text-anchor="end" fill="#161616" font-weight="normal" >80</text>
<line x1="67.70" y1="840.70" x2="248.50" y2="840.70" stroke="#555" stroke-width="1.2"/>
<line x1="77.50" y1="840.70" x2="77.50" y2="844.70" stroke="#555" stroke-width="1"/>
<rect x="73.40" y="835.63" width="8.20" height="5.07" fill="#222" stroke="#222" stroke-width="0.7" />
<line x1="77.50" y1="832.25" x2="77.50" y2="839.01" stroke="#111" stroke-width="1"/>
<line x1="75.00" y1="832.25" x2="80.00" y2="832.25" stroke="#111" stroke-width="1"/>
<circle cx="75.00" cy="833.10" r="1.9" fill="#111"/>
<circle cx="80.00" cy="833.10" r="1.9" fill="#111"/>
<circle cx="77.50" cy="836.48" r="1.9" fill="#111"/>
<text x="76.60" y="858.40" font-size="11.2" text-anchor="middle" fill="#161616" font-weight="normal" letter-spacing="-0.15">NT</text>
<line x1="92.30" y1="840.70" x2="92.30" y2="844.70" stroke="#555" stroke-width="1"/>
<rect x="88.20" y="816.03" width="8.20" height="24.67" fill="#222" stroke="#222" stroke-width="0.7" />
<line x1="92.30" y1="810.28" x2="92.30" y2="820.42" stroke="#111" stroke-width="1"/>
<line x1="89.80" y1="810.28" x2="94.80" y2="810.28" stroke="#111" stroke-width="1"/>
<circle cx="92.30" cy="811.97" r="1.9" fill="#111"/>
<circle cx="92.30" cy="817.04" r="1.9" fill="#111"/>
<circle cx="92.30" cy="818.73" r="1.9" fill="#111"/>
<text x="91.24" y="858.40" font-size="11.2" text-anchor="middle" fill="#161616" font-weight="normal" letter-spacing="-0.15">66</text>
<line x1="107.10" y1="840.70" x2="107.10" y2="844.70" stroke="#555" stroke-width="1"/>
<rect x="103.00" y="835.29" width="8.20" height="5.41" fill="#222" stroke="#222" stroke-width="0.7" />
<line x1="107.10" y1="832.25" x2="107.10" y2="837.32" stroke="#111" stroke-width="1"/>
<line x1="104.60" y1="832.25" x2="109.60" y2="832.25" stroke="#111" stroke-width="1"/>
<circle cx="104.10" cy="832.59" r="1.9" fill="#111"/>
<circle cx="107.10" cy="833.94" r="1.9" fill="#111"/>
<circle cx="110.10" cy="832.59" r="1.9" fill="#111"/>
<text x="105.88" y="858.40" font-size="11.2" text-anchor="middle" fill="#161616" font-weight="normal" letter-spacing="-0.15">67</text>
<line x1="121.90" y1="840.70" x2="121.90" y2="844.70" stroke="#555" stroke-width="1"/>
<rect x="117.80" y="769.72" width="8.20" height="70.98" fill="#29a3e0" stroke="#222" stroke-width="0.7" />
<line x1="121.90" y1="759.58" x2="121.90" y2="778.17" stroke="#111" stroke-width="1"/>
<line x1="119.40" y1="759.58" x2="124.40" y2="759.58" stroke="#111" stroke-width="1"/>
<circle cx="121.90" cy="761.27" r="1.9" fill="#111"/>
<circle cx="121.90" cy="766.34" r="1.9" fill="#111"/>
<circle cx="121.90" cy="779.86" r="1.9" fill="#111"/>
<text x="120.52" y="858.40" font-size="11.2" text-anchor="middle" fill="#161616" font-weight="normal" letter-spacing="-0.15">NT</text>
<line x1="136.70" y1="840.70" x2="136.70" y2="844.70" stroke="#555" stroke-width="1"/>
<rect x="132.60" y="807.75" width="8.20" height="32.96" fill="#29a3e0" stroke="#222" stroke-width="0.7" />
<line x1="136.70" y1="805.21" x2="136.70" y2="810.28" stroke="#111" stroke-width="1"/>
<line x1="134.20" y1="805.21" x2="139.20" y2="805.21" stroke="#111" stroke-width="1"/>
<circle cx="133.70" cy="806.06" r="1.9" fill="#111"/>
<circle cx="136.70" cy="808.59" r="1.9" fill="#111"/>
<circle cx="139.70" cy="806.06" r="1.9" fill="#111"/>
<text x="135.16" y="858.40" font-size="11.2" text-anchor="middle" fill="#161616" font-weight="normal" letter-spacing="-0.15">66</text>
<line x1="151.50" y1="840.70" x2="151.50" y2="844.70" stroke="#555" stroke-width="1"/>
<rect x="147.40" y="833.60" width="8.20" height="7.10" fill="#29a3e0" stroke="#222" stroke-width="0.7" />
<line x1="151.50" y1="832.25" x2="151.50" y2="833.94" stroke="#111" stroke-width="1"/>
<line x1="149.00" y1="832.25" x2="154.00" y2="832.25" stroke="#111" stroke-width="1"/>
<circle cx="148.50" cy="832.59" r="1.9" fill="#111"/>
<circle cx="151.50" cy="832.25" r="1.9" fill="#111"/>
<circle cx="154.50" cy="832.25" r="1.9" fill="#111"/>
<text x="149.80" y="858.40" font-size="11.2" text-anchor="middle" fill="#161616" font-weight="normal" letter-spacing="-0.15">67</text>
<line x1="166.30" y1="840.70" x2="166.30" y2="844.70" stroke="#555" stroke-width="1"/>
<rect x="162.20" y="834.79" width="8.20" height="5.91" fill="#555" stroke="#222" stroke-width="0.7" />
<line x1="166.30" y1="832.25" x2="166.30" y2="837.32" stroke="#111" stroke-width="1"/>
<line x1="163.80" y1="832.25" x2="168.80" y2="832.25" stroke="#111" stroke-width="1"/>
<circle cx="163.30" cy="833.10" r="1.9" fill="#111"/>
<circle cx="166.30" cy="832.25" r="1.9" fill="#111"/>
<circle cx="169.30" cy="833.10" r="1.9" fill="#111"/>
<text x="164.44" y="858.40" font-size="11.2" text-anchor="middle" fill="#161616" font-weight="normal" letter-spacing="-0.15">NT</text>
<line x1="181.10" y1="840.70" x2="181.10" y2="844.70" stroke="#555" stroke-width="1"/>
<rect x="177.00" y="820.93" width="8.20" height="19.77" fill="#555" stroke="#222" stroke-width="0.7" />
<line x1="181.10" y1="813.66" x2="181.10" y2="825.49" stroke="#111" stroke-width="1"/>
<line x1="178.60" y1="813.66" x2="183.60" y2="813.66" stroke="#111" stroke-width="1"/>
<circle cx="181.10" cy="814.00" r="1.9" fill="#111"/>
<circle cx="178.10" cy="821.60" r="1.9" fill="#111"/>
<circle cx="184.10" cy="821.60" r="1.9" fill="#111"/>
<text x="179.08" y="858.40" font-size="11.2" text-anchor="middle" fill="#161616" font-weight="normal" letter-spacing="-0.15">66</text>
<line x1="195.90" y1="840.70" x2="195.90" y2="844.70" stroke="#555" stroke-width="1"/>
<rect x="191.80" y="835.63" width="8.20" height="5.07" fill="#555" stroke="#222" stroke-width="0.7" />
<line x1="195.90" y1="832.25" x2="195.90" y2="839.01" stroke="#111" stroke-width="1"/>
<line x1="193.40" y1="832.25" x2="198.40" y2="832.25" stroke="#111" stroke-width="1"/>
<circle cx="192.90" cy="834.79" r="1.9" fill="#111"/>
<circle cx="195.90" cy="833.10" r="1.9" fill="#111"/>
<circle cx="198.90" cy="834.79" r="1.9" fill="#111"/>
<text x="193.72" y="858.40" font-size="11.2" text-anchor="middle" fill="#161616" font-weight="normal" letter-spacing="-0.15">67</text>
<line x1="210.70" y1="840.70" x2="210.70" y2="844.70" stroke="#555" stroke-width="1"/>
<rect x="206.60" y="734.23" width="8.20" height="106.47" fill="#e8202a" stroke="#222" stroke-width="0.7" />
<line x1="210.70" y1="730.85" x2="210.70" y2="735.92" stroke="#111" stroke-width="1"/>
<line x1="208.20" y1="730.85" x2="213.20" y2="730.85" stroke="#111" stroke-width="1"/>
<circle cx="208.20" cy="731.70" r="1.9" fill="#111"/>
<circle cx="210.70" cy="733.38" r="1.9" fill="#111"/>
<circle cx="213.20" cy="731.70" r="1.9" fill="#111"/>
<text x="208.36" y="858.40" font-size="11.2" text-anchor="middle" fill="#161616" font-weight="normal" letter-spacing="-0.15">NT</text>
<line x1="225.50" y1="840.70" x2="225.50" y2="844.70" stroke="#555" stroke-width="1"/>
<rect x="221.40" y="809.44" width="8.20" height="31.26" fill="#e8202a" stroke="#222" stroke-width="0.7" />
<line x1="225.50" y1="803.52" x2="225.50" y2="813.66" stroke="#111" stroke-width="1"/>
<line x1="223.00" y1="803.52" x2="228.00" y2="803.52" stroke="#111" stroke-width="1"/>
<circle cx="225.50" cy="803.86" r="1.9" fill="#111"/>
<circle cx="222.50" cy="809.77" r="1.9" fill="#111"/>
<circle cx="228.50" cy="809.77" r="1.9" fill="#111"/>
<text x="223.00" y="858.40" font-size="11.2" text-anchor="middle" fill="#161616" font-weight="normal" letter-spacing="-0.15">66</text>
<line x1="240.30" y1="840.70" x2="240.30" y2="844.70" stroke="#555" stroke-width="1"/>
<rect x="236.20" y="823.29" width="8.20" height="17.41" fill="#e8202a" stroke="#222" stroke-width="0.7" />
<line x1="240.30" y1="820.42" x2="240.30" y2="825.49" stroke="#111" stroke-width="1"/>
<line x1="237.80" y1="820.42" x2="242.80" y2="820.42" stroke="#111" stroke-width="1"/>
<circle cx="237.30" cy="821.60" r="1.9" fill="#111"/>
<circle cx="240.30" cy="823.29" r="1.9" fill="#111"/>
<circle cx="243.30" cy="821.60" r="1.9" fill="#111"/>
<text x="237.64" y="858.40" font-size="11.2" text-anchor="middle" fill="#161616" font-weight="normal" letter-spacing="-0.15">67</text>
<line x1="71.50" y1="866.80" x2="113.00" y2="866.80" stroke="#999" stroke-width="1"/>
<line x1="115.80" y1="866.80" x2="158.00" y2="866.80" stroke="#999" stroke-width="1"/>
<line x1="160.50" y1="866.80" x2="201.80" y2="866.80" stroke="#999" stroke-width="1"/>
<line x1="204.30" y1="866.80" x2="246.30" y2="866.80" stroke="#999" stroke-width="1"/>
<text x="92.20" y="881.70" font-size="11.2" text-anchor="middle" fill="#161616" font-weight="normal" >DMSO</text>
<text x="136.50" y="881.70" font-size="11.2" text-anchor="middle" fill="#161616" font-weight="normal" >10</text>
<text x="136.50" y="894.60" font-size="11.2" text-anchor="middle" fill="#161616" font-weight="normal" >µmol/L</text>
<text x="136.50" y="908.20" font-size="11.2" text-anchor="middle" fill="#161616" font-weight="normal" >Nut</text>
<text x="180.80" y="881.70" font-size="11.2" text-anchor="middle" fill="#161616" font-weight="normal" >12.5</text>
<text x="180.80" y="894.60" font-size="11.2" text-anchor="middle" fill="#161616" font-weight="normal" >nmol/L</text>
<text x="180.80" y="908.20" font-size="11.2" text-anchor="middle" fill="#161616" font-weight="normal" >Carf</text>
<text x="224.60" y="881.70" font-size="11.2" text-anchor="middle" fill="#161616" font-weight="normal" >Combo</text>
<line x1="73.80" y1="715.30" x2="214.70" y2="715.30" stroke="#555" stroke-width="1.1"/>
<text x="144.35" y="714.20" font-size="9.6" text-anchor="middle" fill="#1a1a1a" font-weight="bold" letter-spacing="0.8" style="stroke-width:0">****</text>
<line x1="117.90" y1="724.50" x2="214.70" y2="724.50" stroke="#999" stroke-width="1.1"/>
<text x="166.40" y="723.40" font-size="9.6" text-anchor="middle" fill="#1a1a1a" font-weight="bold" letter-spacing="0.8" style="stroke-width:0">**</text>
<line x1="117.90" y1="734.00" x2="152.70" y2="734.00" stroke="#555" stroke-width="1.1"/>
<text x="135.40" y="732.90" font-size="9.6" text-anchor="middle" fill="#1a1a1a" font-weight="bold" letter-spacing="0.8" style="stroke-width:0">***</text>
<line x1="117.90" y1="743.20" x2="140.30" y2="743.20" stroke="#999" stroke-width="1.1"/>
<text x="129.20" y="742.10" font-size="9.6" text-anchor="middle" fill="#1a1a1a" font-weight="bold" letter-spacing="0.8" style="stroke-width:0">**</text>
<line x1="73.80" y1="752.10" x2="126.00" y2="752.10" stroke="#555" stroke-width="1.1"/>
<text x="100.00" y="751.00" font-size="9.6" text-anchor="middle" fill="#1a1a1a" font-weight="bold" letter-spacing="0.8" style="stroke-width:0">***</text>
<line x1="206.60" y1="696.50" x2="241.80" y2="696.50" stroke="#555" stroke-width="1.1"/>
<text x="224.30" y="695.40" font-size="9.6" text-anchor="middle" fill="#1a1a1a" font-weight="bold" letter-spacing="0.8" style="stroke-width:0">****</text>
<line x1="206.60" y1="705.80" x2="229.70" y2="705.80" stroke="#999" stroke-width="1.1"/>
<text x="218.25" y="704.70" font-size="9.6" text-anchor="middle" fill="#1a1a1a" font-weight="bold" letter-spacing="0.8" style="stroke-width:0">****</text>
<text x="0" y="0" font-size="11.6" text-anchor="middle" fill="#161616" transform="translate(37.9,770.2) rotate(-90)">% Annexin V+ (72 h)</text>
<text x="285.40" y="697.20" font-size="16.6" text-anchor="start" fill="#111" font-weight="bold" >F</text>
<text x="373.30" y="706.30" font-size="11.6" text-anchor="middle" fill="#161616" font-weight="normal" >10 µmol/L</text>
<text x="432.00" y="706.30" font-size="11.6" text-anchor="middle" fill="#161616" font-weight="normal" >12.5 nmol/L</text>
<text x="333.80" y="720.00" font-size="11.6" text-anchor="middle" fill="#161616" font-weight="normal" >DMSO</text>
<text x="378.20" y="720.00" font-size="11.6" text-anchor="middle" fill="#161616" font-weight="normal" >Nut</text>
<text x="426.30" y="720.00" font-size="11.6" text-anchor="middle" fill="#161616" font-weight="normal" >Carf</text>
<text x="470.60" y="720.00" font-size="11.6" text-anchor="middle" fill="#161616" font-weight="normal" >Combo</text>
<line x1="314.50" y1="727.00" x2="355.50" y2="727.00" stroke="#777" stroke-width="1"/>
<line x1="359.50" y1="727.00" x2="401.30" y2="727.00" stroke="#777" stroke-width="1"/>
<line x1="404.50" y1="727.00" x2="446.30" y2="727.00" stroke="#777" stroke-width="1"/>
<line x1="450.00" y1="727.00" x2="491.30" y2="727.00" stroke="#777" stroke-width="1"/>
<text x="321.80" y="743.30" font-size="11.4" text-anchor="middle" fill="#161616" font-weight="normal" letter-spacing="-0.2">NT</text>
<text x="337.00" y="743.30" font-size="11.4" text-anchor="middle" fill="#161616" font-weight="normal" letter-spacing="-0.2">66</text>
<text x="350.90" y="743.30" font-size="11.4" text-anchor="middle" fill="#161616" font-weight="normal" letter-spacing="-0.2">67</text>
<text x="366.00" y="743.30" font-size="11.4" text-anchor="middle" fill="#161616" font-weight="normal" letter-spacing="-0.2">NT</text>
<text x="381.30" y="743.30" font-size="11.4" text-anchor="middle" fill="#161616" font-weight="normal" letter-spacing="-0.2">66</text>
<text x="395.30" y="743.30" font-size="11.4" text-anchor="middle" fill="#161616" font-weight="normal" letter-spacing="-0.2">67</text>
<text x="410.80" y="743.30" font-size="11.4" text-anchor="middle" fill="#161616" font-weight="normal" letter-spacing="-0.2">NT</text>
<text x="426.00" y="743.30" font-size="11.4" text-anchor="middle" fill="#161616" font-weight="normal" letter-spacing="-0.2">66</text>
<text x="440.00" y="743.30" font-size="11.4" text-anchor="middle" fill="#161616" font-weight="normal" letter-spacing="-0.2">67</text>
<text x="456.50" y="743.30" font-size="11.4" text-anchor="middle" fill="#161616" font-weight="normal" letter-spacing="-0.2">NT</text>
<text x="472.00" y="743.30" font-size="11.4" text-anchor="middle" fill="#161616" font-weight="normal" letter-spacing="-0.2">66</text>
<text x="486.10" y="743.30" font-size="11.4" text-anchor="middle" fill="#161616" font-weight="normal" letter-spacing="-0.2">67</text>
<rect x="312.50" y="749.50" width="187.50" height="28.50" fill="#ebebeb" stroke="none" stroke-width="1" />
<g clip-path="url(#bc7)">
<rect x="312.50" y="749.50" width="187.50" height="28.50" fill="url(#vig)" stroke="none" stroke-width="1" />
<rect x="317.55" y="763.00" width="12.50" height="3.00" rx="1.50" fill="#111" opacity="0.50" filter="url(#bA)"/>
<rect x="362.40" y="762.90" width="12.50" height="3.20" rx="1.60" fill="#111" opacity="1.00" filter="url(#bA)"/>
<rect x="452.35" y="763.00" width="12.00" height="3.00" rx="1.50" fill="#111" opacity="0.80" filter="url(#bA)"/>
<rect x="363.15" y="753.25" width="11.00" height="2.50" rx="1.25" fill="#111" opacity="0.30" filter="url(#bB)"/>
<rect x="363.15" y="756.75" width="11.00" height="2.50" rx="1.25" fill="#111" opacity="0.20" filter="url(#bB)"/>
<rect x="318.30" y="755.75" width="11.00" height="2.50" rx="1.25" fill="#111" opacity="0.10" filter="url(#bB)"/>
<rect x="452.85" y="753.75" width="11.00" height="2.50" rx="1.25" fill="#111" opacity="0.12" filter="url(#bB)"/>
<rect x="482.75" y="763.25" width="11.00" height="2.50" rx="1.25" fill="#111" opacity="0.10" filter="url(#bB)"/>
<rect x="393.05" y="763.25" width="11.00" height="2.50" rx="1.25" fill="#111" opacity="0.06" filter="url(#bB)"/>
</g>
<rect x="312.50" y="749.50" width="187.50" height="28.50" fill="none" stroke="#6a6a6a" stroke-width="1.3" />
<text x="307.50" y="768.80" font-size="11.0" text-anchor="end" fill="#161616" font-weight="normal" >p53</text>
<rect x="312.50" y="781.30" width="187.50" height="28.50" fill="#ebebeb" stroke="none" stroke-width="1" />
<g clip-path="url(#bc8)">
<rect x="312.50" y="781.30" width="187.50" height="28.50" fill="url(#vig)" stroke="none" stroke-width="1" />
<rect x="318.30" y="794.80" width="11.00" height="4.00" rx="1.60" fill="#111" opacity="0.14" filter="url(#bC)"/>
<rect x="362.65" y="793.30" width="12.00" height="8.00" rx="1.60" fill="#111" opacity="1.00" filter="url(#bC)"/>
<rect x="452.35" y="793.30" width="12.00" height="8.00" rx="1.60" fill="#111" opacity="1.00" filter="url(#bC)"/>
<rect x="363.15" y="785.30" width="11.00" height="8.00" rx="1.60" fill="#111" opacity="0.30" filter="url(#bD)"/>
<rect x="452.85" y="785.30" width="11.00" height="8.00" rx="1.60" fill="#111" opacity="0.30" filter="url(#bD)"/>
<rect x="363.15" y="801.30" width="11.00" height="4.00" rx="1.60" fill="#111" opacity="0.20" filter="url(#bD)"/>
<rect x="452.85" y="801.30" width="11.00" height="4.00" rx="1.60" fill="#111" opacity="0.20" filter="url(#bD)"/>
<rect x="348.20" y="794.80" width="11.00" height="4.00" rx="1.60" fill="#111" opacity="0.08" filter="url(#bC)"/>
<rect x="378.10" y="794.80" width="11.00" height="4.00" rx="1.60" fill="#111" opacity="0.08" filter="url(#bC)"/>
<rect x="393.05" y="794.80" width="11.00" height="4.00" rx="1.60" fill="#111" opacity="0.06" filter="url(#bC)"/>
<rect x="467.80" y="794.80" width="11.00" height="4.00" rx="1.60" fill="#111" opacity="0.08" filter="url(#bC)"/>
<rect x="482.75" y="794.80" width="11.00" height="4.00" rx="1.60" fill="#111" opacity="0.10" filter="url(#bC)"/>
</g>
<rect x="312.50" y="781.30" width="187.50" height="28.50" fill="none" stroke="#6a6a6a" stroke-width="1.3" />
<text x="307.50" y="801.00" font-size="11.0" text-anchor="end" fill="#161616" font-weight="normal" >MDM2</text>
<rect x="312.50" y="811.50" width="187.50" height="29.70" fill="#eeeeee" stroke="none" stroke-width="1" />
<g clip-path="url(#bc9)">
<rect x="312.50" y="811.50" width="187.50" height="29.70" fill="url(#vig)" stroke="none" stroke-width="1" />
<rect x="317.05" y="824.05" width="13.50" height="4.50" rx="1.60" fill="#111" opacity="0.62" filter="url(#bB)"/>
<rect x="332.00" y="824.05" width="13.50" height="4.50" rx="1.60" fill="#111" opacity="0.40" filter="url(#bB)"/>
<rect x="346.95" y="824.05" width="13.50" height="4.50" rx="1.60" fill="#111" opacity="0.45" filter="url(#bB)"/>
<rect x="361.90" y="824.05" width="13.50" height="4.50" rx="1.60" fill="#111" opacity="0.50" filter="url(#bB)"/>
<rect x="376.85" y="824.05" width="13.50" height="4.50" rx="1.60" fill="#111" opacity="0.32" filter="url(#bB)"/>
<rect x="391.80" y="824.05" width="13.50" height="4.50" rx="1.60" fill="#111" opacity="0.38" filter="url(#bB)"/>
<rect x="406.75" y="824.05" width="13.50" height="4.50" rx="1.60" fill="#111" opacity="0.40" filter="url(#bB)"/>
<rect x="421.70" y="824.05" width="13.50" height="4.50" rx="1.60" fill="#111" opacity="0.38" filter="url(#bB)"/>
<rect x="436.65" y="824.05" width="13.50" height="4.50" rx="1.60" fill="#111" opacity="0.42" filter="url(#bB)"/>
<rect x="451.60" y="824.05" width="13.50" height="4.50" rx="1.60" fill="#111" opacity="0.85" filter="url(#bB)"/>
<rect x="466.55" y="824.05" width="13.50" height="4.50" rx="1.60" fill="#111" opacity="0.42" filter="url(#bB)"/>
<rect x="481.50" y="824.05" width="13.50" height="4.50" rx="1.60" fill="#111" opacity="0.50" filter="url(#bB)"/>
<rect x="318.30" y="812.00" width="11.00" height="1.60" rx="0.80" fill="#111" opacity="0.80" filter="url(#bA)"/>
<rect x="333.25" y="812.25" width="11.00" height="1.50" rx="0.75" fill="#111" opacity="0.20" filter="url(#bA)"/>
<rect x="363.15" y="812.25" width="11.00" height="1.50" rx="0.75" fill="#111" opacity="0.15" filter="url(#bA)"/>
<rect x="452.85" y="812.25" width="11.00" height="1.50" rx="0.75" fill="#111" opacity="0.20" filter="url(#bA)"/>
</g>
<rect x="312.50" y="811.50" width="187.50" height="29.70" fill="none" stroke="#6a6a6a" stroke-width="1.3" />
<text x="307.50" y="830.00" font-size="11.0" text-anchor="end" fill="#161616" font-weight="normal" >NOXA</text>
<rect x="312.50" y="843.00" width="187.50" height="29.40" fill="#c6c6c6" stroke="none" stroke-width="1" />
<g clip-path="url(#bc10)">
<rect x="312.50" y="843.00" width="187.50" height="29.40" fill="url(#vig)" stroke="none" stroke-width="1" />
<rect x="316.55" y="855.10" width="14.50" height="3.80" rx="1.60" fill="#111" opacity="0.85" filter="url(#bB)"/>
<rect x="331.50" y="855.10" width="14.50" height="3.80" rx="1.60" fill="#111" opacity="0.85" filter="url(#bB)"/>
<rect x="346.45" y="855.10" width="14.50" height="3.80" rx="1.60" fill="#111" opacity="0.85" filter="url(#bB)"/>
<rect x="361.40" y="855.10" width="14.50" height="3.80" rx="1.60" fill="#111" opacity="0.85" filter="url(#bB)"/>
<rect x="376.35" y="855.10" width="14.50" height="3.80" rx="1.60" fill="#111" opacity="0.85" filter="url(#bB)"/>
<rect x="391.30" y="855.10" width="14.50" height="3.80" rx="1.60" fill="#111" opacity="0.85" filter="url(#bB)"/>
<rect x="406.25" y="855.10" width="14.50" height="3.80" rx="1.60" fill="#111" opacity="0.85" filter="url(#bB)"/>
<rect x="421.20" y="855.10" width="14.50" height="3.80" rx="1.60" fill="#111" opacity="0.85" filter="url(#bB)"/>
<rect x="436.15" y="855.10" width="14.50" height="3.80" rx="1.60" fill="#111" opacity="0.85" filter="url(#bB)"/>
<rect x="451.10" y="855.10" width="14.50" height="3.80" rx="1.60" fill="#111" opacity="0.85" filter="url(#bB)"/>
<rect x="466.05" y="855.10" width="14.50" height="3.80" rx="1.60" fill="#111" opacity="0.85" filter="url(#bB)"/>
<rect x="481.00" y="855.10" width="14.50" height="3.80" rx="1.60" fill="#111" opacity="0.85" filter="url(#bB)"/>
</g>
<rect x="312.50" y="843.00" width="187.50" height="29.40" fill="none" stroke="#6a6a6a" stroke-width="1.3" />
<text x="307.50" y="860.00" font-size="11.0" text-anchor="end" fill="#161616" font-weight="normal" >GAPDH</text>
</svg></body></html>
